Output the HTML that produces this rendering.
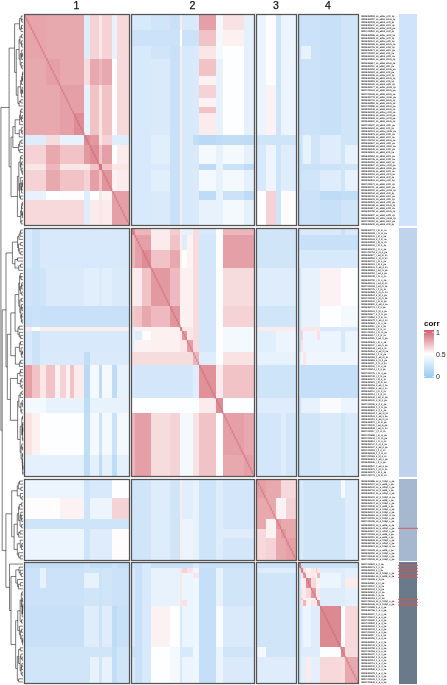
<!DOCTYPE html><html><head><meta charset="utf-8"><style>html,body{margin:0;padding:0;background:#fff}body{width:447px;height:685px;overflow:hidden}svg{display:block}text{font-family:"Liberation Sans",Arial,sans-serif}</style></head><body>
<svg width="447" height="685" viewBox="0 0 447 685" shape-rendering="crispEdges">
<rect x="24" y="14" width="8" height="16" fill="#e7a4aa"/>
<rect x="32" y="14" width="8" height="16" fill="#e7a4aa"/>
<rect x="40" y="14" width="6" height="16" fill="#e7a4aa"/>
<rect x="46" y="14" width="9" height="16" fill="#e8a9ae"/>
<rect x="55" y="14" width="5" height="16" fill="#e8a9ae"/>
<rect x="60" y="14" width="6" height="16" fill="#e8a9ae"/>
<rect x="66" y="14" width="4" height="16" fill="#e8a9ae"/>
<rect x="70" y="14" width="4" height="16" fill="#e8a9ae"/>
<rect x="74" y="14" width="10" height="16" fill="#e8a9ae"/>
<rect x="84" y="14" width="6" height="16" fill="#deecfb"/>
<rect x="90" y="14" width="9" height="16" fill="#f5d2d5"/>
<rect x="99" y="14" width="3" height="16" fill="#fae5e7"/>
<rect x="102" y="14" width="10" height="16" fill="#f5d2d5"/>
<rect x="112" y="14" width="5" height="16" fill="#e7f2fc"/>
<rect x="117" y="14" width="13" height="16" fill="#f7d9db"/>
<rect x="24" y="30" width="8" height="16" fill="#e7a4aa"/>
<rect x="32" y="30" width="8" height="16" fill="#e7a4aa"/>
<rect x="40" y="30" width="6" height="16" fill="#e7a4aa"/>
<rect x="46" y="30" width="9" height="16" fill="#e8a9ae"/>
<rect x="55" y="30" width="5" height="16" fill="#e8a9ae"/>
<rect x="60" y="30" width="6" height="16" fill="#e8a9ae"/>
<rect x="66" y="30" width="4" height="16" fill="#e8a9ae"/>
<rect x="70" y="30" width="4" height="16" fill="#e8a9ae"/>
<rect x="74" y="30" width="10" height="16" fill="#e8a9ae"/>
<rect x="84" y="30" width="6" height="16" fill="#deecfb"/>
<rect x="90" y="30" width="9" height="16" fill="#f5d2d5"/>
<rect x="99" y="30" width="3" height="16" fill="#fae5e7"/>
<rect x="102" y="30" width="10" height="16" fill="#f5d2d5"/>
<rect x="112" y="30" width="5" height="16" fill="#e7f2fc"/>
<rect x="117" y="30" width="13" height="16" fill="#f7d9db"/>
<rect x="24" y="46" width="8" height="13" fill="#e7a4aa"/>
<rect x="32" y="46" width="8" height="13" fill="#e7a4aa"/>
<rect x="40" y="46" width="6" height="13" fill="#e7a4aa"/>
<rect x="46" y="46" width="9" height="13" fill="#e8a9ae"/>
<rect x="55" y="46" width="5" height="13" fill="#e8a9ae"/>
<rect x="60" y="46" width="6" height="13" fill="#e8a9ae"/>
<rect x="66" y="46" width="4" height="13" fill="#e8a9ae"/>
<rect x="70" y="46" width="4" height="13" fill="#e8a9ae"/>
<rect x="74" y="46" width="10" height="13" fill="#e8a9ae"/>
<rect x="84" y="46" width="6" height="13" fill="#deecfb"/>
<rect x="90" y="46" width="9" height="13" fill="#f5d2d5"/>
<rect x="99" y="46" width="3" height="13" fill="#fae5e7"/>
<rect x="102" y="46" width="10" height="13" fill="#f5d2d5"/>
<rect x="112" y="46" width="5" height="13" fill="#e7f2fc"/>
<rect x="117" y="46" width="13" height="13" fill="#f7d9db"/>
<rect x="24" y="59" width="8" height="17" fill="#e8a9ae"/>
<rect x="32" y="59" width="8" height="17" fill="#e8a9ae"/>
<rect x="40" y="59" width="6" height="17" fill="#e8a9ae"/>
<rect x="46" y="59" width="9" height="17" fill="#e5a0a7"/>
<rect x="55" y="59" width="5" height="17" fill="#e5a0a7"/>
<rect x="60" y="59" width="6" height="17" fill="#e8a9ae"/>
<rect x="66" y="59" width="4" height="17" fill="#e8a9ae"/>
<rect x="70" y="59" width="4" height="17" fill="#e8a9ae"/>
<rect x="74" y="59" width="10" height="17" fill="#e8a9ae"/>
<rect x="84" y="59" width="6" height="17" fill="#f7dcde"/>
<rect x="90" y="59" width="9" height="17" fill="#e8a9ae"/>
<rect x="99" y="59" width="3" height="17" fill="#edb6ba"/>
<rect x="102" y="59" width="10" height="17" fill="#e8a9ae"/>
<rect x="112" y="59" width="5" height="17" fill="#fdfeff"/>
<rect x="117" y="59" width="13" height="17" fill="#f7d9db"/>
<rect x="24" y="76" width="8" height="9" fill="#e8a9ae"/>
<rect x="32" y="76" width="8" height="9" fill="#e8a9ae"/>
<rect x="40" y="76" width="6" height="9" fill="#e8a9ae"/>
<rect x="46" y="76" width="9" height="9" fill="#e5a0a7"/>
<rect x="55" y="76" width="5" height="9" fill="#e5a0a7"/>
<rect x="60" y="76" width="6" height="9" fill="#e8a9ae"/>
<rect x="66" y="76" width="4" height="9" fill="#e8a9ae"/>
<rect x="70" y="76" width="4" height="9" fill="#e8a9ae"/>
<rect x="74" y="76" width="10" height="9" fill="#e8a9ae"/>
<rect x="84" y="76" width="6" height="9" fill="#f7dcde"/>
<rect x="90" y="76" width="9" height="9" fill="#e8a9ae"/>
<rect x="99" y="76" width="3" height="9" fill="#edb6ba"/>
<rect x="102" y="76" width="10" height="9" fill="#e8a9ae"/>
<rect x="112" y="76" width="5" height="9" fill="#fdfeff"/>
<rect x="117" y="76" width="13" height="9" fill="#f7d9db"/>
<rect x="24" y="85" width="8" height="13" fill="#e8a9ae"/>
<rect x="32" y="85" width="8" height="13" fill="#e8a9ae"/>
<rect x="40" y="85" width="6" height="13" fill="#e8a9ae"/>
<rect x="46" y="85" width="9" height="13" fill="#e8a9ae"/>
<rect x="55" y="85" width="5" height="13" fill="#e8a9ae"/>
<rect x="60" y="85" width="6" height="13" fill="#e5a0a7"/>
<rect x="66" y="85" width="4" height="13" fill="#e5a0a7"/>
<rect x="70" y="85" width="4" height="13" fill="#e5a0a7"/>
<rect x="74" y="85" width="10" height="13" fill="#e5a0a7"/>
<rect x="84" y="85" width="6" height="13" fill="#e7f2fc"/>
<rect x="90" y="85" width="9" height="13" fill="#f1c3c7"/>
<rect x="99" y="85" width="3" height="13" fill="#fae5e7"/>
<rect x="102" y="85" width="10" height="13" fill="#f1c3c7"/>
<rect x="112" y="85" width="5" height="13" fill="#fefcfc"/>
<rect x="117" y="85" width="13" height="13" fill="#f7d9db"/>
<rect x="24" y="98" width="8" height="9" fill="#e8a9ae"/>
<rect x="32" y="98" width="8" height="9" fill="#e8a9ae"/>
<rect x="40" y="98" width="6" height="9" fill="#e8a9ae"/>
<rect x="46" y="98" width="9" height="9" fill="#e8a9ae"/>
<rect x="55" y="98" width="5" height="9" fill="#e8a9ae"/>
<rect x="60" y="98" width="6" height="9" fill="#e5a0a7"/>
<rect x="66" y="98" width="4" height="9" fill="#e5a0a7"/>
<rect x="70" y="98" width="4" height="9" fill="#e5a0a7"/>
<rect x="74" y="98" width="10" height="9" fill="#e5a0a7"/>
<rect x="84" y="98" width="6" height="9" fill="#e7f2fc"/>
<rect x="90" y="98" width="9" height="9" fill="#f1c3c7"/>
<rect x="99" y="98" width="3" height="9" fill="#fae5e7"/>
<rect x="102" y="98" width="10" height="9" fill="#f1c3c7"/>
<rect x="112" y="98" width="5" height="9" fill="#fefcfc"/>
<rect x="117" y="98" width="13" height="9" fill="#f7d9db"/>
<rect x="24" y="107" width="8" height="6" fill="#e8a9ae"/>
<rect x="32" y="107" width="8" height="6" fill="#e8a9ae"/>
<rect x="40" y="107" width="6" height="6" fill="#e8a9ae"/>
<rect x="46" y="107" width="9" height="6" fill="#e8a9ae"/>
<rect x="55" y="107" width="5" height="6" fill="#e8a9ae"/>
<rect x="60" y="107" width="6" height="6" fill="#e5a0a7"/>
<rect x="66" y="107" width="4" height="6" fill="#e5a0a7"/>
<rect x="70" y="107" width="4" height="6" fill="#e5a0a7"/>
<rect x="74" y="107" width="10" height="6" fill="#e5a0a7"/>
<rect x="84" y="107" width="6" height="6" fill="#e7f2fc"/>
<rect x="90" y="107" width="9" height="6" fill="#f1c3c7"/>
<rect x="99" y="107" width="3" height="6" fill="#fae5e7"/>
<rect x="102" y="107" width="10" height="6" fill="#f1c3c7"/>
<rect x="112" y="107" width="5" height="6" fill="#fefcfc"/>
<rect x="117" y="107" width="13" height="6" fill="#f7d9db"/>
<rect x="24" y="113" width="8" height="22" fill="#e8a9ae"/>
<rect x="32" y="113" width="8" height="22" fill="#e8a9ae"/>
<rect x="40" y="113" width="6" height="22" fill="#e8a9ae"/>
<rect x="46" y="113" width="9" height="22" fill="#e8a9ae"/>
<rect x="55" y="113" width="5" height="22" fill="#e8a9ae"/>
<rect x="60" y="113" width="6" height="22" fill="#e5a0a7"/>
<rect x="66" y="113" width="4" height="22" fill="#e5a0a7"/>
<rect x="70" y="113" width="4" height="22" fill="#e5a0a7"/>
<rect x="74" y="113" width="10" height="22" fill="#de8d96"/>
<rect x="84" y="113" width="6" height="22" fill="#e7f2fc"/>
<rect x="90" y="113" width="9" height="22" fill="#f1c3c7"/>
<rect x="99" y="113" width="3" height="22" fill="#fae5e7"/>
<rect x="102" y="113" width="10" height="22" fill="#f1c3c7"/>
<rect x="112" y="113" width="5" height="22" fill="#fefcfc"/>
<rect x="117" y="113" width="13" height="22" fill="#f7d9db"/>
<rect x="24" y="135" width="8" height="10" fill="#deecfb"/>
<rect x="32" y="135" width="8" height="10" fill="#deecfb"/>
<rect x="40" y="135" width="6" height="10" fill="#deecfb"/>
<rect x="46" y="135" width="9" height="10" fill="#f7dcde"/>
<rect x="55" y="135" width="5" height="10" fill="#f7dcde"/>
<rect x="60" y="135" width="6" height="10" fill="#e7f2fc"/>
<rect x="66" y="135" width="4" height="10" fill="#e7f2fc"/>
<rect x="70" y="135" width="4" height="10" fill="#e7f2fc"/>
<rect x="74" y="135" width="10" height="10" fill="#e7f2fc"/>
<rect x="84" y="135" width="6" height="10" fill="#de8d96"/>
<rect x="90" y="135" width="9" height="10" fill="#e399a0"/>
<rect x="99" y="135" width="3" height="10" fill="#fae5e7"/>
<rect x="102" y="135" width="10" height="10" fill="#f5d2d5"/>
<rect x="112" y="135" width="5" height="10" fill="#deecfb"/>
<rect x="117" y="135" width="13" height="10" fill="#deecfb"/>
<rect x="24" y="145" width="8" height="19" fill="#f5d2d5"/>
<rect x="32" y="145" width="8" height="19" fill="#f5d2d5"/>
<rect x="40" y="145" width="6" height="19" fill="#f5d2d5"/>
<rect x="46" y="145" width="9" height="19" fill="#e8a9ae"/>
<rect x="55" y="145" width="5" height="19" fill="#e8a9ae"/>
<rect x="60" y="145" width="6" height="19" fill="#f1c3c7"/>
<rect x="66" y="145" width="4" height="19" fill="#f1c3c7"/>
<rect x="70" y="145" width="4" height="19" fill="#f1c3c7"/>
<rect x="74" y="145" width="10" height="19" fill="#f1c3c7"/>
<rect x="84" y="145" width="6" height="19" fill="#e399a0"/>
<rect x="90" y="145" width="9" height="19" fill="#de8d96"/>
<rect x="99" y="145" width="3" height="19" fill="#f1c3c7"/>
<rect x="102" y="145" width="10" height="19" fill="#e5a0a7"/>
<rect x="112" y="145" width="5" height="19" fill="#fdfeff"/>
<rect x="117" y="145" width="13" height="19" fill="#fbebec"/>
<rect x="24" y="164" width="8" height="6" fill="#fae5e7"/>
<rect x="32" y="164" width="8" height="6" fill="#fae5e7"/>
<rect x="40" y="164" width="6" height="6" fill="#fae5e7"/>
<rect x="46" y="164" width="9" height="6" fill="#edb6ba"/>
<rect x="55" y="164" width="5" height="6" fill="#edb6ba"/>
<rect x="60" y="164" width="6" height="6" fill="#fae5e7"/>
<rect x="66" y="164" width="4" height="6" fill="#fae5e7"/>
<rect x="70" y="164" width="4" height="6" fill="#fae5e7"/>
<rect x="74" y="164" width="10" height="6" fill="#fae5e7"/>
<rect x="84" y="164" width="6" height="6" fill="#fae5e7"/>
<rect x="90" y="164" width="9" height="6" fill="#f1c3c7"/>
<rect x="99" y="164" width="3" height="6" fill="#d77a85"/>
<rect x="102" y="164" width="10" height="6" fill="#f1c3c7"/>
<rect x="112" y="164" width="5" height="6" fill="#fae5e7"/>
<rect x="117" y="164" width="13" height="6" fill="#fae5e7"/>
<rect x="24" y="170" width="8" height="21" fill="#f5d2d5"/>
<rect x="32" y="170" width="8" height="21" fill="#f5d2d5"/>
<rect x="40" y="170" width="6" height="21" fill="#f5d2d5"/>
<rect x="46" y="170" width="9" height="21" fill="#e8a9ae"/>
<rect x="55" y="170" width="5" height="21" fill="#e8a9ae"/>
<rect x="60" y="170" width="6" height="21" fill="#f1c3c7"/>
<rect x="66" y="170" width="4" height="21" fill="#f1c3c7"/>
<rect x="70" y="170" width="4" height="21" fill="#f1c3c7"/>
<rect x="74" y="170" width="10" height="21" fill="#f1c3c7"/>
<rect x="84" y="170" width="6" height="21" fill="#f5d2d5"/>
<rect x="90" y="170" width="9" height="21" fill="#e5a0a7"/>
<rect x="99" y="170" width="3" height="21" fill="#f1c3c7"/>
<rect x="102" y="170" width="10" height="21" fill="#e1959c"/>
<rect x="112" y="170" width="5" height="21" fill="#fcf2f3"/>
<rect x="117" y="170" width="13" height="21" fill="#fbebec"/>
<rect x="24" y="191" width="8" height="9" fill="#e7f2fc"/>
<rect x="32" y="191" width="8" height="9" fill="#e7f2fc"/>
<rect x="40" y="191" width="6" height="9" fill="#e7f2fc"/>
<rect x="46" y="191" width="9" height="9" fill="#fdfeff"/>
<rect x="55" y="191" width="5" height="9" fill="#fdfeff"/>
<rect x="60" y="191" width="6" height="9" fill="#fefcfc"/>
<rect x="66" y="191" width="4" height="9" fill="#fefcfc"/>
<rect x="70" y="191" width="4" height="9" fill="#fefcfc"/>
<rect x="74" y="191" width="10" height="9" fill="#fefcfc"/>
<rect x="84" y="191" width="6" height="9" fill="#deecfb"/>
<rect x="90" y="191" width="9" height="9" fill="#fdfeff"/>
<rect x="99" y="191" width="3" height="9" fill="#fae5e7"/>
<rect x="102" y="191" width="10" height="9" fill="#fcf2f3"/>
<rect x="112" y="191" width="5" height="9" fill="#e5a0a7"/>
<rect x="117" y="191" width="13" height="9" fill="#e5a0a7"/>
<rect x="24" y="200" width="8" height="26" fill="#f7d9db"/>
<rect x="32" y="200" width="8" height="26" fill="#f7d9db"/>
<rect x="40" y="200" width="6" height="26" fill="#f7d9db"/>
<rect x="46" y="200" width="9" height="26" fill="#f7d9db"/>
<rect x="55" y="200" width="5" height="26" fill="#f7d9db"/>
<rect x="60" y="200" width="6" height="26" fill="#f7d9db"/>
<rect x="66" y="200" width="4" height="26" fill="#f7d9db"/>
<rect x="70" y="200" width="4" height="26" fill="#f7d9db"/>
<rect x="74" y="200" width="10" height="26" fill="#f7d9db"/>
<rect x="84" y="200" width="6" height="26" fill="#deecfb"/>
<rect x="90" y="200" width="9" height="26" fill="#fbebec"/>
<rect x="99" y="200" width="3" height="26" fill="#fae5e7"/>
<rect x="102" y="200" width="10" height="26" fill="#fbebec"/>
<rect x="112" y="200" width="5" height="26" fill="#e5a0a7"/>
<rect x="117" y="200" width="13" height="26" fill="#e5a0a7"/>
<rect x="131" y="14" width="4" height="16" fill="#d7e9fa"/>
<rect x="135" y="14" width="7" height="16" fill="#d7e9fa"/>
<rect x="142" y="14" width="9" height="16" fill="#d7e9fa"/>
<rect x="151" y="14" width="19" height="16" fill="#d1e5f9"/>
<rect x="170" y="14" width="10" height="16" fill="#c8e1f8"/>
<rect x="180" y="14" width="2" height="16" fill="#fbedee"/>
<rect x="182" y="14" width="5" height="16" fill="#d7e9fa"/>
<rect x="187" y="14" width="6" height="16" fill="#d7e9fa"/>
<rect x="193" y="14" width="6" height="16" fill="#daeafa"/>
<rect x="199" y="14" width="17" height="16" fill="#e5a0a7"/>
<rect x="216" y="14" width="7" height="16" fill="#f4f9fe"/>
<rect x="223" y="14" width="21" height="16" fill="#f9e2e3"/>
<rect x="244" y="14" width="11" height="16" fill="#e4f0fc"/>
<rect x="131" y="30" width="4" height="16" fill="#cbe2f8"/>
<rect x="135" y="30" width="7" height="16" fill="#cbe2f8"/>
<rect x="142" y="30" width="9" height="16" fill="#cbe2f8"/>
<rect x="151" y="30" width="19" height="16" fill="#cbe2f8"/>
<rect x="170" y="30" width="10" height="16" fill="#cbe2f8"/>
<rect x="180" y="30" width="2" height="16" fill="#fdfeff"/>
<rect x="182" y="30" width="5" height="16" fill="#cbe2f8"/>
<rect x="187" y="30" width="6" height="16" fill="#cbe2f8"/>
<rect x="193" y="30" width="6" height="16" fill="#cbe2f8"/>
<rect x="199" y="30" width="17" height="16" fill="#f1c3c7"/>
<rect x="216" y="30" width="7" height="16" fill="#f4f9fe"/>
<rect x="223" y="30" width="21" height="16" fill="#fcf0f0"/>
<rect x="244" y="30" width="11" height="16" fill="#e4f0fc"/>
<rect x="131" y="46" width="4" height="13" fill="#d7e9fa"/>
<rect x="135" y="46" width="7" height="13" fill="#d7e9fa"/>
<rect x="142" y="46" width="9" height="13" fill="#d7e9fa"/>
<rect x="151" y="46" width="19" height="13" fill="#d1e5f9"/>
<rect x="170" y="46" width="10" height="13" fill="#c8e1f8"/>
<rect x="180" y="46" width="2" height="13" fill="#fbedee"/>
<rect x="182" y="46" width="5" height="13" fill="#d7e9fa"/>
<rect x="187" y="46" width="6" height="13" fill="#d7e9fa"/>
<rect x="193" y="46" width="6" height="13" fill="#daeafa"/>
<rect x="199" y="46" width="17" height="13" fill="#fae5e7"/>
<rect x="216" y="46" width="7" height="13" fill="#f4f9fe"/>
<rect x="223" y="46" width="21" height="13" fill="#fdfeff"/>
<rect x="244" y="46" width="11" height="13" fill="#e4f0fc"/>
<rect x="131" y="59" width="4" height="17" fill="#d7e9fa"/>
<rect x="135" y="59" width="7" height="17" fill="#d7e9fa"/>
<rect x="142" y="59" width="9" height="17" fill="#d7e9fa"/>
<rect x="151" y="59" width="19" height="17" fill="#daeafa"/>
<rect x="170" y="59" width="10" height="17" fill="#c8e1f8"/>
<rect x="180" y="59" width="2" height="17" fill="#fbedee"/>
<rect x="182" y="59" width="5" height="17" fill="#d7e9fa"/>
<rect x="187" y="59" width="6" height="17" fill="#d7e9fa"/>
<rect x="193" y="59" width="6" height="17" fill="#daeafa"/>
<rect x="199" y="59" width="17" height="17" fill="#f1c3c7"/>
<rect x="216" y="59" width="7" height="17" fill="#e7f2fc"/>
<rect x="223" y="59" width="21" height="17" fill="#fdfeff"/>
<rect x="244" y="59" width="11" height="17" fill="#e4f0fc"/>
<rect x="131" y="76" width="4" height="9" fill="#d7e9fa"/>
<rect x="135" y="76" width="7" height="9" fill="#d7e9fa"/>
<rect x="142" y="76" width="9" height="9" fill="#d7e9fa"/>
<rect x="151" y="76" width="19" height="9" fill="#daeafa"/>
<rect x="170" y="76" width="10" height="9" fill="#c8e1f8"/>
<rect x="180" y="76" width="2" height="9" fill="#fbedee"/>
<rect x="182" y="76" width="5" height="9" fill="#d7e9fa"/>
<rect x="187" y="76" width="6" height="9" fill="#d7e9fa"/>
<rect x="193" y="76" width="6" height="9" fill="#daeafa"/>
<rect x="199" y="76" width="17" height="9" fill="#fcf2f3"/>
<rect x="216" y="76" width="7" height="9" fill="#e7f2fc"/>
<rect x="223" y="76" width="21" height="9" fill="#fdfeff"/>
<rect x="244" y="76" width="11" height="9" fill="#e4f0fc"/>
<rect x="131" y="85" width="4" height="13" fill="#d7e9fa"/>
<rect x="135" y="85" width="7" height="13" fill="#d7e9fa"/>
<rect x="142" y="85" width="9" height="13" fill="#d7e9fa"/>
<rect x="151" y="85" width="19" height="13" fill="#daeafa"/>
<rect x="170" y="85" width="10" height="13" fill="#c8e1f8"/>
<rect x="180" y="85" width="2" height="13" fill="#fbedee"/>
<rect x="182" y="85" width="5" height="13" fill="#d7e9fa"/>
<rect x="187" y="85" width="6" height="13" fill="#d7e9fa"/>
<rect x="193" y="85" width="6" height="13" fill="#daeafa"/>
<rect x="199" y="85" width="17" height="13" fill="#f5d2d5"/>
<rect x="216" y="85" width="7" height="13" fill="#e7f2fc"/>
<rect x="223" y="85" width="21" height="13" fill="#fdfeff"/>
<rect x="244" y="85" width="11" height="13" fill="#e4f0fc"/>
<rect x="131" y="98" width="4" height="9" fill="#d7e9fa"/>
<rect x="135" y="98" width="7" height="9" fill="#d7e9fa"/>
<rect x="142" y="98" width="9" height="9" fill="#d7e9fa"/>
<rect x="151" y="98" width="19" height="9" fill="#daeafa"/>
<rect x="170" y="98" width="10" height="9" fill="#c8e1f8"/>
<rect x="180" y="98" width="2" height="9" fill="#fbedee"/>
<rect x="182" y="98" width="5" height="9" fill="#d7e9fa"/>
<rect x="187" y="98" width="6" height="9" fill="#d7e9fa"/>
<rect x="193" y="98" width="6" height="9" fill="#daeafa"/>
<rect x="199" y="98" width="17" height="9" fill="#fcf2f3"/>
<rect x="216" y="98" width="7" height="9" fill="#e7f2fc"/>
<rect x="223" y="98" width="21" height="9" fill="#fdfeff"/>
<rect x="244" y="98" width="11" height="9" fill="#e4f0fc"/>
<rect x="131" y="107" width="4" height="6" fill="#d7e9fa"/>
<rect x="135" y="107" width="7" height="6" fill="#d7e9fa"/>
<rect x="142" y="107" width="9" height="6" fill="#d7e9fa"/>
<rect x="151" y="107" width="19" height="6" fill="#daeafa"/>
<rect x="170" y="107" width="10" height="6" fill="#c8e1f8"/>
<rect x="180" y="107" width="2" height="6" fill="#fbedee"/>
<rect x="182" y="107" width="5" height="6" fill="#d7e9fa"/>
<rect x="187" y="107" width="6" height="6" fill="#d7e9fa"/>
<rect x="193" y="107" width="6" height="6" fill="#daeafa"/>
<rect x="199" y="107" width="17" height="6" fill="#f1c3c7"/>
<rect x="216" y="107" width="7" height="6" fill="#e7f2fc"/>
<rect x="223" y="107" width="21" height="6" fill="#fdfeff"/>
<rect x="244" y="107" width="11" height="6" fill="#e4f0fc"/>
<rect x="131" y="113" width="4" height="22" fill="#d7e9fa"/>
<rect x="135" y="113" width="7" height="22" fill="#d7e9fa"/>
<rect x="142" y="113" width="9" height="22" fill="#d7e9fa"/>
<rect x="151" y="113" width="19" height="22" fill="#daeafa"/>
<rect x="170" y="113" width="10" height="22" fill="#c8e1f8"/>
<rect x="180" y="113" width="2" height="22" fill="#fbedee"/>
<rect x="182" y="113" width="5" height="22" fill="#d7e9fa"/>
<rect x="187" y="113" width="6" height="22" fill="#d7e9fa"/>
<rect x="193" y="113" width="6" height="22" fill="#daeafa"/>
<rect x="199" y="113" width="17" height="22" fill="#fbebec"/>
<rect x="216" y="113" width="7" height="22" fill="#e7f2fc"/>
<rect x="223" y="113" width="21" height="22" fill="#fdfeff"/>
<rect x="244" y="113" width="11" height="22" fill="#e4f0fc"/>
<rect x="131" y="135" width="4" height="10" fill="#d7e9fa"/>
<rect x="135" y="135" width="7" height="10" fill="#d7e9fa"/>
<rect x="142" y="135" width="9" height="10" fill="#d7e9fa"/>
<rect x="151" y="135" width="19" height="10" fill="#e1eefb"/>
<rect x="170" y="135" width="10" height="10" fill="#c8e1f8"/>
<rect x="180" y="135" width="2" height="10" fill="#fbedee"/>
<rect x="182" y="135" width="5" height="10" fill="#d7e9fa"/>
<rect x="187" y="135" width="6" height="10" fill="#d7e9fa"/>
<rect x="193" y="135" width="6" height="10" fill="#c2def7"/>
<rect x="199" y="135" width="17" height="10" fill="#bad9f6"/>
<rect x="216" y="135" width="7" height="10" fill="#bfdcf7"/>
<rect x="223" y="135" width="21" height="10" fill="#c2def7"/>
<rect x="244" y="135" width="11" height="10" fill="#bfdcf7"/>
<rect x="131" y="145" width="4" height="19" fill="#d7e9fa"/>
<rect x="135" y="145" width="7" height="19" fill="#d7e9fa"/>
<rect x="142" y="145" width="9" height="19" fill="#d7e9fa"/>
<rect x="151" y="145" width="19" height="19" fill="#e1eefb"/>
<rect x="170" y="145" width="10" height="19" fill="#c8e1f8"/>
<rect x="180" y="145" width="2" height="19" fill="#fbedee"/>
<rect x="182" y="145" width="5" height="19" fill="#d7e9fa"/>
<rect x="187" y="145" width="6" height="19" fill="#d7e9fa"/>
<rect x="193" y="145" width="6" height="19" fill="#daeafa"/>
<rect x="199" y="145" width="17" height="19" fill="#f4f9fe"/>
<rect x="216" y="145" width="7" height="19" fill="#e7f2fc"/>
<rect x="223" y="145" width="21" height="19" fill="#f4f9fe"/>
<rect x="244" y="145" width="11" height="19" fill="#e4f0fc"/>
<rect x="131" y="164" width="4" height="6" fill="#d7e9fa"/>
<rect x="135" y="164" width="7" height="6" fill="#d7e9fa"/>
<rect x="142" y="164" width="9" height="6" fill="#d7e9fa"/>
<rect x="151" y="164" width="19" height="6" fill="#daeafa"/>
<rect x="170" y="164" width="10" height="6" fill="#c8e1f8"/>
<rect x="180" y="164" width="2" height="6" fill="#fbedee"/>
<rect x="182" y="164" width="5" height="6" fill="#d7e9fa"/>
<rect x="187" y="164" width="6" height="6" fill="#d7e9fa"/>
<rect x="193" y="164" width="6" height="6" fill="#daeafa"/>
<rect x="199" y="164" width="17" height="6" fill="#bfdcf7"/>
<rect x="216" y="164" width="7" height="6" fill="#e7f2fc"/>
<rect x="223" y="164" width="21" height="6" fill="#cbe2f8"/>
<rect x="244" y="164" width="11" height="6" fill="#bfdcf7"/>
<rect x="131" y="170" width="4" height="21" fill="#d7e9fa"/>
<rect x="135" y="170" width="7" height="21" fill="#d7e9fa"/>
<rect x="142" y="170" width="9" height="21" fill="#d7e9fa"/>
<rect x="151" y="170" width="19" height="21" fill="#e1eefb"/>
<rect x="170" y="170" width="10" height="21" fill="#c8e1f8"/>
<rect x="180" y="170" width="2" height="21" fill="#fbedee"/>
<rect x="182" y="170" width="5" height="21" fill="#d7e9fa"/>
<rect x="187" y="170" width="6" height="21" fill="#d7e9fa"/>
<rect x="193" y="170" width="6" height="21" fill="#daeafa"/>
<rect x="199" y="170" width="17" height="21" fill="#f4f9fe"/>
<rect x="216" y="170" width="7" height="21" fill="#e7f2fc"/>
<rect x="223" y="170" width="21" height="21" fill="#f4f9fe"/>
<rect x="244" y="170" width="11" height="21" fill="#e4f0fc"/>
<rect x="131" y="191" width="4" height="9" fill="#d7e9fa"/>
<rect x="135" y="191" width="7" height="9" fill="#d7e9fa"/>
<rect x="142" y="191" width="9" height="9" fill="#d7e9fa"/>
<rect x="151" y="191" width="19" height="9" fill="#daeafa"/>
<rect x="170" y="191" width="10" height="9" fill="#c8e1f8"/>
<rect x="180" y="191" width="2" height="9" fill="#fbedee"/>
<rect x="182" y="191" width="5" height="9" fill="#d7e9fa"/>
<rect x="187" y="191" width="6" height="9" fill="#d7e9fa"/>
<rect x="193" y="191" width="6" height="9" fill="#daeafa"/>
<rect x="199" y="191" width="17" height="9" fill="#bfdcf7"/>
<rect x="216" y="191" width="7" height="9" fill="#e7f2fc"/>
<rect x="223" y="191" width="21" height="9" fill="#cbe2f8"/>
<rect x="244" y="191" width="11" height="9" fill="#bfdcf7"/>
<rect x="131" y="200" width="4" height="26" fill="#d7e9fa"/>
<rect x="135" y="200" width="7" height="26" fill="#d7e9fa"/>
<rect x="142" y="200" width="9" height="26" fill="#d7e9fa"/>
<rect x="151" y="200" width="19" height="26" fill="#daeafa"/>
<rect x="170" y="200" width="10" height="26" fill="#c8e1f8"/>
<rect x="180" y="200" width="2" height="26" fill="#fbedee"/>
<rect x="182" y="200" width="5" height="26" fill="#d7e9fa"/>
<rect x="187" y="200" width="6" height="26" fill="#d7e9fa"/>
<rect x="193" y="200" width="6" height="26" fill="#daeafa"/>
<rect x="199" y="200" width="17" height="26" fill="#e7f2fc"/>
<rect x="216" y="200" width="7" height="26" fill="#e7f2fc"/>
<rect x="223" y="200" width="21" height="26" fill="#f4f9fe"/>
<rect x="244" y="200" width="11" height="26" fill="#e4f0fc"/>
<rect x="256" y="14" width="10" height="16" fill="#ecf4fd"/>
<rect x="266" y="14" width="10" height="16" fill="#fefcfc"/>
<rect x="276" y="14" width="5" height="16" fill="#cee4f9"/>
<rect x="281" y="14" width="5" height="16" fill="#ecf4fd"/>
<rect x="286" y="14" width="11" height="16" fill="#ecf4fd"/>
<rect x="256" y="30" width="10" height="16" fill="#ecf4fd"/>
<rect x="266" y="30" width="10" height="16" fill="#fefcfc"/>
<rect x="276" y="30" width="5" height="16" fill="#cee4f9"/>
<rect x="281" y="30" width="5" height="16" fill="#ecf4fd"/>
<rect x="286" y="30" width="11" height="16" fill="#ecf4fd"/>
<rect x="256" y="46" width="10" height="13" fill="#ecf4fd"/>
<rect x="266" y="46" width="10" height="13" fill="#fefcfc"/>
<rect x="276" y="46" width="5" height="13" fill="#cee4f9"/>
<rect x="281" y="46" width="5" height="13" fill="#ecf4fd"/>
<rect x="286" y="46" width="11" height="13" fill="#ecf4fd"/>
<rect x="256" y="59" width="10" height="17" fill="#ecf4fd"/>
<rect x="266" y="59" width="10" height="17" fill="#fefcfc"/>
<rect x="276" y="59" width="5" height="17" fill="#cee4f9"/>
<rect x="281" y="59" width="5" height="17" fill="#ecf4fd"/>
<rect x="286" y="59" width="11" height="17" fill="#ecf4fd"/>
<rect x="256" y="76" width="10" height="9" fill="#ecf4fd"/>
<rect x="266" y="76" width="10" height="9" fill="#fefcfc"/>
<rect x="276" y="76" width="5" height="9" fill="#cee4f9"/>
<rect x="281" y="76" width="5" height="9" fill="#ecf4fd"/>
<rect x="286" y="76" width="11" height="9" fill="#ecf4fd"/>
<rect x="256" y="85" width="10" height="13" fill="#ecf4fd"/>
<rect x="266" y="85" width="10" height="13" fill="#fcf2f3"/>
<rect x="276" y="85" width="5" height="13" fill="#cee4f9"/>
<rect x="281" y="85" width="5" height="13" fill="#ecf4fd"/>
<rect x="286" y="85" width="11" height="13" fill="#ecf4fd"/>
<rect x="256" y="98" width="10" height="9" fill="#ecf4fd"/>
<rect x="266" y="98" width="10" height="9" fill="#fcf2f3"/>
<rect x="276" y="98" width="5" height="9" fill="#cee4f9"/>
<rect x="281" y="98" width="5" height="9" fill="#ecf4fd"/>
<rect x="286" y="98" width="11" height="9" fill="#ecf4fd"/>
<rect x="256" y="107" width="10" height="6" fill="#ecf4fd"/>
<rect x="266" y="107" width="10" height="6" fill="#fcf2f3"/>
<rect x="276" y="107" width="5" height="6" fill="#cee4f9"/>
<rect x="281" y="107" width="5" height="6" fill="#ecf4fd"/>
<rect x="286" y="107" width="11" height="6" fill="#ecf4fd"/>
<rect x="256" y="113" width="10" height="22" fill="#ecf4fd"/>
<rect x="266" y="113" width="10" height="22" fill="#fcf2f3"/>
<rect x="276" y="113" width="5" height="22" fill="#cee4f9"/>
<rect x="281" y="113" width="5" height="22" fill="#ecf4fd"/>
<rect x="286" y="113" width="11" height="22" fill="#ecf4fd"/>
<rect x="256" y="135" width="10" height="10" fill="#cee4f9"/>
<rect x="266" y="135" width="10" height="10" fill="#cee4f9"/>
<rect x="276" y="135" width="5" height="10" fill="#cee4f9"/>
<rect x="281" y="135" width="5" height="10" fill="#cee4f9"/>
<rect x="286" y="135" width="11" height="10" fill="#cee4f9"/>
<rect x="256" y="145" width="10" height="19" fill="#d7e9fa"/>
<rect x="266" y="145" width="10" height="19" fill="#ecf4fd"/>
<rect x="276" y="145" width="5" height="19" fill="#cee4f9"/>
<rect x="281" y="145" width="5" height="19" fill="#deecfb"/>
<rect x="286" y="145" width="11" height="19" fill="#deecfb"/>
<rect x="256" y="164" width="10" height="6" fill="#d7e9fa"/>
<rect x="266" y="164" width="10" height="6" fill="#ecf4fd"/>
<rect x="276" y="164" width="5" height="6" fill="#cee4f9"/>
<rect x="281" y="164" width="5" height="6" fill="#deecfb"/>
<rect x="286" y="164" width="11" height="6" fill="#deecfb"/>
<rect x="256" y="170" width="10" height="21" fill="#d7e9fa"/>
<rect x="266" y="170" width="10" height="21" fill="#ecf4fd"/>
<rect x="276" y="170" width="5" height="21" fill="#cee4f9"/>
<rect x="281" y="170" width="5" height="21" fill="#deecfb"/>
<rect x="286" y="170" width="11" height="21" fill="#deecfb"/>
<rect x="256" y="191" width="10" height="9" fill="#fdfeff"/>
<rect x="266" y="191" width="10" height="9" fill="#f5d2d5"/>
<rect x="276" y="191" width="5" height="9" fill="#cee4f9"/>
<rect x="281" y="191" width="5" height="9" fill="#fefcfc"/>
<rect x="286" y="191" width="11" height="9" fill="#fefcfc"/>
<rect x="256" y="200" width="10" height="26" fill="#fdfeff"/>
<rect x="266" y="200" width="10" height="26" fill="#f5d2d5"/>
<rect x="276" y="200" width="5" height="26" fill="#cee4f9"/>
<rect x="281" y="200" width="5" height="26" fill="#fefcfc"/>
<rect x="286" y="200" width="11" height="26" fill="#fefcfc"/>
<rect x="298" y="14" width="3" height="16" fill="#c2def7"/>
<rect x="301" y="14" width="2" height="16" fill="#cbe2f8"/>
<rect x="303" y="14" width="3" height="16" fill="#cbe2f8"/>
<rect x="306" y="14" width="5" height="16" fill="#cbe2f8"/>
<rect x="311" y="14" width="5" height="16" fill="#cbe2f8"/>
<rect x="316" y="14" width="1" height="16" fill="#cbe2f8"/>
<rect x="317" y="14" width="3" height="16" fill="#cbe2f8"/>
<rect x="320" y="14" width="21" height="16" fill="#c8e1f8"/>
<rect x="341" y="14" width="4" height="16" fill="#d1e5f9"/>
<rect x="345" y="14" width="14" height="16" fill="#d1e5f9"/>
<rect x="298" y="30" width="3" height="16" fill="#c2def7"/>
<rect x="301" y="30" width="2" height="16" fill="#cbe2f8"/>
<rect x="303" y="30" width="3" height="16" fill="#cbe2f8"/>
<rect x="306" y="30" width="5" height="16" fill="#cbe2f8"/>
<rect x="311" y="30" width="5" height="16" fill="#cbe2f8"/>
<rect x="316" y="30" width="1" height="16" fill="#cbe2f8"/>
<rect x="317" y="30" width="3" height="16" fill="#cbe2f8"/>
<rect x="320" y="30" width="21" height="16" fill="#c8e1f8"/>
<rect x="341" y="30" width="4" height="16" fill="#d1e5f9"/>
<rect x="345" y="30" width="14" height="16" fill="#d1e5f9"/>
<rect x="298" y="46" width="3" height="13" fill="#c2def7"/>
<rect x="301" y="46" width="2" height="13" fill="#e7f2fc"/>
<rect x="303" y="46" width="3" height="13" fill="#e7f2fc"/>
<rect x="306" y="46" width="5" height="13" fill="#e7f2fc"/>
<rect x="311" y="46" width="5" height="13" fill="#cbe2f8"/>
<rect x="316" y="46" width="1" height="13" fill="#cbe2f8"/>
<rect x="317" y="46" width="3" height="13" fill="#cbe2f8"/>
<rect x="320" y="46" width="21" height="13" fill="#c8e1f8"/>
<rect x="341" y="46" width="4" height="13" fill="#d1e5f9"/>
<rect x="345" y="46" width="14" height="13" fill="#d1e5f9"/>
<rect x="298" y="59" width="3" height="17" fill="#c2def7"/>
<rect x="301" y="59" width="2" height="17" fill="#cbe2f8"/>
<rect x="303" y="59" width="3" height="17" fill="#cbe2f8"/>
<rect x="306" y="59" width="5" height="17" fill="#cbe2f8"/>
<rect x="311" y="59" width="5" height="17" fill="#cbe2f8"/>
<rect x="316" y="59" width="1" height="17" fill="#cbe2f8"/>
<rect x="317" y="59" width="3" height="17" fill="#cbe2f8"/>
<rect x="320" y="59" width="21" height="17" fill="#c8e1f8"/>
<rect x="341" y="59" width="4" height="17" fill="#d1e5f9"/>
<rect x="345" y="59" width="14" height="17" fill="#d1e5f9"/>
<rect x="298" y="76" width="3" height="9" fill="#c2def7"/>
<rect x="301" y="76" width="2" height="9" fill="#cbe2f8"/>
<rect x="303" y="76" width="3" height="9" fill="#cbe2f8"/>
<rect x="306" y="76" width="5" height="9" fill="#cbe2f8"/>
<rect x="311" y="76" width="5" height="9" fill="#cbe2f8"/>
<rect x="316" y="76" width="1" height="9" fill="#cbe2f8"/>
<rect x="317" y="76" width="3" height="9" fill="#cbe2f8"/>
<rect x="320" y="76" width="21" height="9" fill="#c8e1f8"/>
<rect x="341" y="76" width="4" height="9" fill="#d1e5f9"/>
<rect x="345" y="76" width="14" height="9" fill="#d1e5f9"/>
<rect x="298" y="85" width="3" height="13" fill="#c2def7"/>
<rect x="301" y="85" width="2" height="13" fill="#cbe2f8"/>
<rect x="303" y="85" width="3" height="13" fill="#cbe2f8"/>
<rect x="306" y="85" width="5" height="13" fill="#cbe2f8"/>
<rect x="311" y="85" width="5" height="13" fill="#cbe2f8"/>
<rect x="316" y="85" width="1" height="13" fill="#cbe2f8"/>
<rect x="317" y="85" width="3" height="13" fill="#cbe2f8"/>
<rect x="320" y="85" width="21" height="13" fill="#c8e1f8"/>
<rect x="341" y="85" width="4" height="13" fill="#d1e5f9"/>
<rect x="345" y="85" width="14" height="13" fill="#d1e5f9"/>
<rect x="298" y="98" width="3" height="9" fill="#c2def7"/>
<rect x="301" y="98" width="2" height="9" fill="#cbe2f8"/>
<rect x="303" y="98" width="3" height="9" fill="#cbe2f8"/>
<rect x="306" y="98" width="5" height="9" fill="#cbe2f8"/>
<rect x="311" y="98" width="5" height="9" fill="#cbe2f8"/>
<rect x="316" y="98" width="1" height="9" fill="#cbe2f8"/>
<rect x="317" y="98" width="3" height="9" fill="#cbe2f8"/>
<rect x="320" y="98" width="21" height="9" fill="#c8e1f8"/>
<rect x="341" y="98" width="4" height="9" fill="#d1e5f9"/>
<rect x="345" y="98" width="14" height="9" fill="#d1e5f9"/>
<rect x="298" y="107" width="3" height="6" fill="#c2def7"/>
<rect x="301" y="107" width="2" height="6" fill="#cbe2f8"/>
<rect x="303" y="107" width="3" height="6" fill="#cbe2f8"/>
<rect x="306" y="107" width="5" height="6" fill="#cbe2f8"/>
<rect x="311" y="107" width="5" height="6" fill="#cbe2f8"/>
<rect x="316" y="107" width="1" height="6" fill="#cbe2f8"/>
<rect x="317" y="107" width="3" height="6" fill="#cbe2f8"/>
<rect x="320" y="107" width="21" height="6" fill="#c8e1f8"/>
<rect x="341" y="107" width="4" height="6" fill="#d1e5f9"/>
<rect x="345" y="107" width="14" height="6" fill="#d1e5f9"/>
<rect x="298" y="113" width="3" height="22" fill="#c2def7"/>
<rect x="301" y="113" width="2" height="22" fill="#cbe2f8"/>
<rect x="303" y="113" width="3" height="22" fill="#cbe2f8"/>
<rect x="306" y="113" width="5" height="22" fill="#cbe2f8"/>
<rect x="311" y="113" width="5" height="22" fill="#cbe2f8"/>
<rect x="316" y="113" width="1" height="22" fill="#cbe2f8"/>
<rect x="317" y="113" width="3" height="22" fill="#cbe2f8"/>
<rect x="320" y="113" width="21" height="22" fill="#c8e1f8"/>
<rect x="341" y="113" width="4" height="22" fill="#d1e5f9"/>
<rect x="345" y="113" width="14" height="22" fill="#d1e5f9"/>
<rect x="298" y="135" width="3" height="10" fill="#cbe2f8"/>
<rect x="301" y="135" width="2" height="10" fill="#d1e5f9"/>
<rect x="303" y="135" width="3" height="10" fill="#e7f2fc"/>
<rect x="306" y="135" width="5" height="10" fill="#e7f2fc"/>
<rect x="311" y="135" width="5" height="10" fill="#d1e5f9"/>
<rect x="316" y="135" width="1" height="10" fill="#d1e5f9"/>
<rect x="317" y="135" width="3" height="10" fill="#d1e5f9"/>
<rect x="320" y="135" width="21" height="10" fill="#deecfb"/>
<rect x="341" y="135" width="4" height="10" fill="#d1e5f9"/>
<rect x="345" y="135" width="14" height="10" fill="#d1e5f9"/>
<rect x="298" y="145" width="3" height="19" fill="#c2def7"/>
<rect x="301" y="145" width="2" height="19" fill="#d1e5f9"/>
<rect x="303" y="145" width="3" height="19" fill="#e7f2fc"/>
<rect x="306" y="145" width="5" height="19" fill="#e7f2fc"/>
<rect x="311" y="145" width="5" height="19" fill="#d1e5f9"/>
<rect x="316" y="145" width="1" height="19" fill="#d1e5f9"/>
<rect x="317" y="145" width="3" height="19" fill="#d1e5f9"/>
<rect x="320" y="145" width="21" height="19" fill="#deecfb"/>
<rect x="341" y="145" width="4" height="19" fill="#d1e5f9"/>
<rect x="345" y="145" width="14" height="19" fill="#e7f2fc"/>
<rect x="298" y="164" width="3" height="6" fill="#c2def7"/>
<rect x="301" y="164" width="2" height="6" fill="#cbe2f8"/>
<rect x="303" y="164" width="3" height="6" fill="#cbe2f8"/>
<rect x="306" y="164" width="5" height="6" fill="#cbe2f8"/>
<rect x="311" y="164" width="5" height="6" fill="#cbe2f8"/>
<rect x="316" y="164" width="1" height="6" fill="#cbe2f8"/>
<rect x="317" y="164" width="3" height="6" fill="#cbe2f8"/>
<rect x="320" y="164" width="21" height="6" fill="#cbe2f8"/>
<rect x="341" y="164" width="4" height="6" fill="#d1e5f9"/>
<rect x="345" y="164" width="14" height="6" fill="#d1e5f9"/>
<rect x="298" y="170" width="3" height="21" fill="#c2def7"/>
<rect x="301" y="170" width="2" height="21" fill="#d1e5f9"/>
<rect x="303" y="170" width="3" height="21" fill="#d1e5f9"/>
<rect x="306" y="170" width="5" height="21" fill="#d1e5f9"/>
<rect x="311" y="170" width="5" height="21" fill="#d1e5f9"/>
<rect x="316" y="170" width="1" height="21" fill="#d1e5f9"/>
<rect x="317" y="170" width="3" height="21" fill="#d1e5f9"/>
<rect x="320" y="170" width="21" height="21" fill="#deecfb"/>
<rect x="341" y="170" width="4" height="21" fill="#d1e5f9"/>
<rect x="345" y="170" width="14" height="21" fill="#e7f2fc"/>
<rect x="298" y="191" width="3" height="9" fill="#cbe2f8"/>
<rect x="301" y="191" width="2" height="9" fill="#cbe2f8"/>
<rect x="303" y="191" width="3" height="9" fill="#cbe2f8"/>
<rect x="306" y="191" width="5" height="9" fill="#cbe2f8"/>
<rect x="311" y="191" width="5" height="9" fill="#cbe2f8"/>
<rect x="316" y="191" width="1" height="9" fill="#cbe2f8"/>
<rect x="317" y="191" width="3" height="9" fill="#cbe2f8"/>
<rect x="320" y="191" width="21" height="9" fill="#bfdcf7"/>
<rect x="341" y="191" width="4" height="9" fill="#c2def7"/>
<rect x="345" y="191" width="14" height="9" fill="#c2def7"/>
<rect x="298" y="200" width="3" height="26" fill="#c2def7"/>
<rect x="301" y="200" width="2" height="26" fill="#cbe2f8"/>
<rect x="303" y="200" width="3" height="26" fill="#cbe2f8"/>
<rect x="306" y="200" width="5" height="26" fill="#cbe2f8"/>
<rect x="311" y="200" width="5" height="26" fill="#cbe2f8"/>
<rect x="316" y="200" width="1" height="26" fill="#cbe2f8"/>
<rect x="317" y="200" width="3" height="26" fill="#cbe2f8"/>
<rect x="320" y="200" width="21" height="26" fill="#c8e1f8"/>
<rect x="341" y="200" width="4" height="26" fill="#d1e5f9"/>
<rect x="345" y="200" width="14" height="26" fill="#d1e5f9"/>
<rect x="24" y="228" width="8" height="7" fill="#d7e9fa"/>
<rect x="32" y="228" width="8" height="7" fill="#cbe2f8"/>
<rect x="40" y="228" width="6" height="7" fill="#d7e9fa"/>
<rect x="46" y="228" width="9" height="7" fill="#d7e9fa"/>
<rect x="55" y="228" width="5" height="7" fill="#d7e9fa"/>
<rect x="60" y="228" width="6" height="7" fill="#d7e9fa"/>
<rect x="66" y="228" width="4" height="7" fill="#d7e9fa"/>
<rect x="70" y="228" width="4" height="7" fill="#d7e9fa"/>
<rect x="74" y="228" width="10" height="7" fill="#d7e9fa"/>
<rect x="84" y="228" width="6" height="7" fill="#d7e9fa"/>
<rect x="90" y="228" width="9" height="7" fill="#d7e9fa"/>
<rect x="99" y="228" width="3" height="7" fill="#d7e9fa"/>
<rect x="102" y="228" width="10" height="7" fill="#d7e9fa"/>
<rect x="112" y="228" width="5" height="7" fill="#d7e9fa"/>
<rect x="117" y="228" width="13" height="7" fill="#d7e9fa"/>
<rect x="24" y="235" width="8" height="15" fill="#d7e9fa"/>
<rect x="32" y="235" width="8" height="15" fill="#cbe2f8"/>
<rect x="40" y="235" width="6" height="15" fill="#d7e9fa"/>
<rect x="46" y="235" width="9" height="15" fill="#d7e9fa"/>
<rect x="55" y="235" width="5" height="15" fill="#d7e9fa"/>
<rect x="60" y="235" width="6" height="15" fill="#d7e9fa"/>
<rect x="66" y="235" width="4" height="15" fill="#d7e9fa"/>
<rect x="70" y="235" width="4" height="15" fill="#d7e9fa"/>
<rect x="74" y="235" width="10" height="15" fill="#d7e9fa"/>
<rect x="84" y="235" width="6" height="15" fill="#d7e9fa"/>
<rect x="90" y="235" width="9" height="15" fill="#d7e9fa"/>
<rect x="99" y="235" width="3" height="15" fill="#d7e9fa"/>
<rect x="102" y="235" width="10" height="15" fill="#d7e9fa"/>
<rect x="112" y="235" width="5" height="15" fill="#d7e9fa"/>
<rect x="117" y="235" width="13" height="15" fill="#d7e9fa"/>
<rect x="24" y="250" width="8" height="18" fill="#d7e9fa"/>
<rect x="32" y="250" width="8" height="18" fill="#cbe2f8"/>
<rect x="40" y="250" width="6" height="18" fill="#d7e9fa"/>
<rect x="46" y="250" width="9" height="18" fill="#d7e9fa"/>
<rect x="55" y="250" width="5" height="18" fill="#d7e9fa"/>
<rect x="60" y="250" width="6" height="18" fill="#d7e9fa"/>
<rect x="66" y="250" width="4" height="18" fill="#d7e9fa"/>
<rect x="70" y="250" width="4" height="18" fill="#d7e9fa"/>
<rect x="74" y="250" width="10" height="18" fill="#d7e9fa"/>
<rect x="84" y="250" width="6" height="18" fill="#d7e9fa"/>
<rect x="90" y="250" width="9" height="18" fill="#d7e9fa"/>
<rect x="99" y="250" width="3" height="18" fill="#d7e9fa"/>
<rect x="102" y="250" width="10" height="18" fill="#d7e9fa"/>
<rect x="112" y="250" width="5" height="18" fill="#d7e9fa"/>
<rect x="117" y="250" width="13" height="18" fill="#d7e9fa"/>
<rect x="24" y="268" width="8" height="38" fill="#d1e5f9"/>
<rect x="32" y="268" width="8" height="38" fill="#cbe2f8"/>
<rect x="40" y="268" width="6" height="38" fill="#d1e5f9"/>
<rect x="46" y="268" width="9" height="38" fill="#daeafa"/>
<rect x="55" y="268" width="5" height="38" fill="#daeafa"/>
<rect x="60" y="268" width="6" height="38" fill="#daeafa"/>
<rect x="66" y="268" width="4" height="38" fill="#daeafa"/>
<rect x="70" y="268" width="4" height="38" fill="#daeafa"/>
<rect x="74" y="268" width="10" height="38" fill="#daeafa"/>
<rect x="84" y="268" width="6" height="38" fill="#e1eefb"/>
<rect x="90" y="268" width="9" height="38" fill="#e1eefb"/>
<rect x="99" y="268" width="3" height="38" fill="#daeafa"/>
<rect x="102" y="268" width="10" height="38" fill="#e1eefb"/>
<rect x="112" y="268" width="5" height="38" fill="#daeafa"/>
<rect x="117" y="268" width="13" height="38" fill="#daeafa"/>
<rect x="24" y="306" width="8" height="21" fill="#c8e1f8"/>
<rect x="32" y="306" width="8" height="21" fill="#cbe2f8"/>
<rect x="40" y="306" width="6" height="21" fill="#c8e1f8"/>
<rect x="46" y="306" width="9" height="21" fill="#c8e1f8"/>
<rect x="55" y="306" width="5" height="21" fill="#c8e1f8"/>
<rect x="60" y="306" width="6" height="21" fill="#c8e1f8"/>
<rect x="66" y="306" width="4" height="21" fill="#c8e1f8"/>
<rect x="70" y="306" width="4" height="21" fill="#c8e1f8"/>
<rect x="74" y="306" width="10" height="21" fill="#c8e1f8"/>
<rect x="84" y="306" width="6" height="21" fill="#c8e1f8"/>
<rect x="90" y="306" width="9" height="21" fill="#c8e1f8"/>
<rect x="99" y="306" width="3" height="21" fill="#c8e1f8"/>
<rect x="102" y="306" width="10" height="21" fill="#c8e1f8"/>
<rect x="112" y="306" width="5" height="21" fill="#c8e1f8"/>
<rect x="117" y="306" width="13" height="21" fill="#c8e1f8"/>
<rect x="24" y="327" width="8" height="4" fill="#fbedee"/>
<rect x="32" y="327" width="8" height="4" fill="#fdfeff"/>
<rect x="40" y="327" width="6" height="4" fill="#fbedee"/>
<rect x="46" y="327" width="9" height="4" fill="#fbedee"/>
<rect x="55" y="327" width="5" height="4" fill="#fbedee"/>
<rect x="60" y="327" width="6" height="4" fill="#fbedee"/>
<rect x="66" y="327" width="4" height="4" fill="#fbedee"/>
<rect x="70" y="327" width="4" height="4" fill="#fbedee"/>
<rect x="74" y="327" width="10" height="4" fill="#fbedee"/>
<rect x="84" y="327" width="6" height="4" fill="#fbedee"/>
<rect x="90" y="327" width="9" height="4" fill="#fbedee"/>
<rect x="99" y="327" width="3" height="4" fill="#fbedee"/>
<rect x="102" y="327" width="10" height="4" fill="#fbedee"/>
<rect x="112" y="327" width="5" height="4" fill="#fbedee"/>
<rect x="117" y="327" width="13" height="4" fill="#fbedee"/>
<rect x="24" y="331" width="8" height="9" fill="#d7e9fa"/>
<rect x="32" y="331" width="8" height="9" fill="#cbe2f8"/>
<rect x="40" y="331" width="6" height="9" fill="#d7e9fa"/>
<rect x="46" y="331" width="9" height="9" fill="#d7e9fa"/>
<rect x="55" y="331" width="5" height="9" fill="#d7e9fa"/>
<rect x="60" y="331" width="6" height="9" fill="#d7e9fa"/>
<rect x="66" y="331" width="4" height="9" fill="#d7e9fa"/>
<rect x="70" y="331" width="4" height="9" fill="#d7e9fa"/>
<rect x="74" y="331" width="10" height="9" fill="#d7e9fa"/>
<rect x="84" y="331" width="6" height="9" fill="#d7e9fa"/>
<rect x="90" y="331" width="9" height="9" fill="#d7e9fa"/>
<rect x="99" y="331" width="3" height="9" fill="#d7e9fa"/>
<rect x="102" y="331" width="10" height="9" fill="#d7e9fa"/>
<rect x="112" y="331" width="5" height="9" fill="#d7e9fa"/>
<rect x="117" y="331" width="13" height="9" fill="#d7e9fa"/>
<rect x="24" y="340" width="8" height="12" fill="#d7e9fa"/>
<rect x="32" y="340" width="8" height="12" fill="#cbe2f8"/>
<rect x="40" y="340" width="6" height="12" fill="#d7e9fa"/>
<rect x="46" y="340" width="9" height="12" fill="#d7e9fa"/>
<rect x="55" y="340" width="5" height="12" fill="#d7e9fa"/>
<rect x="60" y="340" width="6" height="12" fill="#d7e9fa"/>
<rect x="66" y="340" width="4" height="12" fill="#d7e9fa"/>
<rect x="70" y="340" width="4" height="12" fill="#d7e9fa"/>
<rect x="74" y="340" width="10" height="12" fill="#d7e9fa"/>
<rect x="84" y="340" width="6" height="12" fill="#d7e9fa"/>
<rect x="90" y="340" width="9" height="12" fill="#d7e9fa"/>
<rect x="99" y="340" width="3" height="12" fill="#d7e9fa"/>
<rect x="102" y="340" width="10" height="12" fill="#d7e9fa"/>
<rect x="112" y="340" width="5" height="12" fill="#d7e9fa"/>
<rect x="117" y="340" width="13" height="12" fill="#d7e9fa"/>
<rect x="24" y="352" width="8" height="13" fill="#daeafa"/>
<rect x="32" y="352" width="8" height="13" fill="#cbe2f8"/>
<rect x="40" y="352" width="6" height="13" fill="#daeafa"/>
<rect x="46" y="352" width="9" height="13" fill="#daeafa"/>
<rect x="55" y="352" width="5" height="13" fill="#daeafa"/>
<rect x="60" y="352" width="6" height="13" fill="#daeafa"/>
<rect x="66" y="352" width="4" height="13" fill="#daeafa"/>
<rect x="70" y="352" width="4" height="13" fill="#daeafa"/>
<rect x="74" y="352" width="10" height="13" fill="#daeafa"/>
<rect x="84" y="352" width="6" height="13" fill="#c2def7"/>
<rect x="90" y="352" width="9" height="13" fill="#daeafa"/>
<rect x="99" y="352" width="3" height="13" fill="#daeafa"/>
<rect x="102" y="352" width="10" height="13" fill="#daeafa"/>
<rect x="112" y="352" width="5" height="13" fill="#daeafa"/>
<rect x="117" y="352" width="13" height="13" fill="#daeafa"/>
<rect x="24" y="365" width="8" height="33" fill="#e5a0a7"/>
<rect x="32" y="365" width="8" height="33" fill="#f1c3c7"/>
<rect x="40" y="365" width="6" height="33" fill="#fae5e7"/>
<rect x="46" y="365" width="9" height="33" fill="#f1c3c7"/>
<rect x="55" y="365" width="5" height="33" fill="#fcf2f3"/>
<rect x="60" y="365" width="6" height="33" fill="#f5d2d5"/>
<rect x="66" y="365" width="4" height="33" fill="#fcf2f3"/>
<rect x="70" y="365" width="4" height="33" fill="#f1c3c7"/>
<rect x="74" y="365" width="10" height="33" fill="#fbebec"/>
<rect x="84" y="365" width="6" height="33" fill="#bad9f6"/>
<rect x="90" y="365" width="9" height="33" fill="#f4f9fe"/>
<rect x="99" y="365" width="3" height="33" fill="#bfdcf7"/>
<rect x="102" y="365" width="10" height="33" fill="#f4f9fe"/>
<rect x="112" y="365" width="5" height="33" fill="#bfdcf7"/>
<rect x="117" y="365" width="13" height="33" fill="#e7f2fc"/>
<rect x="24" y="398" width="8" height="15" fill="#f4f9fe"/>
<rect x="32" y="398" width="8" height="15" fill="#f4f9fe"/>
<rect x="40" y="398" width="6" height="15" fill="#f4f9fe"/>
<rect x="46" y="398" width="9" height="15" fill="#e7f2fc"/>
<rect x="55" y="398" width="5" height="15" fill="#e7f2fc"/>
<rect x="60" y="398" width="6" height="15" fill="#e7f2fc"/>
<rect x="66" y="398" width="4" height="15" fill="#e7f2fc"/>
<rect x="70" y="398" width="4" height="15" fill="#e7f2fc"/>
<rect x="74" y="398" width="10" height="15" fill="#e7f2fc"/>
<rect x="84" y="398" width="6" height="15" fill="#bfdcf7"/>
<rect x="90" y="398" width="9" height="15" fill="#e7f2fc"/>
<rect x="99" y="398" width="3" height="15" fill="#e7f2fc"/>
<rect x="102" y="398" width="10" height="15" fill="#e7f2fc"/>
<rect x="112" y="398" width="5" height="15" fill="#e7f2fc"/>
<rect x="117" y="398" width="13" height="15" fill="#e7f2fc"/>
<rect x="24" y="413" width="8" height="42" fill="#f9e2e3"/>
<rect x="32" y="413" width="8" height="42" fill="#fcf0f0"/>
<rect x="40" y="413" width="6" height="42" fill="#fdfeff"/>
<rect x="46" y="413" width="9" height="42" fill="#fdfeff"/>
<rect x="55" y="413" width="5" height="42" fill="#fdfeff"/>
<rect x="60" y="413" width="6" height="42" fill="#fdfeff"/>
<rect x="66" y="413" width="4" height="42" fill="#fdfeff"/>
<rect x="70" y="413" width="4" height="42" fill="#fdfeff"/>
<rect x="74" y="413" width="10" height="42" fill="#fdfeff"/>
<rect x="84" y="413" width="6" height="42" fill="#c2def7"/>
<rect x="90" y="413" width="9" height="42" fill="#f4f9fe"/>
<rect x="99" y="413" width="3" height="42" fill="#cbe2f8"/>
<rect x="102" y="413" width="10" height="42" fill="#f4f9fe"/>
<rect x="112" y="413" width="5" height="42" fill="#cbe2f8"/>
<rect x="117" y="413" width="13" height="42" fill="#f4f9fe"/>
<rect x="24" y="455" width="8" height="22" fill="#e4f0fc"/>
<rect x="32" y="455" width="8" height="22" fill="#e4f0fc"/>
<rect x="40" y="455" width="6" height="22" fill="#e4f0fc"/>
<rect x="46" y="455" width="9" height="22" fill="#e4f0fc"/>
<rect x="55" y="455" width="5" height="22" fill="#e4f0fc"/>
<rect x="60" y="455" width="6" height="22" fill="#e4f0fc"/>
<rect x="66" y="455" width="4" height="22" fill="#e4f0fc"/>
<rect x="70" y="455" width="4" height="22" fill="#e4f0fc"/>
<rect x="74" y="455" width="10" height="22" fill="#e4f0fc"/>
<rect x="84" y="455" width="6" height="22" fill="#bfdcf7"/>
<rect x="90" y="455" width="9" height="22" fill="#e4f0fc"/>
<rect x="99" y="455" width="3" height="22" fill="#bfdcf7"/>
<rect x="102" y="455" width="10" height="22" fill="#e4f0fc"/>
<rect x="112" y="455" width="5" height="22" fill="#bfdcf7"/>
<rect x="117" y="455" width="13" height="22" fill="#e4f0fc"/>
<rect x="131" y="228" width="4" height="7" fill="#de8d96"/>
<rect x="135" y="228" width="7" height="7" fill="#edb6ba"/>
<rect x="142" y="228" width="9" height="7" fill="#edb6ba"/>
<rect x="151" y="228" width="19" height="7" fill="#fbebec"/>
<rect x="170" y="228" width="10" height="7" fill="#f3cccf"/>
<rect x="180" y="228" width="2" height="7" fill="#e7f2fc"/>
<rect x="182" y="228" width="5" height="7" fill="#e7f2fc"/>
<rect x="187" y="228" width="6" height="7" fill="#e7f2fc"/>
<rect x="193" y="228" width="6" height="7" fill="#f7dcde"/>
<rect x="199" y="228" width="17" height="7" fill="#d7e9fa"/>
<rect x="216" y="228" width="7" height="7" fill="#fdfeff"/>
<rect x="223" y="228" width="21" height="7" fill="#edb6ba"/>
<rect x="244" y="228" width="11" height="7" fill="#edb6ba"/>
<rect x="131" y="235" width="4" height="15" fill="#edb6ba"/>
<rect x="135" y="235" width="7" height="15" fill="#e5a0a7"/>
<rect x="142" y="235" width="9" height="15" fill="#e5a0a7"/>
<rect x="151" y="235" width="19" height="15" fill="#fbebec"/>
<rect x="170" y="235" width="10" height="15" fill="#f1c3c7"/>
<rect x="180" y="235" width="2" height="15" fill="#fcf0f0"/>
<rect x="182" y="235" width="5" height="15" fill="#deecfb"/>
<rect x="187" y="235" width="6" height="15" fill="#fcf2f3"/>
<rect x="193" y="235" width="6" height="15" fill="#f7dcde"/>
<rect x="199" y="235" width="17" height="15" fill="#d4e7fa"/>
<rect x="216" y="235" width="7" height="15" fill="#fdfeff"/>
<rect x="223" y="235" width="21" height="15" fill="#e5a0a7"/>
<rect x="244" y="235" width="11" height="15" fill="#e5a0a7"/>
<rect x="131" y="250" width="4" height="18" fill="#edb6ba"/>
<rect x="135" y="250" width="7" height="18" fill="#e5a0a7"/>
<rect x="142" y="250" width="9" height="18" fill="#de8d96"/>
<rect x="151" y="250" width="19" height="18" fill="#f1c3c7"/>
<rect x="170" y="250" width="10" height="18" fill="#e8a9ae"/>
<rect x="180" y="250" width="2" height="18" fill="#fcf0f0"/>
<rect x="182" y="250" width="5" height="18" fill="#fefcfc"/>
<rect x="187" y="250" width="6" height="18" fill="#fcf2f3"/>
<rect x="193" y="250" width="6" height="18" fill="#f7dcde"/>
<rect x="199" y="250" width="17" height="18" fill="#d4e7fa"/>
<rect x="216" y="250" width="7" height="18" fill="#fdfeff"/>
<rect x="223" y="250" width="21" height="18" fill="#e5a0a7"/>
<rect x="244" y="250" width="11" height="18" fill="#e5a0a7"/>
<rect x="131" y="268" width="4" height="38" fill="#fbebec"/>
<rect x="135" y="268" width="7" height="38" fill="#fbebec"/>
<rect x="142" y="268" width="9" height="38" fill="#f1c3c7"/>
<rect x="151" y="268" width="19" height="38" fill="#e399a0"/>
<rect x="170" y="268" width="10" height="38" fill="#eebabf"/>
<rect x="180" y="268" width="2" height="38" fill="#fcf0f0"/>
<rect x="182" y="268" width="5" height="38" fill="#fcf0f0"/>
<rect x="187" y="268" width="6" height="38" fill="#fcf0f0"/>
<rect x="193" y="268" width="6" height="38" fill="#f7dcde"/>
<rect x="199" y="268" width="17" height="38" fill="#d4e7fa"/>
<rect x="216" y="268" width="7" height="38" fill="#fdfeff"/>
<rect x="223" y="268" width="21" height="38" fill="#f7dcde"/>
<rect x="244" y="268" width="11" height="38" fill="#f7dcde"/>
<rect x="131" y="306" width="4" height="21" fill="#f3cccf"/>
<rect x="135" y="306" width="7" height="21" fill="#f1c3c7"/>
<rect x="142" y="306" width="9" height="21" fill="#e8a9ae"/>
<rect x="151" y="306" width="19" height="21" fill="#eebabf"/>
<rect x="170" y="306" width="10" height="21" fill="#e1959c"/>
<rect x="180" y="306" width="2" height="21" fill="#fcf0f0"/>
<rect x="182" y="306" width="5" height="21" fill="#fcf0f0"/>
<rect x="187" y="306" width="6" height="21" fill="#fcf0f0"/>
<rect x="193" y="306" width="6" height="21" fill="#f7dcde"/>
<rect x="199" y="306" width="17" height="21" fill="#d4e7fa"/>
<rect x="216" y="306" width="7" height="21" fill="#fdfeff"/>
<rect x="223" y="306" width="21" height="21" fill="#f5d2d5"/>
<rect x="244" y="306" width="11" height="21" fill="#f5d2d5"/>
<rect x="131" y="327" width="4" height="4" fill="#e7f2fc"/>
<rect x="135" y="327" width="7" height="4" fill="#fcf0f0"/>
<rect x="142" y="327" width="9" height="4" fill="#fcf0f0"/>
<rect x="151" y="327" width="19" height="4" fill="#fcf0f0"/>
<rect x="170" y="327" width="10" height="4" fill="#fcf0f0"/>
<rect x="180" y="327" width="2" height="4" fill="#de8d96"/>
<rect x="182" y="327" width="5" height="4" fill="#fae5e7"/>
<rect x="187" y="327" width="6" height="4" fill="#fae5e7"/>
<rect x="193" y="327" width="6" height="4" fill="#f7dcde"/>
<rect x="199" y="327" width="17" height="4" fill="#d4e7fa"/>
<rect x="216" y="327" width="7" height="4" fill="#fdfeff"/>
<rect x="223" y="327" width="21" height="4" fill="#f4f9fe"/>
<rect x="244" y="327" width="11" height="4" fill="#f4f9fe"/>
<rect x="131" y="331" width="4" height="9" fill="#e7f2fc"/>
<rect x="135" y="331" width="7" height="9" fill="#deecfb"/>
<rect x="142" y="331" width="9" height="9" fill="#fefcfc"/>
<rect x="151" y="331" width="19" height="9" fill="#fcf0f0"/>
<rect x="170" y="331" width="10" height="9" fill="#fcf0f0"/>
<rect x="180" y="331" width="2" height="9" fill="#fae5e7"/>
<rect x="182" y="331" width="5" height="9" fill="#e399a0"/>
<rect x="187" y="331" width="6" height="9" fill="#fae5e7"/>
<rect x="193" y="331" width="6" height="9" fill="#f7dcde"/>
<rect x="199" y="331" width="17" height="9" fill="#d4e7fa"/>
<rect x="216" y="331" width="7" height="9" fill="#fdfeff"/>
<rect x="223" y="331" width="21" height="9" fill="#f4f9fe"/>
<rect x="244" y="331" width="11" height="9" fill="#f4f9fe"/>
<rect x="131" y="340" width="4" height="12" fill="#e7f2fc"/>
<rect x="135" y="340" width="7" height="12" fill="#fcf2f3"/>
<rect x="142" y="340" width="9" height="12" fill="#fcf2f3"/>
<rect x="151" y="340" width="19" height="12" fill="#fcf0f0"/>
<rect x="170" y="340" width="10" height="12" fill="#fcf0f0"/>
<rect x="180" y="340" width="2" height="12" fill="#fae5e7"/>
<rect x="182" y="340" width="5" height="12" fill="#fae5e7"/>
<rect x="187" y="340" width="6" height="12" fill="#e5a0a7"/>
<rect x="193" y="340" width="6" height="12" fill="#f7dcde"/>
<rect x="199" y="340" width="17" height="12" fill="#d4e7fa"/>
<rect x="216" y="340" width="7" height="12" fill="#fdfeff"/>
<rect x="223" y="340" width="21" height="12" fill="#f4f9fe"/>
<rect x="244" y="340" width="11" height="12" fill="#f4f9fe"/>
<rect x="131" y="352" width="4" height="13" fill="#f7dcde"/>
<rect x="135" y="352" width="7" height="13" fill="#f7dcde"/>
<rect x="142" y="352" width="9" height="13" fill="#f7dcde"/>
<rect x="151" y="352" width="19" height="13" fill="#f7dcde"/>
<rect x="170" y="352" width="10" height="13" fill="#f7dcde"/>
<rect x="180" y="352" width="2" height="13" fill="#f7dcde"/>
<rect x="182" y="352" width="5" height="13" fill="#f7dcde"/>
<rect x="187" y="352" width="6" height="13" fill="#f7dcde"/>
<rect x="193" y="352" width="6" height="13" fill="#edb6ba"/>
<rect x="199" y="352" width="17" height="13" fill="#deecfb"/>
<rect x="216" y="352" width="7" height="13" fill="#fdfeff"/>
<rect x="223" y="352" width="21" height="13" fill="#f9e2e3"/>
<rect x="244" y="352" width="11" height="13" fill="#f9e2e3"/>
<rect x="131" y="365" width="4" height="33" fill="#d7e9fa"/>
<rect x="135" y="365" width="7" height="33" fill="#d4e7fa"/>
<rect x="142" y="365" width="9" height="33" fill="#d4e7fa"/>
<rect x="151" y="365" width="19" height="33" fill="#d4e7fa"/>
<rect x="170" y="365" width="10" height="33" fill="#d4e7fa"/>
<rect x="180" y="365" width="2" height="33" fill="#d4e7fa"/>
<rect x="182" y="365" width="5" height="33" fill="#d4e7fa"/>
<rect x="187" y="365" width="6" height="33" fill="#d4e7fa"/>
<rect x="193" y="365" width="6" height="33" fill="#deecfb"/>
<rect x="199" y="365" width="17" height="33" fill="#e09199"/>
<rect x="216" y="365" width="7" height="33" fill="#fbebec"/>
<rect x="223" y="365" width="21" height="33" fill="#f1c3c7"/>
<rect x="244" y="365" width="11" height="33" fill="#f1c3c7"/>
<rect x="131" y="398" width="4" height="15" fill="#fdfeff"/>
<rect x="135" y="398" width="7" height="15" fill="#fdfeff"/>
<rect x="142" y="398" width="9" height="15" fill="#fdfeff"/>
<rect x="151" y="398" width="19" height="15" fill="#fdfeff"/>
<rect x="170" y="398" width="10" height="15" fill="#fdfeff"/>
<rect x="180" y="398" width="2" height="15" fill="#fdfeff"/>
<rect x="182" y="398" width="5" height="15" fill="#fdfeff"/>
<rect x="187" y="398" width="6" height="15" fill="#fdfeff"/>
<rect x="193" y="398" width="6" height="15" fill="#fdfeff"/>
<rect x="199" y="398" width="17" height="15" fill="#fbebec"/>
<rect x="216" y="398" width="7" height="15" fill="#de8d96"/>
<rect x="223" y="398" width="21" height="15" fill="#fdfeff"/>
<rect x="244" y="398" width="11" height="15" fill="#fdfeff"/>
<rect x="131" y="413" width="4" height="42" fill="#edb6ba"/>
<rect x="135" y="413" width="7" height="42" fill="#e5a0a7"/>
<rect x="142" y="413" width="9" height="42" fill="#e5a0a7"/>
<rect x="151" y="413" width="19" height="42" fill="#f7dcde"/>
<rect x="170" y="413" width="10" height="42" fill="#f5d2d5"/>
<rect x="180" y="413" width="2" height="42" fill="#f4f9fe"/>
<rect x="182" y="413" width="5" height="42" fill="#f4f9fe"/>
<rect x="187" y="413" width="6" height="42" fill="#f4f9fe"/>
<rect x="193" y="413" width="6" height="42" fill="#f9e2e3"/>
<rect x="199" y="413" width="17" height="42" fill="#f1c3c7"/>
<rect x="216" y="413" width="7" height="42" fill="#fdfeff"/>
<rect x="223" y="413" width="21" height="42" fill="#e5a0a7"/>
<rect x="244" y="413" width="11" height="42" fill="#e8a9ae"/>
<rect x="131" y="455" width="4" height="22" fill="#edb6ba"/>
<rect x="135" y="455" width="7" height="22" fill="#e5a0a7"/>
<rect x="142" y="455" width="9" height="22" fill="#e5a0a7"/>
<rect x="151" y="455" width="19" height="22" fill="#f7dcde"/>
<rect x="170" y="455" width="10" height="22" fill="#f5d2d5"/>
<rect x="180" y="455" width="2" height="22" fill="#f4f9fe"/>
<rect x="182" y="455" width="5" height="22" fill="#f4f9fe"/>
<rect x="187" y="455" width="6" height="22" fill="#f4f9fe"/>
<rect x="193" y="455" width="6" height="22" fill="#f9e2e3"/>
<rect x="199" y="455" width="17" height="22" fill="#f1c3c7"/>
<rect x="216" y="455" width="7" height="22" fill="#fdfeff"/>
<rect x="223" y="455" width="21" height="22" fill="#e8a9ae"/>
<rect x="244" y="455" width="11" height="22" fill="#e5a0a7"/>
<rect x="256" y="228" width="10" height="7" fill="#d1e5f9"/>
<rect x="266" y="228" width="10" height="7" fill="#d1e5f9"/>
<rect x="276" y="228" width="5" height="7" fill="#d1e5f9"/>
<rect x="281" y="228" width="5" height="7" fill="#d1e5f9"/>
<rect x="286" y="228" width="11" height="7" fill="#d1e5f9"/>
<rect x="256" y="235" width="10" height="15" fill="#d1e5f9"/>
<rect x="266" y="235" width="10" height="15" fill="#d1e5f9"/>
<rect x="276" y="235" width="5" height="15" fill="#d1e5f9"/>
<rect x="281" y="235" width="5" height="15" fill="#d1e5f9"/>
<rect x="286" y="235" width="11" height="15" fill="#d1e5f9"/>
<rect x="256" y="250" width="10" height="18" fill="#d1e5f9"/>
<rect x="266" y="250" width="10" height="18" fill="#d1e5f9"/>
<rect x="276" y="250" width="5" height="18" fill="#d1e5f9"/>
<rect x="281" y="250" width="5" height="18" fill="#d1e5f9"/>
<rect x="286" y="250" width="11" height="18" fill="#d1e5f9"/>
<rect x="256" y="268" width="10" height="38" fill="#deecfb"/>
<rect x="266" y="268" width="10" height="38" fill="#deecfb"/>
<rect x="276" y="268" width="5" height="38" fill="#deecfb"/>
<rect x="281" y="268" width="5" height="38" fill="#deecfb"/>
<rect x="286" y="268" width="11" height="38" fill="#deecfb"/>
<rect x="256" y="306" width="10" height="21" fill="#d1e5f9"/>
<rect x="266" y="306" width="10" height="21" fill="#d1e5f9"/>
<rect x="276" y="306" width="5" height="21" fill="#d1e5f9"/>
<rect x="281" y="306" width="5" height="21" fill="#d1e5f9"/>
<rect x="286" y="306" width="11" height="21" fill="#d1e5f9"/>
<rect x="256" y="327" width="10" height="4" fill="#fbebec"/>
<rect x="266" y="327" width="10" height="4" fill="#fbebec"/>
<rect x="276" y="327" width="5" height="4" fill="#fbebec"/>
<rect x="281" y="327" width="5" height="4" fill="#fbebec"/>
<rect x="286" y="327" width="11" height="4" fill="#fbebec"/>
<rect x="256" y="331" width="10" height="9" fill="#e1eefb"/>
<rect x="266" y="331" width="10" height="9" fill="#e1eefb"/>
<rect x="276" y="331" width="5" height="9" fill="#ecf4fd"/>
<rect x="281" y="331" width="5" height="9" fill="#ecf4fd"/>
<rect x="286" y="331" width="11" height="9" fill="#ecf4fd"/>
<rect x="256" y="340" width="10" height="12" fill="#e1eefb"/>
<rect x="266" y="340" width="10" height="12" fill="#e1eefb"/>
<rect x="276" y="340" width="5" height="12" fill="#ecf4fd"/>
<rect x="281" y="340" width="5" height="12" fill="#ecf4fd"/>
<rect x="286" y="340" width="11" height="12" fill="#ecf4fd"/>
<rect x="256" y="352" width="10" height="13" fill="#e7f2fc"/>
<rect x="266" y="352" width="10" height="13" fill="#e7f2fc"/>
<rect x="276" y="352" width="5" height="13" fill="#e7f2fc"/>
<rect x="281" y="352" width="5" height="13" fill="#e7f2fc"/>
<rect x="286" y="352" width="11" height="13" fill="#e7f2fc"/>
<rect x="256" y="365" width="10" height="33" fill="#cee4f9"/>
<rect x="266" y="365" width="10" height="33" fill="#cee4f9"/>
<rect x="276" y="365" width="5" height="33" fill="#cee4f9"/>
<rect x="281" y="365" width="5" height="33" fill="#cee4f9"/>
<rect x="286" y="365" width="11" height="33" fill="#cee4f9"/>
<rect x="256" y="398" width="10" height="15" fill="#deecfb"/>
<rect x="266" y="398" width="10" height="15" fill="#deecfb"/>
<rect x="276" y="398" width="5" height="15" fill="#deecfb"/>
<rect x="281" y="398" width="5" height="15" fill="#deecfb"/>
<rect x="286" y="398" width="11" height="15" fill="#deecfb"/>
<rect x="256" y="413" width="10" height="42" fill="#d4e7fa"/>
<rect x="266" y="413" width="10" height="42" fill="#d4e7fa"/>
<rect x="276" y="413" width="5" height="42" fill="#d4e7fa"/>
<rect x="281" y="413" width="5" height="42" fill="#deecfb"/>
<rect x="286" y="413" width="11" height="42" fill="#d4e7fa"/>
<rect x="256" y="455" width="10" height="22" fill="#d4e7fa"/>
<rect x="266" y="455" width="10" height="22" fill="#d4e7fa"/>
<rect x="276" y="455" width="5" height="22" fill="#d4e7fa"/>
<rect x="281" y="455" width="5" height="22" fill="#deecfb"/>
<rect x="286" y="455" width="11" height="22" fill="#d4e7fa"/>
<rect x="298" y="228" width="3" height="7" fill="#c8e1f8"/>
<rect x="301" y="228" width="2" height="7" fill="#daeafa"/>
<rect x="303" y="228" width="3" height="7" fill="#daeafa"/>
<rect x="306" y="228" width="5" height="7" fill="#daeafa"/>
<rect x="311" y="228" width="5" height="7" fill="#daeafa"/>
<rect x="316" y="228" width="1" height="7" fill="#daeafa"/>
<rect x="317" y="228" width="3" height="7" fill="#daeafa"/>
<rect x="320" y="228" width="21" height="7" fill="#daeafa"/>
<rect x="341" y="228" width="4" height="7" fill="#c8e1f8"/>
<rect x="345" y="228" width="14" height="7" fill="#daeafa"/>
<rect x="298" y="235" width="3" height="15" fill="#c8e1f8"/>
<rect x="301" y="235" width="2" height="15" fill="#c8e1f8"/>
<rect x="303" y="235" width="3" height="15" fill="#c8e1f8"/>
<rect x="306" y="235" width="5" height="15" fill="#c8e1f8"/>
<rect x="311" y="235" width="5" height="15" fill="#c8e1f8"/>
<rect x="316" y="235" width="1" height="15" fill="#c8e1f8"/>
<rect x="317" y="235" width="3" height="15" fill="#c8e1f8"/>
<rect x="320" y="235" width="21" height="15" fill="#c8e1f8"/>
<rect x="341" y="235" width="4" height="15" fill="#c8e1f8"/>
<rect x="345" y="235" width="14" height="15" fill="#c8e1f8"/>
<rect x="298" y="250" width="3" height="18" fill="#d7e9fa"/>
<rect x="301" y="250" width="2" height="18" fill="#d7e9fa"/>
<rect x="303" y="250" width="3" height="18" fill="#d7e9fa"/>
<rect x="306" y="250" width="5" height="18" fill="#d7e9fa"/>
<rect x="311" y="250" width="5" height="18" fill="#d7e9fa"/>
<rect x="316" y="250" width="1" height="18" fill="#d7e9fa"/>
<rect x="317" y="250" width="3" height="18" fill="#d7e9fa"/>
<rect x="320" y="250" width="21" height="18" fill="#d7e9fa"/>
<rect x="341" y="250" width="4" height="18" fill="#d7e9fa"/>
<rect x="345" y="250" width="14" height="18" fill="#d7e9fa"/>
<rect x="298" y="268" width="3" height="38" fill="#c8e1f8"/>
<rect x="301" y="268" width="2" height="38" fill="#e7f2fc"/>
<rect x="303" y="268" width="3" height="38" fill="#e7f2fc"/>
<rect x="306" y="268" width="5" height="38" fill="#e7f2fc"/>
<rect x="311" y="268" width="5" height="38" fill="#e7f2fc"/>
<rect x="316" y="268" width="1" height="38" fill="#e7f2fc"/>
<rect x="317" y="268" width="3" height="38" fill="#e7f2fc"/>
<rect x="320" y="268" width="21" height="38" fill="#fcf2f3"/>
<rect x="341" y="268" width="4" height="38" fill="#fdfeff"/>
<rect x="345" y="268" width="14" height="38" fill="#fdfeff"/>
<rect x="298" y="306" width="3" height="21" fill="#c8e1f8"/>
<rect x="301" y="306" width="2" height="21" fill="#e7f2fc"/>
<rect x="303" y="306" width="3" height="21" fill="#e7f2fc"/>
<rect x="306" y="306" width="5" height="21" fill="#e7f2fc"/>
<rect x="311" y="306" width="5" height="21" fill="#e7f2fc"/>
<rect x="316" y="306" width="1" height="21" fill="#e7f2fc"/>
<rect x="317" y="306" width="3" height="21" fill="#e7f2fc"/>
<rect x="320" y="306" width="21" height="21" fill="#fdfeff"/>
<rect x="341" y="306" width="4" height="21" fill="#f4f9fe"/>
<rect x="345" y="306" width="14" height="21" fill="#f4f9fe"/>
<rect x="298" y="327" width="3" height="4" fill="#c8e1f8"/>
<rect x="301" y="327" width="2" height="4" fill="#fae5e7"/>
<rect x="303" y="327" width="3" height="4" fill="#fae5e7"/>
<rect x="306" y="327" width="5" height="4" fill="#fae5e7"/>
<rect x="311" y="327" width="5" height="4" fill="#fae5e7"/>
<rect x="316" y="327" width="1" height="4" fill="#fae5e7"/>
<rect x="317" y="327" width="3" height="4" fill="#fae5e7"/>
<rect x="320" y="327" width="21" height="4" fill="#d7e9fa"/>
<rect x="341" y="327" width="4" height="4" fill="#d7e9fa"/>
<rect x="345" y="327" width="14" height="4" fill="#d7e9fa"/>
<rect x="298" y="331" width="3" height="9" fill="#c8e1f8"/>
<rect x="301" y="331" width="2" height="9" fill="#f5d2d5"/>
<rect x="303" y="331" width="3" height="9" fill="#ecf4fd"/>
<rect x="306" y="331" width="5" height="9" fill="#ecf4fd"/>
<rect x="311" y="331" width="5" height="9" fill="#ecf4fd"/>
<rect x="316" y="331" width="1" height="9" fill="#ecf4fd"/>
<rect x="317" y="331" width="3" height="9" fill="#f9e2e3"/>
<rect x="320" y="331" width="21" height="9" fill="#ecf4fd"/>
<rect x="341" y="331" width="4" height="9" fill="#d7e9fa"/>
<rect x="345" y="331" width="14" height="9" fill="#ecf4fd"/>
<rect x="298" y="340" width="3" height="12" fill="#c8e1f8"/>
<rect x="301" y="340" width="2" height="12" fill="#f9e2e3"/>
<rect x="303" y="340" width="3" height="12" fill="#ecf4fd"/>
<rect x="306" y="340" width="5" height="12" fill="#ecf4fd"/>
<rect x="311" y="340" width="5" height="12" fill="#ecf4fd"/>
<rect x="316" y="340" width="1" height="12" fill="#ecf4fd"/>
<rect x="317" y="340" width="3" height="12" fill="#ecf4fd"/>
<rect x="320" y="340" width="21" height="12" fill="#ecf4fd"/>
<rect x="341" y="340" width="4" height="12" fill="#d7e9fa"/>
<rect x="345" y="340" width="14" height="12" fill="#ecf4fd"/>
<rect x="298" y="352" width="3" height="13" fill="#d7e9fa"/>
<rect x="301" y="352" width="2" height="13" fill="#f0f6fd"/>
<rect x="303" y="352" width="3" height="13" fill="#fae5e7"/>
<rect x="306" y="352" width="5" height="13" fill="#f0f6fd"/>
<rect x="311" y="352" width="5" height="13" fill="#f0f6fd"/>
<rect x="316" y="352" width="1" height="13" fill="#f0f6fd"/>
<rect x="317" y="352" width="3" height="13" fill="#f0f6fd"/>
<rect x="320" y="352" width="21" height="13" fill="#f0f6fd"/>
<rect x="341" y="352" width="4" height="13" fill="#f0f6fd"/>
<rect x="345" y="352" width="14" height="13" fill="#f0f6fd"/>
<rect x="298" y="365" width="3" height="33" fill="#c8e1f8"/>
<rect x="301" y="365" width="2" height="33" fill="#c5dff8"/>
<rect x="303" y="365" width="3" height="33" fill="#c5dff8"/>
<rect x="306" y="365" width="5" height="33" fill="#c5dff8"/>
<rect x="311" y="365" width="5" height="33" fill="#c5dff8"/>
<rect x="316" y="365" width="1" height="33" fill="#c5dff8"/>
<rect x="317" y="365" width="3" height="33" fill="#c5dff8"/>
<rect x="320" y="365" width="21" height="33" fill="#c5dff8"/>
<rect x="341" y="365" width="4" height="33" fill="#c5dff8"/>
<rect x="345" y="365" width="14" height="33" fill="#c5dff8"/>
<rect x="298" y="398" width="3" height="15" fill="#c8e1f8"/>
<rect x="301" y="398" width="2" height="15" fill="#e7f2fc"/>
<rect x="303" y="398" width="3" height="15" fill="#e7f2fc"/>
<rect x="306" y="398" width="5" height="15" fill="#e7f2fc"/>
<rect x="311" y="398" width="5" height="15" fill="#e7f2fc"/>
<rect x="316" y="398" width="1" height="15" fill="#e7f2fc"/>
<rect x="317" y="398" width="3" height="15" fill="#e7f2fc"/>
<rect x="320" y="398" width="21" height="15" fill="#f9fbfe"/>
<rect x="341" y="398" width="4" height="15" fill="#ecf4fd"/>
<rect x="345" y="398" width="14" height="15" fill="#ecf4fd"/>
<rect x="298" y="413" width="3" height="42" fill="#c8e1f8"/>
<rect x="301" y="413" width="2" height="42" fill="#d1e5f9"/>
<rect x="303" y="413" width="3" height="42" fill="#d1e5f9"/>
<rect x="306" y="413" width="5" height="42" fill="#d1e5f9"/>
<rect x="311" y="413" width="5" height="42" fill="#d1e5f9"/>
<rect x="316" y="413" width="1" height="42" fill="#d1e5f9"/>
<rect x="317" y="413" width="3" height="42" fill="#d1e5f9"/>
<rect x="320" y="413" width="21" height="42" fill="#daeafa"/>
<rect x="341" y="413" width="4" height="42" fill="#d1e5f9"/>
<rect x="345" y="413" width="14" height="42" fill="#daeafa"/>
<rect x="298" y="455" width="3" height="22" fill="#c8e1f8"/>
<rect x="301" y="455" width="2" height="22" fill="#d1e5f9"/>
<rect x="303" y="455" width="3" height="22" fill="#d1e5f9"/>
<rect x="306" y="455" width="5" height="22" fill="#d1e5f9"/>
<rect x="311" y="455" width="5" height="22" fill="#d1e5f9"/>
<rect x="316" y="455" width="1" height="22" fill="#d1e5f9"/>
<rect x="317" y="455" width="3" height="22" fill="#d1e5f9"/>
<rect x="320" y="455" width="21" height="22" fill="#daeafa"/>
<rect x="341" y="455" width="4" height="22" fill="#d1e5f9"/>
<rect x="345" y="455" width="14" height="22" fill="#daeafa"/>
<rect x="24" y="479" width="8" height="19" fill="#ecf4fd"/>
<rect x="32" y="479" width="8" height="19" fill="#ecf4fd"/>
<rect x="40" y="479" width="6" height="19" fill="#ecf4fd"/>
<rect x="46" y="479" width="9" height="19" fill="#ecf4fd"/>
<rect x="55" y="479" width="5" height="19" fill="#ecf4fd"/>
<rect x="60" y="479" width="6" height="19" fill="#ecf4fd"/>
<rect x="66" y="479" width="4" height="19" fill="#ecf4fd"/>
<rect x="70" y="479" width="4" height="19" fill="#ecf4fd"/>
<rect x="74" y="479" width="10" height="19" fill="#ecf4fd"/>
<rect x="84" y="479" width="6" height="19" fill="#cee4f9"/>
<rect x="90" y="479" width="9" height="19" fill="#d7e9fa"/>
<rect x="99" y="479" width="3" height="19" fill="#d7e9fa"/>
<rect x="102" y="479" width="10" height="19" fill="#d7e9fa"/>
<rect x="112" y="479" width="5" height="19" fill="#fdfeff"/>
<rect x="117" y="479" width="13" height="19" fill="#fdfeff"/>
<rect x="24" y="498" width="8" height="21" fill="#fefcfc"/>
<rect x="32" y="498" width="8" height="21" fill="#fefcfc"/>
<rect x="40" y="498" width="6" height="21" fill="#fefcfc"/>
<rect x="46" y="498" width="9" height="21" fill="#fefcfc"/>
<rect x="55" y="498" width="5" height="21" fill="#fefcfc"/>
<rect x="60" y="498" width="6" height="21" fill="#fcf2f3"/>
<rect x="66" y="498" width="4" height="21" fill="#fcf2f3"/>
<rect x="70" y="498" width="4" height="21" fill="#fcf2f3"/>
<rect x="74" y="498" width="10" height="21" fill="#fcf2f3"/>
<rect x="84" y="498" width="6" height="21" fill="#cee4f9"/>
<rect x="90" y="498" width="9" height="21" fill="#ecf4fd"/>
<rect x="99" y="498" width="3" height="21" fill="#ecf4fd"/>
<rect x="102" y="498" width="10" height="21" fill="#ecf4fd"/>
<rect x="112" y="498" width="5" height="21" fill="#f5d2d5"/>
<rect x="117" y="498" width="13" height="21" fill="#f5d2d5"/>
<rect x="24" y="519" width="8" height="10" fill="#cee4f9"/>
<rect x="32" y="519" width="8" height="10" fill="#cee4f9"/>
<rect x="40" y="519" width="6" height="10" fill="#cee4f9"/>
<rect x="46" y="519" width="9" height="10" fill="#cee4f9"/>
<rect x="55" y="519" width="5" height="10" fill="#cee4f9"/>
<rect x="60" y="519" width="6" height="10" fill="#cee4f9"/>
<rect x="66" y="519" width="4" height="10" fill="#cee4f9"/>
<rect x="70" y="519" width="4" height="10" fill="#cee4f9"/>
<rect x="74" y="519" width="10" height="10" fill="#cee4f9"/>
<rect x="84" y="519" width="6" height="10" fill="#cee4f9"/>
<rect x="90" y="519" width="9" height="10" fill="#cee4f9"/>
<rect x="99" y="519" width="3" height="10" fill="#cee4f9"/>
<rect x="102" y="519" width="10" height="10" fill="#cee4f9"/>
<rect x="112" y="519" width="5" height="10" fill="#cee4f9"/>
<rect x="117" y="519" width="13" height="10" fill="#cee4f9"/>
<rect x="24" y="529" width="8" height="9" fill="#ecf4fd"/>
<rect x="32" y="529" width="8" height="9" fill="#ecf4fd"/>
<rect x="40" y="529" width="6" height="9" fill="#ecf4fd"/>
<rect x="46" y="529" width="9" height="9" fill="#ecf4fd"/>
<rect x="55" y="529" width="5" height="9" fill="#ecf4fd"/>
<rect x="60" y="529" width="6" height="9" fill="#ecf4fd"/>
<rect x="66" y="529" width="4" height="9" fill="#ecf4fd"/>
<rect x="70" y="529" width="4" height="9" fill="#ecf4fd"/>
<rect x="74" y="529" width="10" height="9" fill="#ecf4fd"/>
<rect x="84" y="529" width="6" height="9" fill="#cee4f9"/>
<rect x="90" y="529" width="9" height="9" fill="#deecfb"/>
<rect x="99" y="529" width="3" height="9" fill="#deecfb"/>
<rect x="102" y="529" width="10" height="9" fill="#deecfb"/>
<rect x="112" y="529" width="5" height="9" fill="#fefcfc"/>
<rect x="117" y="529" width="13" height="9" fill="#fefcfc"/>
<rect x="24" y="538" width="8" height="23" fill="#ecf4fd"/>
<rect x="32" y="538" width="8" height="23" fill="#ecf4fd"/>
<rect x="40" y="538" width="6" height="23" fill="#ecf4fd"/>
<rect x="46" y="538" width="9" height="23" fill="#ecf4fd"/>
<rect x="55" y="538" width="5" height="23" fill="#ecf4fd"/>
<rect x="60" y="538" width="6" height="23" fill="#ecf4fd"/>
<rect x="66" y="538" width="4" height="23" fill="#ecf4fd"/>
<rect x="70" y="538" width="4" height="23" fill="#ecf4fd"/>
<rect x="74" y="538" width="10" height="23" fill="#ecf4fd"/>
<rect x="84" y="538" width="6" height="23" fill="#cee4f9"/>
<rect x="90" y="538" width="9" height="23" fill="#deecfb"/>
<rect x="99" y="538" width="3" height="23" fill="#deecfb"/>
<rect x="102" y="538" width="10" height="23" fill="#deecfb"/>
<rect x="112" y="538" width="5" height="23" fill="#fefcfc"/>
<rect x="117" y="538" width="13" height="23" fill="#fefcfc"/>
<rect x="131" y="479" width="4" height="19" fill="#d1e5f9"/>
<rect x="135" y="479" width="7" height="19" fill="#d1e5f9"/>
<rect x="142" y="479" width="9" height="19" fill="#d1e5f9"/>
<rect x="151" y="479" width="19" height="19" fill="#deecfb"/>
<rect x="170" y="479" width="10" height="19" fill="#d1e5f9"/>
<rect x="180" y="479" width="2" height="19" fill="#fbebec"/>
<rect x="182" y="479" width="5" height="19" fill="#e1eefb"/>
<rect x="187" y="479" width="6" height="19" fill="#e1eefb"/>
<rect x="193" y="479" width="6" height="19" fill="#e7f2fc"/>
<rect x="199" y="479" width="17" height="19" fill="#cee4f9"/>
<rect x="216" y="479" width="7" height="19" fill="#deecfb"/>
<rect x="223" y="479" width="21" height="19" fill="#d4e7fa"/>
<rect x="244" y="479" width="11" height="19" fill="#d4e7fa"/>
<rect x="131" y="498" width="4" height="21" fill="#d1e5f9"/>
<rect x="135" y="498" width="7" height="21" fill="#d1e5f9"/>
<rect x="142" y="498" width="9" height="21" fill="#d1e5f9"/>
<rect x="151" y="498" width="19" height="21" fill="#deecfb"/>
<rect x="170" y="498" width="10" height="21" fill="#d1e5f9"/>
<rect x="180" y="498" width="2" height="21" fill="#fbebec"/>
<rect x="182" y="498" width="5" height="21" fill="#e1eefb"/>
<rect x="187" y="498" width="6" height="21" fill="#e1eefb"/>
<rect x="193" y="498" width="6" height="21" fill="#e7f2fc"/>
<rect x="199" y="498" width="17" height="21" fill="#cee4f9"/>
<rect x="216" y="498" width="7" height="21" fill="#deecfb"/>
<rect x="223" y="498" width="21" height="21" fill="#d4e7fa"/>
<rect x="244" y="498" width="11" height="21" fill="#d4e7fa"/>
<rect x="131" y="519" width="4" height="10" fill="#d1e5f9"/>
<rect x="135" y="519" width="7" height="10" fill="#d1e5f9"/>
<rect x="142" y="519" width="9" height="10" fill="#d1e5f9"/>
<rect x="151" y="519" width="19" height="10" fill="#deecfb"/>
<rect x="170" y="519" width="10" height="10" fill="#d1e5f9"/>
<rect x="180" y="519" width="2" height="10" fill="#fbebec"/>
<rect x="182" y="519" width="5" height="10" fill="#ecf4fd"/>
<rect x="187" y="519" width="6" height="10" fill="#ecf4fd"/>
<rect x="193" y="519" width="6" height="10" fill="#e7f2fc"/>
<rect x="199" y="519" width="17" height="10" fill="#cee4f9"/>
<rect x="216" y="519" width="7" height="10" fill="#deecfb"/>
<rect x="223" y="519" width="21" height="10" fill="#d4e7fa"/>
<rect x="244" y="519" width="11" height="10" fill="#d4e7fa"/>
<rect x="131" y="529" width="4" height="9" fill="#d1e5f9"/>
<rect x="135" y="529" width="7" height="9" fill="#d1e5f9"/>
<rect x="142" y="529" width="9" height="9" fill="#d1e5f9"/>
<rect x="151" y="529" width="19" height="9" fill="#deecfb"/>
<rect x="170" y="529" width="10" height="9" fill="#d1e5f9"/>
<rect x="180" y="529" width="2" height="9" fill="#fbebec"/>
<rect x="182" y="529" width="5" height="9" fill="#ecf4fd"/>
<rect x="187" y="529" width="6" height="9" fill="#ecf4fd"/>
<rect x="193" y="529" width="6" height="9" fill="#e7f2fc"/>
<rect x="199" y="529" width="17" height="9" fill="#cee4f9"/>
<rect x="216" y="529" width="7" height="9" fill="#deecfb"/>
<rect x="223" y="529" width="21" height="9" fill="#deecfb"/>
<rect x="244" y="529" width="11" height="9" fill="#deecfb"/>
<rect x="131" y="538" width="4" height="23" fill="#d1e5f9"/>
<rect x="135" y="538" width="7" height="23" fill="#d1e5f9"/>
<rect x="142" y="538" width="9" height="23" fill="#d1e5f9"/>
<rect x="151" y="538" width="19" height="23" fill="#deecfb"/>
<rect x="170" y="538" width="10" height="23" fill="#d1e5f9"/>
<rect x="180" y="538" width="2" height="23" fill="#fbebec"/>
<rect x="182" y="538" width="5" height="23" fill="#ecf4fd"/>
<rect x="187" y="538" width="6" height="23" fill="#ecf4fd"/>
<rect x="193" y="538" width="6" height="23" fill="#e7f2fc"/>
<rect x="199" y="538" width="17" height="23" fill="#cee4f9"/>
<rect x="216" y="538" width="7" height="23" fill="#deecfb"/>
<rect x="223" y="538" width="21" height="23" fill="#d4e7fa"/>
<rect x="244" y="538" width="11" height="23" fill="#d4e7fa"/>
<rect x="256" y="479" width="10" height="19" fill="#e5a0a7"/>
<rect x="266" y="479" width="10" height="19" fill="#e8a9ae"/>
<rect x="276" y="479" width="5" height="19" fill="#e8a9ae"/>
<rect x="281" y="479" width="5" height="19" fill="#f7d9db"/>
<rect x="286" y="479" width="11" height="19" fill="#f7d9db"/>
<rect x="256" y="498" width="10" height="21" fill="#e8a9ae"/>
<rect x="266" y="498" width="10" height="21" fill="#e8a9ae"/>
<rect x="276" y="498" width="5" height="21" fill="#fcf2f3"/>
<rect x="281" y="498" width="5" height="21" fill="#fcf2f3"/>
<rect x="286" y="498" width="11" height="21" fill="#f5d2d5"/>
<rect x="256" y="519" width="10" height="10" fill="#e8a9ae"/>
<rect x="266" y="519" width="10" height="10" fill="#fcf2f3"/>
<rect x="276" y="519" width="5" height="10" fill="#e399a0"/>
<rect x="281" y="519" width="5" height="10" fill="#e8a9ae"/>
<rect x="286" y="519" width="11" height="10" fill="#e8a9ae"/>
<rect x="256" y="529" width="10" height="9" fill="#f7d9db"/>
<rect x="266" y="529" width="10" height="9" fill="#fcf2f3"/>
<rect x="276" y="529" width="5" height="9" fill="#e8a9ae"/>
<rect x="281" y="529" width="5" height="9" fill="#e399a0"/>
<rect x="286" y="529" width="11" height="9" fill="#e8a9ae"/>
<rect x="256" y="538" width="10" height="23" fill="#f7d9db"/>
<rect x="266" y="538" width="10" height="23" fill="#f5d2d5"/>
<rect x="276" y="538" width="5" height="23" fill="#e8a9ae"/>
<rect x="281" y="538" width="5" height="23" fill="#e8a9ae"/>
<rect x="286" y="538" width="11" height="23" fill="#e5a0a7"/>
<rect x="298" y="479" width="3" height="19" fill="#cbe2f8"/>
<rect x="301" y="479" width="2" height="19" fill="#deecfb"/>
<rect x="303" y="479" width="3" height="19" fill="#d1e5f9"/>
<rect x="306" y="479" width="5" height="19" fill="#d1e5f9"/>
<rect x="311" y="479" width="5" height="19" fill="#d1e5f9"/>
<rect x="316" y="479" width="1" height="19" fill="#d1e5f9"/>
<rect x="317" y="479" width="3" height="19" fill="#d1e5f9"/>
<rect x="320" y="479" width="21" height="19" fill="#d1e5f9"/>
<rect x="341" y="479" width="4" height="19" fill="#f4f9fe"/>
<rect x="345" y="479" width="14" height="19" fill="#deecfb"/>
<rect x="298" y="498" width="3" height="21" fill="#cbe2f8"/>
<rect x="301" y="498" width="2" height="21" fill="#deecfb"/>
<rect x="303" y="498" width="3" height="21" fill="#d1e5f9"/>
<rect x="306" y="498" width="5" height="21" fill="#d1e5f9"/>
<rect x="311" y="498" width="5" height="21" fill="#d1e5f9"/>
<rect x="316" y="498" width="1" height="21" fill="#d1e5f9"/>
<rect x="317" y="498" width="3" height="21" fill="#d1e5f9"/>
<rect x="320" y="498" width="21" height="21" fill="#d1e5f9"/>
<rect x="341" y="498" width="4" height="21" fill="#d1e5f9"/>
<rect x="345" y="498" width="14" height="21" fill="#deecfb"/>
<rect x="298" y="519" width="3" height="10" fill="#cbe2f8"/>
<rect x="301" y="519" width="2" height="10" fill="#deecfb"/>
<rect x="303" y="519" width="3" height="10" fill="#d1e5f9"/>
<rect x="306" y="519" width="5" height="10" fill="#d1e5f9"/>
<rect x="311" y="519" width="5" height="10" fill="#d1e5f9"/>
<rect x="316" y="519" width="1" height="10" fill="#d1e5f9"/>
<rect x="317" y="519" width="3" height="10" fill="#d1e5f9"/>
<rect x="320" y="519" width="21" height="10" fill="#d1e5f9"/>
<rect x="341" y="519" width="4" height="10" fill="#d1e5f9"/>
<rect x="345" y="519" width="14" height="10" fill="#deecfb"/>
<rect x="298" y="529" width="3" height="9" fill="#cbe2f8"/>
<rect x="301" y="529" width="2" height="9" fill="#deecfb"/>
<rect x="303" y="529" width="3" height="9" fill="#d1e5f9"/>
<rect x="306" y="529" width="5" height="9" fill="#d1e5f9"/>
<rect x="311" y="529" width="5" height="9" fill="#d1e5f9"/>
<rect x="316" y="529" width="1" height="9" fill="#d1e5f9"/>
<rect x="317" y="529" width="3" height="9" fill="#d1e5f9"/>
<rect x="320" y="529" width="21" height="9" fill="#d1e5f9"/>
<rect x="341" y="529" width="4" height="9" fill="#d1e5f9"/>
<rect x="345" y="529" width="14" height="9" fill="#deecfb"/>
<rect x="298" y="538" width="3" height="23" fill="#cbe2f8"/>
<rect x="301" y="538" width="2" height="23" fill="#deecfb"/>
<rect x="303" y="538" width="3" height="23" fill="#d1e5f9"/>
<rect x="306" y="538" width="5" height="23" fill="#d1e5f9"/>
<rect x="311" y="538" width="5" height="23" fill="#d1e5f9"/>
<rect x="316" y="538" width="1" height="23" fill="#d1e5f9"/>
<rect x="317" y="538" width="3" height="23" fill="#d1e5f9"/>
<rect x="320" y="538" width="21" height="23" fill="#d1e5f9"/>
<rect x="341" y="538" width="4" height="23" fill="#d1e5f9"/>
<rect x="345" y="538" width="14" height="23" fill="#deecfb"/>
<rect x="24" y="562" width="8" height="6" fill="#c2def7"/>
<rect x="32" y="562" width="8" height="6" fill="#c2def7"/>
<rect x="40" y="562" width="6" height="6" fill="#c2def7"/>
<rect x="46" y="562" width="9" height="6" fill="#c2def7"/>
<rect x="55" y="562" width="5" height="6" fill="#c2def7"/>
<rect x="60" y="562" width="6" height="6" fill="#c2def7"/>
<rect x="66" y="562" width="4" height="6" fill="#c2def7"/>
<rect x="70" y="562" width="4" height="6" fill="#c2def7"/>
<rect x="74" y="562" width="10" height="6" fill="#c2def7"/>
<rect x="84" y="562" width="6" height="6" fill="#cbe2f8"/>
<rect x="90" y="562" width="9" height="6" fill="#c2def7"/>
<rect x="99" y="562" width="3" height="6" fill="#c2def7"/>
<rect x="102" y="562" width="10" height="6" fill="#c2def7"/>
<rect x="112" y="562" width="5" height="6" fill="#cbe2f8"/>
<rect x="117" y="562" width="13" height="6" fill="#c2def7"/>
<rect x="24" y="568" width="8" height="5" fill="#cbe2f8"/>
<rect x="32" y="568" width="8" height="5" fill="#cbe2f8"/>
<rect x="40" y="568" width="6" height="5" fill="#e7f2fc"/>
<rect x="46" y="568" width="9" height="5" fill="#cbe2f8"/>
<rect x="55" y="568" width="5" height="5" fill="#cbe2f8"/>
<rect x="60" y="568" width="6" height="5" fill="#cbe2f8"/>
<rect x="66" y="568" width="4" height="5" fill="#cbe2f8"/>
<rect x="70" y="568" width="4" height="5" fill="#cbe2f8"/>
<rect x="74" y="568" width="10" height="5" fill="#cbe2f8"/>
<rect x="84" y="568" width="6" height="5" fill="#d1e5f9"/>
<rect x="90" y="568" width="9" height="5" fill="#d1e5f9"/>
<rect x="99" y="568" width="3" height="5" fill="#cbe2f8"/>
<rect x="102" y="568" width="10" height="5" fill="#d1e5f9"/>
<rect x="112" y="568" width="5" height="5" fill="#cbe2f8"/>
<rect x="117" y="568" width="13" height="5" fill="#cbe2f8"/>
<rect x="24" y="573" width="8" height="5" fill="#cbe2f8"/>
<rect x="32" y="573" width="8" height="5" fill="#cbe2f8"/>
<rect x="40" y="573" width="6" height="5" fill="#e7f2fc"/>
<rect x="46" y="573" width="9" height="5" fill="#cbe2f8"/>
<rect x="55" y="573" width="5" height="5" fill="#cbe2f8"/>
<rect x="60" y="573" width="6" height="5" fill="#cbe2f8"/>
<rect x="66" y="573" width="4" height="5" fill="#cbe2f8"/>
<rect x="70" y="573" width="4" height="5" fill="#cbe2f8"/>
<rect x="74" y="573" width="10" height="5" fill="#cbe2f8"/>
<rect x="84" y="573" width="6" height="5" fill="#e7f2fc"/>
<rect x="90" y="573" width="9" height="5" fill="#e7f2fc"/>
<rect x="99" y="573" width="3" height="5" fill="#cbe2f8"/>
<rect x="102" y="573" width="10" height="5" fill="#d1e5f9"/>
<rect x="112" y="573" width="5" height="5" fill="#cbe2f8"/>
<rect x="117" y="573" width="13" height="5" fill="#cbe2f8"/>
<rect x="24" y="578" width="8" height="10" fill="#cbe2f8"/>
<rect x="32" y="578" width="8" height="10" fill="#cbe2f8"/>
<rect x="40" y="578" width="6" height="10" fill="#e7f2fc"/>
<rect x="46" y="578" width="9" height="10" fill="#cbe2f8"/>
<rect x="55" y="578" width="5" height="10" fill="#cbe2f8"/>
<rect x="60" y="578" width="6" height="10" fill="#cbe2f8"/>
<rect x="66" y="578" width="4" height="10" fill="#cbe2f8"/>
<rect x="70" y="578" width="4" height="10" fill="#cbe2f8"/>
<rect x="74" y="578" width="10" height="10" fill="#cbe2f8"/>
<rect x="84" y="578" width="6" height="10" fill="#e7f2fc"/>
<rect x="90" y="578" width="9" height="10" fill="#e7f2fc"/>
<rect x="99" y="578" width="3" height="10" fill="#cbe2f8"/>
<rect x="102" y="578" width="10" height="10" fill="#d1e5f9"/>
<rect x="112" y="578" width="5" height="10" fill="#cbe2f8"/>
<rect x="117" y="578" width="13" height="10" fill="#cbe2f8"/>
<rect x="24" y="588" width="8" height="10" fill="#cbe2f8"/>
<rect x="32" y="588" width="8" height="10" fill="#cbe2f8"/>
<rect x="40" y="588" width="6" height="10" fill="#cbe2f8"/>
<rect x="46" y="588" width="9" height="10" fill="#cbe2f8"/>
<rect x="55" y="588" width="5" height="10" fill="#cbe2f8"/>
<rect x="60" y="588" width="6" height="10" fill="#cbe2f8"/>
<rect x="66" y="588" width="4" height="10" fill="#cbe2f8"/>
<rect x="70" y="588" width="4" height="10" fill="#cbe2f8"/>
<rect x="74" y="588" width="10" height="10" fill="#cbe2f8"/>
<rect x="84" y="588" width="6" height="10" fill="#d1e5f9"/>
<rect x="90" y="588" width="9" height="10" fill="#d1e5f9"/>
<rect x="99" y="588" width="3" height="10" fill="#cbe2f8"/>
<rect x="102" y="588" width="10" height="10" fill="#d1e5f9"/>
<rect x="112" y="588" width="5" height="10" fill="#cbe2f8"/>
<rect x="117" y="588" width="13" height="10" fill="#cbe2f8"/>
<rect x="24" y="598" width="8" height="2" fill="#cbe2f8"/>
<rect x="32" y="598" width="8" height="2" fill="#cbe2f8"/>
<rect x="40" y="598" width="6" height="2" fill="#cbe2f8"/>
<rect x="46" y="598" width="9" height="2" fill="#cbe2f8"/>
<rect x="55" y="598" width="5" height="2" fill="#cbe2f8"/>
<rect x="60" y="598" width="6" height="2" fill="#cbe2f8"/>
<rect x="66" y="598" width="4" height="2" fill="#cbe2f8"/>
<rect x="70" y="598" width="4" height="2" fill="#cbe2f8"/>
<rect x="74" y="598" width="10" height="2" fill="#cbe2f8"/>
<rect x="84" y="598" width="6" height="2" fill="#d1e5f9"/>
<rect x="90" y="598" width="9" height="2" fill="#d1e5f9"/>
<rect x="99" y="598" width="3" height="2" fill="#cbe2f8"/>
<rect x="102" y="598" width="10" height="2" fill="#d1e5f9"/>
<rect x="112" y="598" width="5" height="2" fill="#cbe2f8"/>
<rect x="117" y="598" width="13" height="2" fill="#cbe2f8"/>
<rect x="24" y="600" width="8" height="6" fill="#cbe2f8"/>
<rect x="32" y="600" width="8" height="6" fill="#cbe2f8"/>
<rect x="40" y="600" width="6" height="6" fill="#cbe2f8"/>
<rect x="46" y="600" width="9" height="6" fill="#cbe2f8"/>
<rect x="55" y="600" width="5" height="6" fill="#cbe2f8"/>
<rect x="60" y="600" width="6" height="6" fill="#cbe2f8"/>
<rect x="66" y="600" width="4" height="6" fill="#cbe2f8"/>
<rect x="70" y="600" width="4" height="6" fill="#cbe2f8"/>
<rect x="74" y="600" width="10" height="6" fill="#cbe2f8"/>
<rect x="84" y="600" width="6" height="6" fill="#d1e5f9"/>
<rect x="90" y="600" width="9" height="6" fill="#d1e5f9"/>
<rect x="99" y="600" width="3" height="6" fill="#cbe2f8"/>
<rect x="102" y="600" width="10" height="6" fill="#d1e5f9"/>
<rect x="112" y="600" width="5" height="6" fill="#cbe2f8"/>
<rect x="117" y="600" width="13" height="6" fill="#cbe2f8"/>
<rect x="24" y="606" width="8" height="41" fill="#c8e1f8"/>
<rect x="32" y="606" width="8" height="41" fill="#c8e1f8"/>
<rect x="40" y="606" width="6" height="41" fill="#c8e1f8"/>
<rect x="46" y="606" width="9" height="41" fill="#c8e1f8"/>
<rect x="55" y="606" width="5" height="41" fill="#c8e1f8"/>
<rect x="60" y="606" width="6" height="41" fill="#c8e1f8"/>
<rect x="66" y="606" width="4" height="41" fill="#c8e1f8"/>
<rect x="70" y="606" width="4" height="41" fill="#c8e1f8"/>
<rect x="74" y="606" width="10" height="41" fill="#c8e1f8"/>
<rect x="84" y="606" width="6" height="41" fill="#deecfb"/>
<rect x="90" y="606" width="9" height="41" fill="#deecfb"/>
<rect x="99" y="606" width="3" height="41" fill="#cbe2f8"/>
<rect x="102" y="606" width="10" height="41" fill="#deecfb"/>
<rect x="112" y="606" width="5" height="41" fill="#bfdcf7"/>
<rect x="117" y="606" width="13" height="41" fill="#c8e1f8"/>
<rect x="24" y="647" width="8" height="10" fill="#d1e5f9"/>
<rect x="32" y="647" width="8" height="10" fill="#d1e5f9"/>
<rect x="40" y="647" width="6" height="10" fill="#d1e5f9"/>
<rect x="46" y="647" width="9" height="10" fill="#d1e5f9"/>
<rect x="55" y="647" width="5" height="10" fill="#d1e5f9"/>
<rect x="60" y="647" width="6" height="10" fill="#d1e5f9"/>
<rect x="66" y="647" width="4" height="10" fill="#d1e5f9"/>
<rect x="70" y="647" width="4" height="10" fill="#d1e5f9"/>
<rect x="74" y="647" width="10" height="10" fill="#d1e5f9"/>
<rect x="84" y="647" width="6" height="10" fill="#d1e5f9"/>
<rect x="90" y="647" width="9" height="10" fill="#d1e5f9"/>
<rect x="99" y="647" width="3" height="10" fill="#d1e5f9"/>
<rect x="102" y="647" width="10" height="10" fill="#d1e5f9"/>
<rect x="112" y="647" width="5" height="10" fill="#c2def7"/>
<rect x="117" y="647" width="13" height="10" fill="#d1e5f9"/>
<rect x="24" y="657" width="8" height="27" fill="#d1e5f9"/>
<rect x="32" y="657" width="8" height="27" fill="#d1e5f9"/>
<rect x="40" y="657" width="6" height="27" fill="#d1e5f9"/>
<rect x="46" y="657" width="9" height="27" fill="#d1e5f9"/>
<rect x="55" y="657" width="5" height="27" fill="#d1e5f9"/>
<rect x="60" y="657" width="6" height="27" fill="#d1e5f9"/>
<rect x="66" y="657" width="4" height="27" fill="#d1e5f9"/>
<rect x="70" y="657" width="4" height="27" fill="#d1e5f9"/>
<rect x="74" y="657" width="10" height="27" fill="#d1e5f9"/>
<rect x="84" y="657" width="6" height="27" fill="#d1e5f9"/>
<rect x="90" y="657" width="9" height="27" fill="#e7f2fc"/>
<rect x="99" y="657" width="3" height="27" fill="#d1e5f9"/>
<rect x="102" y="657" width="10" height="27" fill="#e7f2fc"/>
<rect x="112" y="657" width="5" height="27" fill="#c2def7"/>
<rect x="117" y="657" width="13" height="27" fill="#d1e5f9"/>
<rect x="131" y="562" width="4" height="6" fill="#c8e1f8"/>
<rect x="135" y="562" width="7" height="6" fill="#c8e1f8"/>
<rect x="142" y="562" width="9" height="6" fill="#d7e9fa"/>
<rect x="151" y="562" width="19" height="6" fill="#c8e1f8"/>
<rect x="170" y="562" width="10" height="6" fill="#c8e1f8"/>
<rect x="180" y="562" width="2" height="6" fill="#c8e1f8"/>
<rect x="182" y="562" width="5" height="6" fill="#c8e1f8"/>
<rect x="187" y="562" width="6" height="6" fill="#c8e1f8"/>
<rect x="193" y="562" width="6" height="6" fill="#d7e9fa"/>
<rect x="199" y="562" width="17" height="6" fill="#c8e1f8"/>
<rect x="216" y="562" width="7" height="6" fill="#c8e1f8"/>
<rect x="223" y="562" width="21" height="6" fill="#c8e1f8"/>
<rect x="244" y="562" width="11" height="6" fill="#c8e1f8"/>
<rect x="131" y="568" width="4" height="5" fill="#daeafa"/>
<rect x="135" y="568" width="7" height="5" fill="#c8e1f8"/>
<rect x="142" y="568" width="9" height="5" fill="#d7e9fa"/>
<rect x="151" y="568" width="19" height="5" fill="#e7f2fc"/>
<rect x="170" y="568" width="10" height="5" fill="#e7f2fc"/>
<rect x="180" y="568" width="2" height="5" fill="#fae5e7"/>
<rect x="182" y="568" width="5" height="5" fill="#f5d2d5"/>
<rect x="187" y="568" width="6" height="5" fill="#f9e2e3"/>
<rect x="193" y="568" width="6" height="5" fill="#f0f6fd"/>
<rect x="199" y="568" width="17" height="5" fill="#c5dff8"/>
<rect x="216" y="568" width="7" height="5" fill="#e7f2fc"/>
<rect x="223" y="568" width="21" height="5" fill="#d1e5f9"/>
<rect x="244" y="568" width="11" height="5" fill="#d1e5f9"/>
<rect x="131" y="573" width="4" height="5" fill="#daeafa"/>
<rect x="135" y="573" width="7" height="5" fill="#c8e1f8"/>
<rect x="142" y="573" width="9" height="5" fill="#d7e9fa"/>
<rect x="151" y="573" width="19" height="5" fill="#e7f2fc"/>
<rect x="170" y="573" width="10" height="5" fill="#e7f2fc"/>
<rect x="180" y="573" width="2" height="5" fill="#fae5e7"/>
<rect x="182" y="573" width="5" height="5" fill="#ecf4fd"/>
<rect x="187" y="573" width="6" height="5" fill="#ecf4fd"/>
<rect x="193" y="573" width="6" height="5" fill="#fae5e7"/>
<rect x="199" y="573" width="17" height="5" fill="#c5dff8"/>
<rect x="216" y="573" width="7" height="5" fill="#e7f2fc"/>
<rect x="223" y="573" width="21" height="5" fill="#d1e5f9"/>
<rect x="244" y="573" width="11" height="5" fill="#d1e5f9"/>
<rect x="131" y="578" width="4" height="10" fill="#daeafa"/>
<rect x="135" y="578" width="7" height="10" fill="#c8e1f8"/>
<rect x="142" y="578" width="9" height="10" fill="#d7e9fa"/>
<rect x="151" y="578" width="19" height="10" fill="#e7f2fc"/>
<rect x="170" y="578" width="10" height="10" fill="#e7f2fc"/>
<rect x="180" y="578" width="2" height="10" fill="#fae5e7"/>
<rect x="182" y="578" width="5" height="10" fill="#ecf4fd"/>
<rect x="187" y="578" width="6" height="10" fill="#ecf4fd"/>
<rect x="193" y="578" width="6" height="10" fill="#f0f6fd"/>
<rect x="199" y="578" width="17" height="10" fill="#c5dff8"/>
<rect x="216" y="578" width="7" height="10" fill="#e7f2fc"/>
<rect x="223" y="578" width="21" height="10" fill="#d1e5f9"/>
<rect x="244" y="578" width="11" height="10" fill="#d1e5f9"/>
<rect x="131" y="588" width="4" height="10" fill="#daeafa"/>
<rect x="135" y="588" width="7" height="10" fill="#c8e1f8"/>
<rect x="142" y="588" width="9" height="10" fill="#d7e9fa"/>
<rect x="151" y="588" width="19" height="10" fill="#e7f2fc"/>
<rect x="170" y="588" width="10" height="10" fill="#e7f2fc"/>
<rect x="180" y="588" width="2" height="10" fill="#fae5e7"/>
<rect x="182" y="588" width="5" height="10" fill="#ecf4fd"/>
<rect x="187" y="588" width="6" height="10" fill="#ecf4fd"/>
<rect x="193" y="588" width="6" height="10" fill="#f0f6fd"/>
<rect x="199" y="588" width="17" height="10" fill="#c5dff8"/>
<rect x="216" y="588" width="7" height="10" fill="#e7f2fc"/>
<rect x="223" y="588" width="21" height="10" fill="#d1e5f9"/>
<rect x="244" y="588" width="11" height="10" fill="#d1e5f9"/>
<rect x="131" y="598" width="4" height="2" fill="#daeafa"/>
<rect x="135" y="598" width="7" height="2" fill="#c8e1f8"/>
<rect x="142" y="598" width="9" height="2" fill="#d7e9fa"/>
<rect x="151" y="598" width="19" height="2" fill="#e7f2fc"/>
<rect x="170" y="598" width="10" height="2" fill="#e7f2fc"/>
<rect x="180" y="598" width="2" height="2" fill="#fae5e7"/>
<rect x="182" y="598" width="5" height="2" fill="#ecf4fd"/>
<rect x="187" y="598" width="6" height="2" fill="#ecf4fd"/>
<rect x="193" y="598" width="6" height="2" fill="#f0f6fd"/>
<rect x="199" y="598" width="17" height="2" fill="#c5dff8"/>
<rect x="216" y="598" width="7" height="2" fill="#e7f2fc"/>
<rect x="223" y="598" width="21" height="2" fill="#d1e5f9"/>
<rect x="244" y="598" width="11" height="2" fill="#d1e5f9"/>
<rect x="131" y="600" width="4" height="6" fill="#daeafa"/>
<rect x="135" y="600" width="7" height="6" fill="#c8e1f8"/>
<rect x="142" y="600" width="9" height="6" fill="#d7e9fa"/>
<rect x="151" y="600" width="19" height="6" fill="#e7f2fc"/>
<rect x="170" y="600" width="10" height="6" fill="#e7f2fc"/>
<rect x="180" y="600" width="2" height="6" fill="#fae5e7"/>
<rect x="182" y="600" width="5" height="6" fill="#f9e2e3"/>
<rect x="187" y="600" width="6" height="6" fill="#ecf4fd"/>
<rect x="193" y="600" width="6" height="6" fill="#f0f6fd"/>
<rect x="199" y="600" width="17" height="6" fill="#c5dff8"/>
<rect x="216" y="600" width="7" height="6" fill="#e7f2fc"/>
<rect x="223" y="600" width="21" height="6" fill="#d1e5f9"/>
<rect x="244" y="600" width="11" height="6" fill="#d1e5f9"/>
<rect x="131" y="606" width="4" height="41" fill="#daeafa"/>
<rect x="135" y="606" width="7" height="41" fill="#c8e1f8"/>
<rect x="142" y="606" width="9" height="41" fill="#d7e9fa"/>
<rect x="151" y="606" width="19" height="41" fill="#fcf2f3"/>
<rect x="170" y="606" width="10" height="41" fill="#fdfeff"/>
<rect x="180" y="606" width="2" height="41" fill="#d7e9fa"/>
<rect x="182" y="606" width="5" height="41" fill="#ecf4fd"/>
<rect x="187" y="606" width="6" height="41" fill="#ecf4fd"/>
<rect x="193" y="606" width="6" height="41" fill="#f0f6fd"/>
<rect x="199" y="606" width="17" height="41" fill="#c5dff8"/>
<rect x="216" y="606" width="7" height="41" fill="#f9fbfe"/>
<rect x="223" y="606" width="21" height="41" fill="#daeafa"/>
<rect x="244" y="606" width="11" height="41" fill="#daeafa"/>
<rect x="131" y="647" width="4" height="10" fill="#c8e1f8"/>
<rect x="135" y="647" width="7" height="10" fill="#c8e1f8"/>
<rect x="142" y="647" width="9" height="10" fill="#d7e9fa"/>
<rect x="151" y="647" width="19" height="10" fill="#fdfeff"/>
<rect x="170" y="647" width="10" height="10" fill="#f4f9fe"/>
<rect x="180" y="647" width="2" height="10" fill="#d7e9fa"/>
<rect x="182" y="647" width="5" height="10" fill="#d7e9fa"/>
<rect x="187" y="647" width="6" height="10" fill="#d7e9fa"/>
<rect x="193" y="647" width="6" height="10" fill="#f0f6fd"/>
<rect x="199" y="647" width="17" height="10" fill="#c5dff8"/>
<rect x="216" y="647" width="7" height="10" fill="#ecf4fd"/>
<rect x="223" y="647" width="21" height="10" fill="#d1e5f9"/>
<rect x="244" y="647" width="11" height="10" fill="#d1e5f9"/>
<rect x="131" y="657" width="4" height="27" fill="#daeafa"/>
<rect x="135" y="657" width="7" height="27" fill="#c8e1f8"/>
<rect x="142" y="657" width="9" height="27" fill="#d7e9fa"/>
<rect x="151" y="657" width="19" height="27" fill="#fdfeff"/>
<rect x="170" y="657" width="10" height="27" fill="#f4f9fe"/>
<rect x="180" y="657" width="2" height="27" fill="#d7e9fa"/>
<rect x="182" y="657" width="5" height="27" fill="#ecf4fd"/>
<rect x="187" y="657" width="6" height="27" fill="#ecf4fd"/>
<rect x="193" y="657" width="6" height="27" fill="#f0f6fd"/>
<rect x="199" y="657" width="17" height="27" fill="#c5dff8"/>
<rect x="216" y="657" width="7" height="27" fill="#ecf4fd"/>
<rect x="223" y="657" width="21" height="27" fill="#daeafa"/>
<rect x="244" y="657" width="11" height="27" fill="#daeafa"/>
<rect x="256" y="562" width="10" height="6" fill="#cbe2f8"/>
<rect x="266" y="562" width="10" height="6" fill="#cbe2f8"/>
<rect x="276" y="562" width="5" height="6" fill="#cbe2f8"/>
<rect x="281" y="562" width="5" height="6" fill="#cbe2f8"/>
<rect x="286" y="562" width="11" height="6" fill="#cbe2f8"/>
<rect x="256" y="568" width="10" height="5" fill="#deecfb"/>
<rect x="266" y="568" width="10" height="5" fill="#deecfb"/>
<rect x="276" y="568" width="5" height="5" fill="#deecfb"/>
<rect x="281" y="568" width="5" height="5" fill="#deecfb"/>
<rect x="286" y="568" width="11" height="5" fill="#deecfb"/>
<rect x="256" y="573" width="10" height="5" fill="#d1e5f9"/>
<rect x="266" y="573" width="10" height="5" fill="#d1e5f9"/>
<rect x="276" y="573" width="5" height="5" fill="#d1e5f9"/>
<rect x="281" y="573" width="5" height="5" fill="#d1e5f9"/>
<rect x="286" y="573" width="11" height="5" fill="#d1e5f9"/>
<rect x="256" y="578" width="10" height="10" fill="#d1e5f9"/>
<rect x="266" y="578" width="10" height="10" fill="#d1e5f9"/>
<rect x="276" y="578" width="5" height="10" fill="#d1e5f9"/>
<rect x="281" y="578" width="5" height="10" fill="#d1e5f9"/>
<rect x="286" y="578" width="11" height="10" fill="#d1e5f9"/>
<rect x="256" y="588" width="10" height="10" fill="#d1e5f9"/>
<rect x="266" y="588" width="10" height="10" fill="#d1e5f9"/>
<rect x="276" y="588" width="5" height="10" fill="#d1e5f9"/>
<rect x="281" y="588" width="5" height="10" fill="#d1e5f9"/>
<rect x="286" y="588" width="11" height="10" fill="#d1e5f9"/>
<rect x="256" y="598" width="10" height="2" fill="#d1e5f9"/>
<rect x="266" y="598" width="10" height="2" fill="#d1e5f9"/>
<rect x="276" y="598" width="5" height="2" fill="#d1e5f9"/>
<rect x="281" y="598" width="5" height="2" fill="#d1e5f9"/>
<rect x="286" y="598" width="11" height="2" fill="#d1e5f9"/>
<rect x="256" y="600" width="10" height="6" fill="#d1e5f9"/>
<rect x="266" y="600" width="10" height="6" fill="#d1e5f9"/>
<rect x="276" y="600" width="5" height="6" fill="#d1e5f9"/>
<rect x="281" y="600" width="5" height="6" fill="#d1e5f9"/>
<rect x="286" y="600" width="11" height="6" fill="#d1e5f9"/>
<rect x="256" y="606" width="10" height="41" fill="#d1e5f9"/>
<rect x="266" y="606" width="10" height="41" fill="#d1e5f9"/>
<rect x="276" y="606" width="5" height="41" fill="#d1e5f9"/>
<rect x="281" y="606" width="5" height="41" fill="#d1e5f9"/>
<rect x="286" y="606" width="11" height="41" fill="#d1e5f9"/>
<rect x="256" y="647" width="10" height="10" fill="#f4f9fe"/>
<rect x="266" y="647" width="10" height="10" fill="#d1e5f9"/>
<rect x="276" y="647" width="5" height="10" fill="#d1e5f9"/>
<rect x="281" y="647" width="5" height="10" fill="#d1e5f9"/>
<rect x="286" y="647" width="11" height="10" fill="#d1e5f9"/>
<rect x="256" y="657" width="10" height="27" fill="#deecfb"/>
<rect x="266" y="657" width="10" height="27" fill="#deecfb"/>
<rect x="276" y="657" width="5" height="27" fill="#deecfb"/>
<rect x="281" y="657" width="5" height="27" fill="#deecfb"/>
<rect x="286" y="657" width="11" height="27" fill="#deecfb"/>
<rect x="298" y="562" width="3" height="6" fill="#d77a85"/>
<rect x="301" y="562" width="2" height="6" fill="#cbe2f8"/>
<rect x="303" y="562" width="3" height="6" fill="#cbe2f8"/>
<rect x="306" y="562" width="5" height="6" fill="#cbe2f8"/>
<rect x="311" y="562" width="5" height="6" fill="#cbe2f8"/>
<rect x="316" y="562" width="1" height="6" fill="#cbe2f8"/>
<rect x="317" y="562" width="3" height="6" fill="#cbe2f8"/>
<rect x="320" y="562" width="21" height="6" fill="#cbe2f8"/>
<rect x="341" y="562" width="4" height="6" fill="#cbe2f8"/>
<rect x="345" y="562" width="14" height="6" fill="#cbe2f8"/>
<rect x="298" y="568" width="3" height="5" fill="#cbe2f8"/>
<rect x="301" y="568" width="2" height="5" fill="#de8d96"/>
<rect x="303" y="568" width="3" height="5" fill="#fae5e7"/>
<rect x="306" y="568" width="5" height="5" fill="#fcf2f3"/>
<rect x="311" y="568" width="5" height="5" fill="#fae5e7"/>
<rect x="316" y="568" width="1" height="5" fill="#f3cccf"/>
<rect x="317" y="568" width="3" height="5" fill="#fae5e7"/>
<rect x="320" y="568" width="21" height="5" fill="#deecfb"/>
<rect x="341" y="568" width="4" height="5" fill="#deecfb"/>
<rect x="345" y="568" width="14" height="5" fill="#e4f0fc"/>
<rect x="298" y="573" width="3" height="5" fill="#cbe2f8"/>
<rect x="301" y="573" width="2" height="5" fill="#fae5e7"/>
<rect x="303" y="573" width="3" height="5" fill="#e5a0a7"/>
<rect x="306" y="573" width="5" height="5" fill="#fbebec"/>
<rect x="311" y="573" width="5" height="5" fill="#fbebec"/>
<rect x="316" y="573" width="1" height="5" fill="#fcf2f3"/>
<rect x="317" y="573" width="3" height="5" fill="#edb6ba"/>
<rect x="320" y="573" width="21" height="5" fill="#ecf4fd"/>
<rect x="341" y="573" width="4" height="5" fill="#deecfb"/>
<rect x="345" y="573" width="14" height="5" fill="#e4f0fc"/>
<rect x="298" y="578" width="3" height="10" fill="#cbe2f8"/>
<rect x="301" y="578" width="2" height="10" fill="#fcf2f3"/>
<rect x="303" y="578" width="3" height="10" fill="#fbebec"/>
<rect x="306" y="578" width="5" height="10" fill="#de8d96"/>
<rect x="311" y="578" width="5" height="10" fill="#f7d9db"/>
<rect x="316" y="578" width="1" height="10" fill="#fcf2f3"/>
<rect x="317" y="578" width="3" height="10" fill="#fcf2f3"/>
<rect x="320" y="578" width="21" height="10" fill="#ecf4fd"/>
<rect x="341" y="578" width="4" height="10" fill="#deecfb"/>
<rect x="345" y="578" width="14" height="10" fill="#fbebec"/>
<rect x="298" y="588" width="3" height="10" fill="#cbe2f8"/>
<rect x="301" y="588" width="2" height="10" fill="#fae5e7"/>
<rect x="303" y="588" width="3" height="10" fill="#fbebec"/>
<rect x="306" y="588" width="5" height="10" fill="#f7d9db"/>
<rect x="311" y="588" width="5" height="10" fill="#e399a0"/>
<rect x="316" y="588" width="1" height="10" fill="#fcf2f3"/>
<rect x="317" y="588" width="3" height="10" fill="#fae5e7"/>
<rect x="320" y="588" width="21" height="10" fill="#deecfb"/>
<rect x="341" y="588" width="4" height="10" fill="#deecfb"/>
<rect x="345" y="588" width="14" height="10" fill="#e4f0fc"/>
<rect x="298" y="598" width="3" height="2" fill="#cbe2f8"/>
<rect x="301" y="598" width="2" height="2" fill="#f3cccf"/>
<rect x="303" y="598" width="3" height="2" fill="#fcf2f3"/>
<rect x="306" y="598" width="5" height="2" fill="#fcf2f3"/>
<rect x="311" y="598" width="5" height="2" fill="#fcf2f3"/>
<rect x="316" y="598" width="1" height="2" fill="#de8d96"/>
<rect x="317" y="598" width="3" height="2" fill="#fcf2f3"/>
<rect x="320" y="598" width="21" height="2" fill="#deecfb"/>
<rect x="341" y="598" width="4" height="2" fill="#deecfb"/>
<rect x="345" y="598" width="14" height="2" fill="#e4f0fc"/>
<rect x="298" y="600" width="3" height="6" fill="#cbe2f8"/>
<rect x="301" y="600" width="2" height="6" fill="#fae5e7"/>
<rect x="303" y="600" width="3" height="6" fill="#edb6ba"/>
<rect x="306" y="600" width="5" height="6" fill="#fcf2f3"/>
<rect x="311" y="600" width="5" height="6" fill="#fae5e7"/>
<rect x="316" y="600" width="1" height="6" fill="#fcf2f3"/>
<rect x="317" y="600" width="3" height="6" fill="#e5a0a7"/>
<rect x="320" y="600" width="21" height="6" fill="#deecfb"/>
<rect x="341" y="600" width="4" height="6" fill="#deecfb"/>
<rect x="345" y="600" width="14" height="6" fill="#e4f0fc"/>
<rect x="298" y="606" width="3" height="41" fill="#cbe2f8"/>
<rect x="301" y="606" width="2" height="41" fill="#deecfb"/>
<rect x="303" y="606" width="3" height="41" fill="#ecf4fd"/>
<rect x="306" y="606" width="5" height="41" fill="#ecf4fd"/>
<rect x="311" y="606" width="5" height="41" fill="#deecfb"/>
<rect x="316" y="606" width="1" height="41" fill="#deecfb"/>
<rect x="317" y="606" width="3" height="41" fill="#deecfb"/>
<rect x="320" y="606" width="21" height="41" fill="#dd8992"/>
<rect x="341" y="606" width="4" height="41" fill="#fdfeff"/>
<rect x="345" y="606" width="14" height="41" fill="#f7d9db"/>
<rect x="298" y="647" width="3" height="10" fill="#cbe2f8"/>
<rect x="301" y="647" width="2" height="10" fill="#deecfb"/>
<rect x="303" y="647" width="3" height="10" fill="#deecfb"/>
<rect x="306" y="647" width="5" height="10" fill="#deecfb"/>
<rect x="311" y="647" width="5" height="10" fill="#deecfb"/>
<rect x="316" y="647" width="1" height="10" fill="#deecfb"/>
<rect x="317" y="647" width="3" height="10" fill="#deecfb"/>
<rect x="320" y="647" width="21" height="10" fill="#fdfeff"/>
<rect x="341" y="647" width="4" height="10" fill="#de8d96"/>
<rect x="345" y="647" width="14" height="10" fill="#f7dcde"/>
<rect x="298" y="657" width="3" height="27" fill="#cbe2f8"/>
<rect x="301" y="657" width="2" height="27" fill="#e4f0fc"/>
<rect x="303" y="657" width="3" height="27" fill="#e4f0fc"/>
<rect x="306" y="657" width="5" height="27" fill="#fbebec"/>
<rect x="311" y="657" width="5" height="27" fill="#e4f0fc"/>
<rect x="316" y="657" width="1" height="27" fill="#e4f0fc"/>
<rect x="317" y="657" width="3" height="27" fill="#e4f0fc"/>
<rect x="320" y="657" width="21" height="27" fill="#f7d9db"/>
<rect x="341" y="657" width="4" height="27" fill="#f7dcde"/>
<rect x="345" y="657" width="14" height="27" fill="#e8a9ae"/>
<rect x="24.50" y="14.50" width="1.54" height="3.10" fill="#cc6070" opacity="0.5" shape-rendering="auto"/>
<rect x="26.04" y="17.60" width="1.54" height="3.10" fill="#cc6070" opacity="0.5" shape-rendering="auto"/>
<rect x="27.59" y="20.71" width="1.54" height="3.10" fill="#cc6070" opacity="0.5" shape-rendering="auto"/>
<rect x="29.13" y="23.81" width="1.54" height="3.10" fill="#cc6070" opacity="0.5" shape-rendering="auto"/>
<rect x="30.68" y="26.91" width="1.54" height="3.10" fill="#cc6070" opacity="0.5" shape-rendering="auto"/>
<rect x="32.22" y="30.01" width="1.54" height="3.10" fill="#cc6070" opacity="0.5" shape-rendering="auto"/>
<rect x="33.76" y="33.12" width="1.54" height="3.10" fill="#cc6070" opacity="0.5" shape-rendering="auto"/>
<rect x="35.31" y="36.22" width="1.54" height="3.10" fill="#cc6070" opacity="0.5" shape-rendering="auto"/>
<rect x="36.85" y="39.32" width="1.54" height="3.10" fill="#cc6070" opacity="0.5" shape-rendering="auto"/>
<rect x="38.40" y="42.43" width="1.54" height="3.10" fill="#cc6070" opacity="0.5" shape-rendering="auto"/>
<rect x="39.94" y="45.53" width="1.54" height="3.10" fill="#cc6070" opacity="0.5" shape-rendering="auto"/>
<rect x="41.49" y="48.63" width="1.54" height="3.10" fill="#cc6070" opacity="0.5" shape-rendering="auto"/>
<rect x="43.03" y="51.74" width="1.54" height="3.10" fill="#cc6070" opacity="0.5" shape-rendering="auto"/>
<rect x="44.57" y="54.84" width="1.54" height="3.10" fill="#cc6070" opacity="0.5" shape-rendering="auto"/>
<rect x="46.12" y="57.94" width="1.54" height="3.10" fill="#cc6070" opacity="0.5" shape-rendering="auto"/>
<rect x="47.66" y="61.04" width="1.54" height="3.10" fill="#cc6070" opacity="0.5" shape-rendering="auto"/>
<rect x="49.21" y="64.15" width="1.54" height="3.10" fill="#cc6070" opacity="0.5" shape-rendering="auto"/>
<rect x="50.75" y="67.25" width="1.54" height="3.10" fill="#cc6070" opacity="0.5" shape-rendering="auto"/>
<rect x="52.29" y="70.35" width="1.54" height="3.10" fill="#cc6070" opacity="0.5" shape-rendering="auto"/>
<rect x="53.84" y="73.46" width="1.54" height="3.10" fill="#cc6070" opacity="0.5" shape-rendering="auto"/>
<rect x="55.38" y="76.56" width="1.54" height="3.10" fill="#cc6070" opacity="0.5" shape-rendering="auto"/>
<rect x="56.93" y="79.66" width="1.54" height="3.10" fill="#cc6070" opacity="0.5" shape-rendering="auto"/>
<rect x="58.47" y="82.76" width="1.54" height="3.10" fill="#cc6070" opacity="0.5" shape-rendering="auto"/>
<rect x="60.01" y="85.87" width="1.54" height="3.10" fill="#cc6070" opacity="0.5" shape-rendering="auto"/>
<rect x="61.56" y="88.97" width="1.54" height="3.10" fill="#cc6070" opacity="0.5" shape-rendering="auto"/>
<rect x="63.10" y="92.07" width="1.54" height="3.10" fill="#cc6070" opacity="0.5" shape-rendering="auto"/>
<rect x="64.65" y="95.18" width="1.54" height="3.10" fill="#cc6070" opacity="0.5" shape-rendering="auto"/>
<rect x="66.19" y="98.28" width="1.54" height="3.10" fill="#cc6070" opacity="0.5" shape-rendering="auto"/>
<rect x="67.74" y="101.38" width="1.54" height="3.10" fill="#cc6070" opacity="0.5" shape-rendering="auto"/>
<rect x="69.28" y="104.49" width="1.54" height="3.10" fill="#cc6070" opacity="0.5" shape-rendering="auto"/>
<rect x="70.82" y="107.59" width="1.54" height="3.10" fill="#cc6070" opacity="0.5" shape-rendering="auto"/>
<rect x="72.37" y="110.69" width="1.54" height="3.10" fill="#cc6070" opacity="0.5" shape-rendering="auto"/>
<rect x="73.91" y="113.79" width="1.54" height="3.10" fill="#cc6070" opacity="0.5" shape-rendering="auto"/>
<rect x="75.46" y="116.90" width="1.54" height="3.10" fill="#cc6070" opacity="0.5" shape-rendering="auto"/>
<rect x="77.00" y="120.00" width="1.54" height="3.10" fill="#cc6070" opacity="0.5" shape-rendering="auto"/>
<rect x="78.54" y="123.10" width="1.54" height="3.10" fill="#cc6070" opacity="0.5" shape-rendering="auto"/>
<rect x="80.09" y="126.21" width="1.54" height="3.10" fill="#cc6070" opacity="0.5" shape-rendering="auto"/>
<rect x="81.63" y="129.31" width="1.54" height="3.10" fill="#cc6070" opacity="0.5" shape-rendering="auto"/>
<rect x="83.18" y="132.41" width="1.54" height="3.10" fill="#cc6070" opacity="0.5" shape-rendering="auto"/>
<rect x="84.72" y="135.51" width="1.54" height="3.10" fill="#cc6070" opacity="0.5" shape-rendering="auto"/>
<rect x="86.26" y="138.62" width="1.54" height="3.10" fill="#cc6070" opacity="0.5" shape-rendering="auto"/>
<rect x="87.81" y="141.72" width="1.54" height="3.10" fill="#cc6070" opacity="0.5" shape-rendering="auto"/>
<rect x="89.35" y="144.82" width="1.54" height="3.10" fill="#cc6070" opacity="0.5" shape-rendering="auto"/>
<rect x="90.90" y="147.93" width="1.54" height="3.10" fill="#cc6070" opacity="0.5" shape-rendering="auto"/>
<rect x="92.44" y="151.03" width="1.54" height="3.10" fill="#cc6070" opacity="0.5" shape-rendering="auto"/>
<rect x="93.99" y="154.13" width="1.54" height="3.10" fill="#cc6070" opacity="0.5" shape-rendering="auto"/>
<rect x="95.53" y="157.24" width="1.54" height="3.10" fill="#cc6070" opacity="0.5" shape-rendering="auto"/>
<rect x="97.07" y="160.34" width="1.54" height="3.10" fill="#cc6070" opacity="0.5" shape-rendering="auto"/>
<rect x="98.62" y="163.44" width="1.54" height="3.10" fill="#cc6070" opacity="0.5" shape-rendering="auto"/>
<rect x="100.16" y="166.54" width="1.54" height="3.10" fill="#cc6070" opacity="0.5" shape-rendering="auto"/>
<rect x="101.71" y="169.65" width="1.54" height="3.10" fill="#cc6070" opacity="0.5" shape-rendering="auto"/>
<rect x="103.25" y="172.75" width="1.54" height="3.10" fill="#cc6070" opacity="0.5" shape-rendering="auto"/>
<rect x="104.79" y="175.85" width="1.54" height="3.10" fill="#cc6070" opacity="0.5" shape-rendering="auto"/>
<rect x="106.34" y="178.96" width="1.54" height="3.10" fill="#cc6070" opacity="0.5" shape-rendering="auto"/>
<rect x="107.88" y="182.06" width="1.54" height="3.10" fill="#cc6070" opacity="0.5" shape-rendering="auto"/>
<rect x="109.43" y="185.16" width="1.54" height="3.10" fill="#cc6070" opacity="0.5" shape-rendering="auto"/>
<rect x="110.97" y="188.26" width="1.54" height="3.10" fill="#cc6070" opacity="0.5" shape-rendering="auto"/>
<rect x="112.51" y="191.37" width="1.54" height="3.10" fill="#cc6070" opacity="0.5" shape-rendering="auto"/>
<rect x="114.06" y="194.47" width="1.54" height="3.10" fill="#cc6070" opacity="0.5" shape-rendering="auto"/>
<rect x="115.60" y="197.57" width="1.54" height="3.10" fill="#cc6070" opacity="0.5" shape-rendering="auto"/>
<rect x="117.15" y="200.68" width="1.54" height="3.10" fill="#cc6070" opacity="0.5" shape-rendering="auto"/>
<rect x="118.69" y="203.78" width="1.54" height="3.10" fill="#cc6070" opacity="0.5" shape-rendering="auto"/>
<rect x="120.24" y="206.88" width="1.54" height="3.10" fill="#cc6070" opacity="0.5" shape-rendering="auto"/>
<rect x="121.78" y="209.99" width="1.54" height="3.10" fill="#cc6070" opacity="0.5" shape-rendering="auto"/>
<rect x="123.32" y="213.09" width="1.54" height="3.10" fill="#cc6070" opacity="0.5" shape-rendering="auto"/>
<rect x="124.87" y="216.19" width="1.54" height="3.10" fill="#cc6070" opacity="0.5" shape-rendering="auto"/>
<rect x="126.41" y="219.29" width="1.54" height="3.10" fill="#cc6070" opacity="0.5" shape-rendering="auto"/>
<rect x="127.96" y="222.40" width="1.54" height="3.10" fill="#cc6070" opacity="0.5" shape-rendering="auto"/>
<rect x="131.50" y="228.50" width="1.54" height="3.10" fill="#cc6070" opacity="0.5" shape-rendering="auto"/>
<rect x="133.04" y="231.60" width="1.54" height="3.10" fill="#cc6070" opacity="0.5" shape-rendering="auto"/>
<rect x="134.57" y="234.70" width="1.54" height="3.10" fill="#cc6070" opacity="0.5" shape-rendering="auto"/>
<rect x="136.11" y="237.80" width="1.54" height="3.10" fill="#cc6070" opacity="0.5" shape-rendering="auto"/>
<rect x="137.65" y="240.90" width="1.54" height="3.10" fill="#cc6070" opacity="0.5" shape-rendering="auto"/>
<rect x="139.19" y="244.00" width="1.54" height="3.10" fill="#cc6070" opacity="0.5" shape-rendering="auto"/>
<rect x="140.72" y="247.10" width="1.54" height="3.10" fill="#cc6070" opacity="0.5" shape-rendering="auto"/>
<rect x="142.26" y="250.20" width="1.54" height="3.10" fill="#cc6070" opacity="0.5" shape-rendering="auto"/>
<rect x="143.80" y="253.30" width="1.54" height="3.10" fill="#cc6070" opacity="0.5" shape-rendering="auto"/>
<rect x="145.34" y="256.40" width="1.54" height="3.10" fill="#cc6070" opacity="0.5" shape-rendering="auto"/>
<rect x="146.88" y="259.50" width="1.54" height="3.10" fill="#cc6070" opacity="0.5" shape-rendering="auto"/>
<rect x="148.41" y="262.60" width="1.54" height="3.10" fill="#cc6070" opacity="0.5" shape-rendering="auto"/>
<rect x="149.95" y="265.70" width="1.54" height="3.10" fill="#cc6070" opacity="0.5" shape-rendering="auto"/>
<rect x="151.49" y="268.80" width="1.54" height="3.10" fill="#cc6070" opacity="0.5" shape-rendering="auto"/>
<rect x="153.03" y="271.90" width="1.54" height="3.10" fill="#cc6070" opacity="0.5" shape-rendering="auto"/>
<rect x="154.56" y="275.00" width="1.54" height="3.10" fill="#cc6070" opacity="0.5" shape-rendering="auto"/>
<rect x="156.10" y="278.10" width="1.54" height="3.10" fill="#cc6070" opacity="0.5" shape-rendering="auto"/>
<rect x="157.64" y="281.20" width="1.54" height="3.10" fill="#cc6070" opacity="0.5" shape-rendering="auto"/>
<rect x="159.18" y="284.30" width="1.54" height="3.10" fill="#cc6070" opacity="0.5" shape-rendering="auto"/>
<rect x="160.71" y="287.40" width="1.54" height="3.10" fill="#cc6070" opacity="0.5" shape-rendering="auto"/>
<rect x="162.25" y="290.50" width="1.54" height="3.10" fill="#cc6070" opacity="0.5" shape-rendering="auto"/>
<rect x="163.79" y="293.60" width="1.54" height="3.10" fill="#cc6070" opacity="0.5" shape-rendering="auto"/>
<rect x="165.32" y="296.70" width="1.54" height="3.10" fill="#cc6070" opacity="0.5" shape-rendering="auto"/>
<rect x="166.86" y="299.80" width="1.54" height="3.10" fill="#cc6070" opacity="0.5" shape-rendering="auto"/>
<rect x="168.40" y="302.90" width="1.54" height="3.10" fill="#cc6070" opacity="0.5" shape-rendering="auto"/>
<rect x="169.94" y="306.00" width="1.54" height="3.10" fill="#cc6070" opacity="0.5" shape-rendering="auto"/>
<rect x="171.47" y="309.10" width="1.54" height="3.10" fill="#cc6070" opacity="0.5" shape-rendering="auto"/>
<rect x="173.01" y="312.20" width="1.54" height="3.10" fill="#cc6070" opacity="0.5" shape-rendering="auto"/>
<rect x="174.55" y="315.30" width="1.54" height="3.10" fill="#cc6070" opacity="0.5" shape-rendering="auto"/>
<rect x="176.09" y="318.40" width="1.54" height="3.10" fill="#cc6070" opacity="0.5" shape-rendering="auto"/>
<rect x="177.62" y="321.50" width="1.54" height="3.10" fill="#cc6070" opacity="0.5" shape-rendering="auto"/>
<rect x="179.16" y="324.60" width="1.54" height="3.10" fill="#cc6070" opacity="0.5" shape-rendering="auto"/>
<rect x="180.70" y="327.70" width="1.54" height="3.10" fill="#cc6070" opacity="0.5" shape-rendering="auto"/>
<rect x="182.24" y="330.80" width="1.54" height="3.10" fill="#cc6070" opacity="0.5" shape-rendering="auto"/>
<rect x="183.78" y="333.90" width="1.54" height="3.10" fill="#cc6070" opacity="0.5" shape-rendering="auto"/>
<rect x="185.31" y="337.00" width="1.54" height="3.10" fill="#cc6070" opacity="0.5" shape-rendering="auto"/>
<rect x="186.85" y="340.10" width="1.54" height="3.10" fill="#cc6070" opacity="0.5" shape-rendering="auto"/>
<rect x="188.39" y="343.20" width="1.54" height="3.10" fill="#cc6070" opacity="0.5" shape-rendering="auto"/>
<rect x="189.93" y="346.30" width="1.54" height="3.10" fill="#cc6070" opacity="0.5" shape-rendering="auto"/>
<rect x="191.46" y="349.40" width="1.54" height="3.10" fill="#cc6070" opacity="0.5" shape-rendering="auto"/>
<rect x="193.00" y="352.50" width="1.54" height="3.10" fill="#cc6070" opacity="0.5" shape-rendering="auto"/>
<rect x="194.54" y="355.60" width="1.54" height="3.10" fill="#cc6070" opacity="0.5" shape-rendering="auto"/>
<rect x="196.07" y="358.70" width="1.54" height="3.10" fill="#cc6070" opacity="0.5" shape-rendering="auto"/>
<rect x="197.61" y="361.80" width="1.54" height="3.10" fill="#cc6070" opacity="0.5" shape-rendering="auto"/>
<rect x="199.15" y="364.90" width="1.54" height="3.10" fill="#cc6070" opacity="0.5" shape-rendering="auto"/>
<rect x="200.69" y="368.00" width="1.54" height="3.10" fill="#cc6070" opacity="0.5" shape-rendering="auto"/>
<rect x="202.23" y="371.10" width="1.54" height="3.10" fill="#cc6070" opacity="0.5" shape-rendering="auto"/>
<rect x="203.76" y="374.20" width="1.54" height="3.10" fill="#cc6070" opacity="0.5" shape-rendering="auto"/>
<rect x="205.30" y="377.30" width="1.54" height="3.10" fill="#cc6070" opacity="0.5" shape-rendering="auto"/>
<rect x="206.84" y="380.40" width="1.54" height="3.10" fill="#cc6070" opacity="0.5" shape-rendering="auto"/>
<rect x="208.38" y="383.50" width="1.54" height="3.10" fill="#cc6070" opacity="0.5" shape-rendering="auto"/>
<rect x="209.91" y="386.60" width="1.54" height="3.10" fill="#cc6070" opacity="0.5" shape-rendering="auto"/>
<rect x="211.45" y="389.70" width="1.54" height="3.10" fill="#cc6070" opacity="0.5" shape-rendering="auto"/>
<rect x="212.99" y="392.80" width="1.54" height="3.10" fill="#cc6070" opacity="0.5" shape-rendering="auto"/>
<rect x="214.53" y="395.90" width="1.54" height="3.10" fill="#cc6070" opacity="0.5" shape-rendering="auto"/>
<rect x="216.06" y="399.00" width="1.54" height="3.10" fill="#cc6070" opacity="0.5" shape-rendering="auto"/>
<rect x="217.60" y="402.10" width="1.54" height="3.10" fill="#cc6070" opacity="0.5" shape-rendering="auto"/>
<rect x="219.14" y="405.20" width="1.54" height="3.10" fill="#cc6070" opacity="0.5" shape-rendering="auto"/>
<rect x="220.68" y="408.30" width="1.54" height="3.10" fill="#cc6070" opacity="0.5" shape-rendering="auto"/>
<rect x="222.21" y="411.40" width="1.54" height="3.10" fill="#cc6070" opacity="0.5" shape-rendering="auto"/>
<rect x="223.75" y="414.50" width="1.54" height="3.10" fill="#cc6070" opacity="0.5" shape-rendering="auto"/>
<rect x="225.29" y="417.60" width="1.54" height="3.10" fill="#cc6070" opacity="0.5" shape-rendering="auto"/>
<rect x="226.82" y="420.70" width="1.54" height="3.10" fill="#cc6070" opacity="0.5" shape-rendering="auto"/>
<rect x="228.36" y="423.80" width="1.54" height="3.10" fill="#cc6070" opacity="0.5" shape-rendering="auto"/>
<rect x="229.90" y="426.90" width="1.54" height="3.10" fill="#cc6070" opacity="0.5" shape-rendering="auto"/>
<rect x="231.44" y="430.00" width="1.54" height="3.10" fill="#cc6070" opacity="0.5" shape-rendering="auto"/>
<rect x="232.98" y="433.10" width="1.54" height="3.10" fill="#cc6070" opacity="0.5" shape-rendering="auto"/>
<rect x="234.51" y="436.20" width="1.54" height="3.10" fill="#cc6070" opacity="0.5" shape-rendering="auto"/>
<rect x="236.05" y="439.30" width="1.54" height="3.10" fill="#cc6070" opacity="0.5" shape-rendering="auto"/>
<rect x="237.59" y="442.40" width="1.54" height="3.10" fill="#cc6070" opacity="0.5" shape-rendering="auto"/>
<rect x="239.12" y="445.50" width="1.54" height="3.10" fill="#cc6070" opacity="0.5" shape-rendering="auto"/>
<rect x="240.66" y="448.60" width="1.54" height="3.10" fill="#cc6070" opacity="0.5" shape-rendering="auto"/>
<rect x="242.20" y="451.70" width="1.54" height="3.10" fill="#cc6070" opacity="0.5" shape-rendering="auto"/>
<rect x="243.74" y="454.80" width="1.54" height="3.10" fill="#cc6070" opacity="0.5" shape-rendering="auto"/>
<rect x="245.28" y="457.90" width="1.54" height="3.10" fill="#cc6070" opacity="0.5" shape-rendering="auto"/>
<rect x="246.81" y="461.00" width="1.54" height="3.10" fill="#cc6070" opacity="0.5" shape-rendering="auto"/>
<rect x="248.35" y="464.10" width="1.54" height="3.10" fill="#cc6070" opacity="0.5" shape-rendering="auto"/>
<rect x="249.89" y="467.20" width="1.54" height="3.10" fill="#cc6070" opacity="0.5" shape-rendering="auto"/>
<rect x="251.43" y="470.30" width="1.54" height="3.10" fill="#cc6070" opacity="0.5" shape-rendering="auto"/>
<rect x="252.96" y="473.40" width="1.54" height="3.10" fill="#cc6070" opacity="0.5" shape-rendering="auto"/>
<rect x="256.50" y="479.50" width="1.54" height="3.12" fill="#cc6070" opacity="0.5" shape-rendering="auto"/>
<rect x="258.04" y="482.62" width="1.54" height="3.12" fill="#cc6070" opacity="0.5" shape-rendering="auto"/>
<rect x="259.58" y="485.73" width="1.54" height="3.12" fill="#cc6070" opacity="0.5" shape-rendering="auto"/>
<rect x="261.12" y="488.85" width="1.54" height="3.12" fill="#cc6070" opacity="0.5" shape-rendering="auto"/>
<rect x="262.65" y="491.96" width="1.54" height="3.12" fill="#cc6070" opacity="0.5" shape-rendering="auto"/>
<rect x="264.19" y="495.08" width="1.54" height="3.12" fill="#cc6070" opacity="0.5" shape-rendering="auto"/>
<rect x="265.73" y="498.19" width="1.54" height="3.12" fill="#cc6070" opacity="0.5" shape-rendering="auto"/>
<rect x="267.27" y="501.31" width="1.54" height="3.12" fill="#cc6070" opacity="0.5" shape-rendering="auto"/>
<rect x="268.81" y="504.42" width="1.54" height="3.12" fill="#cc6070" opacity="0.5" shape-rendering="auto"/>
<rect x="270.35" y="507.54" width="1.54" height="3.12" fill="#cc6070" opacity="0.5" shape-rendering="auto"/>
<rect x="271.88" y="510.65" width="1.54" height="3.12" fill="#cc6070" opacity="0.5" shape-rendering="auto"/>
<rect x="273.42" y="513.77" width="1.54" height="3.12" fill="#cc6070" opacity="0.5" shape-rendering="auto"/>
<rect x="274.96" y="516.88" width="1.54" height="3.12" fill="#cc6070" opacity="0.5" shape-rendering="auto"/>
<rect x="276.50" y="520.00" width="1.54" height="3.12" fill="#cc6070" opacity="0.5" shape-rendering="auto"/>
<rect x="278.04" y="523.12" width="1.54" height="3.12" fill="#cc6070" opacity="0.5" shape-rendering="auto"/>
<rect x="279.58" y="526.23" width="1.54" height="3.12" fill="#cc6070" opacity="0.5" shape-rendering="auto"/>
<rect x="281.12" y="529.35" width="1.54" height="3.12" fill="#cc6070" opacity="0.5" shape-rendering="auto"/>
<rect x="282.65" y="532.46" width="1.54" height="3.12" fill="#cc6070" opacity="0.5" shape-rendering="auto"/>
<rect x="284.19" y="535.58" width="1.54" height="3.12" fill="#cc6070" opacity="0.5" shape-rendering="auto"/>
<rect x="285.73" y="538.69" width="1.54" height="3.12" fill="#cc6070" opacity="0.5" shape-rendering="auto"/>
<rect x="287.27" y="541.81" width="1.54" height="3.12" fill="#cc6070" opacity="0.5" shape-rendering="auto"/>
<rect x="288.81" y="544.92" width="1.54" height="3.12" fill="#cc6070" opacity="0.5" shape-rendering="auto"/>
<rect x="290.35" y="548.04" width="1.54" height="3.12" fill="#cc6070" opacity="0.5" shape-rendering="auto"/>
<rect x="291.88" y="551.15" width="1.54" height="3.12" fill="#cc6070" opacity="0.5" shape-rendering="auto"/>
<rect x="293.42" y="554.27" width="1.54" height="3.12" fill="#cc6070" opacity="0.5" shape-rendering="auto"/>
<rect x="294.96" y="557.38" width="1.54" height="3.12" fill="#cc6070" opacity="0.5" shape-rendering="auto"/>
<rect x="298.50" y="562.50" width="1.54" height="3.10" fill="#cc6070" opacity="0.5" shape-rendering="auto"/>
<rect x="300.04" y="565.60" width="1.54" height="3.10" fill="#cc6070" opacity="0.5" shape-rendering="auto"/>
<rect x="301.58" y="568.71" width="1.54" height="3.10" fill="#cc6070" opacity="0.5" shape-rendering="auto"/>
<rect x="303.12" y="571.81" width="1.54" height="3.10" fill="#cc6070" opacity="0.5" shape-rendering="auto"/>
<rect x="304.65" y="574.91" width="1.54" height="3.10" fill="#cc6070" opacity="0.5" shape-rendering="auto"/>
<rect x="306.19" y="578.01" width="1.54" height="3.10" fill="#cc6070" opacity="0.5" shape-rendering="auto"/>
<rect x="307.73" y="581.12" width="1.54" height="3.10" fill="#cc6070" opacity="0.5" shape-rendering="auto"/>
<rect x="309.27" y="584.22" width="1.54" height="3.10" fill="#cc6070" opacity="0.5" shape-rendering="auto"/>
<rect x="310.81" y="587.32" width="1.54" height="3.10" fill="#cc6070" opacity="0.5" shape-rendering="auto"/>
<rect x="312.35" y="590.42" width="1.54" height="3.10" fill="#cc6070" opacity="0.5" shape-rendering="auto"/>
<rect x="313.88" y="593.53" width="1.54" height="3.10" fill="#cc6070" opacity="0.5" shape-rendering="auto"/>
<rect x="315.42" y="596.63" width="1.54" height="3.10" fill="#cc6070" opacity="0.5" shape-rendering="auto"/>
<rect x="316.96" y="599.73" width="1.54" height="3.10" fill="#cc6070" opacity="0.5" shape-rendering="auto"/>
<rect x="318.50" y="602.83" width="1.54" height="3.10" fill="#cc6070" opacity="0.5" shape-rendering="auto"/>
<rect x="320.04" y="605.94" width="1.54" height="3.10" fill="#cc6070" opacity="0.5" shape-rendering="auto"/>
<rect x="321.58" y="609.04" width="1.54" height="3.10" fill="#cc6070" opacity="0.5" shape-rendering="auto"/>
<rect x="323.12" y="612.14" width="1.54" height="3.10" fill="#cc6070" opacity="0.5" shape-rendering="auto"/>
<rect x="324.65" y="615.24" width="1.54" height="3.10" fill="#cc6070" opacity="0.5" shape-rendering="auto"/>
<rect x="326.19" y="618.35" width="1.54" height="3.10" fill="#cc6070" opacity="0.5" shape-rendering="auto"/>
<rect x="327.73" y="621.45" width="1.54" height="3.10" fill="#cc6070" opacity="0.5" shape-rendering="auto"/>
<rect x="329.27" y="624.55" width="1.54" height="3.10" fill="#cc6070" opacity="0.5" shape-rendering="auto"/>
<rect x="330.81" y="627.65" width="1.54" height="3.10" fill="#cc6070" opacity="0.5" shape-rendering="auto"/>
<rect x="332.35" y="630.76" width="1.54" height="3.10" fill="#cc6070" opacity="0.5" shape-rendering="auto"/>
<rect x="333.88" y="633.86" width="1.54" height="3.10" fill="#cc6070" opacity="0.5" shape-rendering="auto"/>
<rect x="335.42" y="636.96" width="1.54" height="3.10" fill="#cc6070" opacity="0.5" shape-rendering="auto"/>
<rect x="336.96" y="640.06" width="1.54" height="3.10" fill="#cc6070" opacity="0.5" shape-rendering="auto"/>
<rect x="338.50" y="643.17" width="1.54" height="3.10" fill="#cc6070" opacity="0.5" shape-rendering="auto"/>
<rect x="340.04" y="646.27" width="1.54" height="3.10" fill="#cc6070" opacity="0.5" shape-rendering="auto"/>
<rect x="341.58" y="649.37" width="1.54" height="3.10" fill="#cc6070" opacity="0.5" shape-rendering="auto"/>
<rect x="343.12" y="652.47" width="1.54" height="3.10" fill="#cc6070" opacity="0.5" shape-rendering="auto"/>
<rect x="344.65" y="655.58" width="1.54" height="3.10" fill="#cc6070" opacity="0.5" shape-rendering="auto"/>
<rect x="346.19" y="658.68" width="1.54" height="3.10" fill="#cc6070" opacity="0.5" shape-rendering="auto"/>
<rect x="347.73" y="661.78" width="1.54" height="3.10" fill="#cc6070" opacity="0.5" shape-rendering="auto"/>
<rect x="349.27" y="664.88" width="1.54" height="3.10" fill="#cc6070" opacity="0.5" shape-rendering="auto"/>
<rect x="350.81" y="667.99" width="1.54" height="3.10" fill="#cc6070" opacity="0.5" shape-rendering="auto"/>
<rect x="352.35" y="671.09" width="1.54" height="3.10" fill="#cc6070" opacity="0.5" shape-rendering="auto"/>
<rect x="353.88" y="674.19" width="1.54" height="3.10" fill="#cc6070" opacity="0.5" shape-rendering="auto"/>
<rect x="355.42" y="677.29" width="1.54" height="3.10" fill="#cc6070" opacity="0.5" shape-rendering="auto"/>
<rect x="356.96" y="680.40" width="1.54" height="3.10" fill="#cc6070" opacity="0.5" shape-rendering="auto"/>
<rect x="24.5" y="14.5" width="105" height="211" fill="none" stroke="#555" stroke-width="1.25" shape-rendering="auto"/>
<rect x="131.5" y="14.5" width="123" height="211" fill="none" stroke="#555" stroke-width="1.25" shape-rendering="auto"/>
<rect x="256.5" y="14.5" width="40" height="211" fill="none" stroke="#555" stroke-width="1.25" shape-rendering="auto"/>
<rect x="298.5" y="14.5" width="60" height="211" fill="none" stroke="#555" stroke-width="1.25" shape-rendering="auto"/>
<rect x="24.5" y="228.5" width="105" height="248" fill="none" stroke="#555" stroke-width="1.25" shape-rendering="auto"/>
<rect x="131.5" y="228.5" width="123" height="248" fill="none" stroke="#555" stroke-width="1.25" shape-rendering="auto"/>
<rect x="256.5" y="228.5" width="40" height="248" fill="none" stroke="#555" stroke-width="1.25" shape-rendering="auto"/>
<rect x="298.5" y="228.5" width="60" height="248" fill="none" stroke="#555" stroke-width="1.25" shape-rendering="auto"/>
<rect x="24.5" y="479.5" width="105" height="81" fill="none" stroke="#555" stroke-width="1.25" shape-rendering="auto"/>
<rect x="131.5" y="479.5" width="123" height="81" fill="none" stroke="#555" stroke-width="1.25" shape-rendering="auto"/>
<rect x="256.5" y="479.5" width="40" height="81" fill="none" stroke="#555" stroke-width="1.25" shape-rendering="auto"/>
<rect x="298.5" y="479.5" width="60" height="81" fill="none" stroke="#555" stroke-width="1.25" shape-rendering="auto"/>
<rect x="24.5" y="562.5" width="105" height="121" fill="none" stroke="#555" stroke-width="1.25" shape-rendering="auto"/>
<rect x="131.5" y="562.5" width="123" height="121" fill="none" stroke="#555" stroke-width="1.25" shape-rendering="auto"/>
<rect x="256.5" y="562.5" width="40" height="121" fill="none" stroke="#555" stroke-width="1.25" shape-rendering="auto"/>
<rect x="298.5" y="562.5" width="60" height="121" fill="none" stroke="#555" stroke-width="1.25" shape-rendering="auto"/>
<path d="M21.79 19.15L21.79 22.26M21.79 19.15L23.00 19.15M21.79 22.26L23.00 22.26M21.19 16.05L21.19 20.71M21.19 16.05L23.00 16.05M21.19 20.71L21.79 20.71M21.48 25.36L21.48 28.46M21.48 25.36L23.00 25.36M21.48 28.46L23.00 28.46M21.04 26.91L21.04 31.57M21.04 26.91L21.48 26.91M21.04 31.57L23.00 31.57M19.51 18.38L19.51 29.24M19.51 18.38L21.19 18.38M19.51 29.24L21.04 29.24M21.61 34.67L21.61 37.77M21.61 34.67L23.00 34.67M21.61 37.77L23.00 37.77M21.83 43.98L21.83 47.08M21.83 43.98L23.00 43.98M21.83 47.08L23.00 47.08M21.39 40.88L21.39 45.53M21.39 40.88L23.00 40.88M21.39 45.53L21.83 45.53M19.93 36.22L19.93 43.20M19.93 36.22L21.61 36.22M19.93 43.20L21.39 43.20M22.41 53.29L22.41 56.39M22.41 53.29L23.00 53.29M22.41 56.39L23.00 56.39M21.71 54.84L21.71 59.49M21.71 54.84L22.41 54.84M21.71 59.49L23.00 59.49M21.34 50.18L21.34 57.17M21.34 50.18L23.00 50.18M21.34 57.17L21.71 57.17M21.90 65.70L21.90 68.80M21.90 65.70L23.00 65.70M21.90 68.80L23.00 68.80M21.10 62.60L21.10 67.25M21.10 62.60L23.00 62.60M21.10 67.25L21.90 67.25M20.16 53.67L20.16 64.92M20.16 53.67L21.34 53.67M20.16 64.92L21.10 64.92M19.08 39.71L19.08 59.30M19.08 39.71L19.93 39.71M19.08 59.30L20.16 59.30M22.63 71.90L22.63 75.01M22.63 71.90L23.00 71.90M22.63 75.01L23.00 75.01M22.55 78.11L22.55 81.21M22.55 78.11L23.00 78.11M22.55 81.21L23.00 81.21M22.39 73.46L22.39 79.66M22.39 73.46L22.63 73.46M22.39 79.66L22.55 79.66M21.54 76.56L21.54 84.32M21.54 76.56L22.39 76.56M21.54 84.32L23.00 84.32M22.64 90.52L22.64 93.62M22.64 90.52L23.00 90.52M22.64 93.62L23.00 93.62M22.23 87.42L22.23 92.07M22.23 87.42L23.00 87.42M22.23 92.07L22.64 92.07M21.45 89.75L21.45 96.73M21.45 89.75L22.23 89.75M21.45 96.73L23.00 96.73M20.68 80.44L20.68 93.24M20.68 80.44L21.54 80.44M20.68 93.24L21.45 93.24M20.78 99.83L20.78 102.93M20.78 99.83L23.00 99.83M20.78 102.93L23.00 102.93M19.11 101.38L19.11 106.04M19.11 101.38L20.78 101.38M19.11 106.04L23.00 106.04M17.93 86.84L17.93 103.71M17.93 86.84L20.68 86.84M17.93 103.71L19.11 103.71M16.28 49.51L16.28 95.27M16.28 49.51L19.08 49.51M16.28 95.27L17.93 95.27M14.60 23.81L14.60 72.39M14.60 23.81L19.51 23.81M14.60 72.39L16.28 72.39M21.06 109.14L21.06 112.24M21.06 109.14L23.00 109.14M21.06 112.24L23.00 112.24M22.04 115.35L22.04 118.45M22.04 115.35L23.00 115.35M22.04 118.45L23.00 118.45M21.50 116.90L21.50 121.55M21.50 116.90L22.04 116.90M21.50 121.55L23.00 121.55M20.40 110.69L20.40 119.22M20.40 110.69L21.06 110.69M20.40 119.22L21.50 119.22M19.69 114.96L19.69 124.65M19.69 114.96L20.40 114.96M19.69 124.65L23.00 124.65M22.03 130.86L22.03 133.96M22.03 130.86L23.00 130.86M22.03 133.96L23.00 133.96M21.34 127.76L21.34 132.41M21.34 127.76L23.00 127.76M21.34 132.41L22.03 132.41M19.24 130.08L19.24 137.07M19.24 130.08L21.34 130.08M19.24 137.07L23.00 137.07M15.11 119.81L15.11 133.58M15.11 119.81L19.69 119.81M15.11 133.58L19.24 133.58M21.00 140.17L21.00 143.27M21.00 140.17L23.00 140.17M21.00 143.27L23.00 143.27M19.66 141.72L19.66 146.38M19.66 141.72L21.00 141.72M19.66 146.38L23.00 146.38M19.80 149.48L19.80 152.58M19.80 149.48L23.00 149.48M19.80 152.58L23.00 152.58M18.61 144.05L18.61 151.03M18.61 144.05L19.66 144.05M18.61 151.03L19.80 151.03M12.88 126.69L12.88 147.54M12.88 126.69L15.11 126.69M12.88 147.54L18.61 147.54M20.99 155.68L20.99 158.79M20.99 155.68L23.00 155.68M20.99 158.79L23.00 158.79M21.76 161.89L21.76 164.99M21.76 161.89L23.00 161.89M21.76 164.99L23.00 164.99M22.22 171.20L22.22 174.30M22.22 171.20L23.00 171.20M22.22 174.30L23.00 174.30M21.87 168.10L21.87 172.75M21.87 168.10L23.00 168.10M21.87 172.75L22.22 172.75M20.92 163.44L20.92 170.42M20.92 163.44L21.76 163.44M20.92 170.42L21.87 170.42M20.30 157.24L20.30 166.93M20.30 157.24L20.99 157.24M20.30 166.93L20.92 166.93M22.40 183.61L22.40 186.71M22.40 183.61L23.00 183.61M22.40 186.71L23.00 186.71M22.24 180.51L22.24 185.16M22.24 180.51L23.00 180.51M22.24 185.16L22.40 185.16M21.75 182.83L21.75 189.82M21.75 182.83L22.24 182.83M21.75 189.82L23.00 189.82M21.49 186.33L21.49 192.92M21.49 186.33L21.75 186.33M21.49 192.92L23.00 192.92M20.67 177.40L20.67 189.62M20.67 177.40L23.00 177.40M20.67 189.62L21.49 189.62M20.46 196.02L20.46 199.12M20.46 196.02L23.00 196.02M20.46 199.12L23.00 199.12M19.54 183.51L19.54 197.57M19.54 183.51L20.67 183.51M19.54 197.57L20.46 197.57M18.84 162.08L18.84 190.54M18.84 162.08L20.30 162.08M18.84 190.54L19.54 190.54M22.35 202.23L22.35 205.33M22.35 202.23L23.00 202.23M22.35 205.33L23.00 205.33M21.71 203.78L21.71 208.43M21.71 203.78L22.35 203.78M21.71 208.43L23.00 208.43M22.59 211.54L22.59 214.64M22.59 211.54L23.00 211.54M22.59 214.64L23.00 214.64M22.38 213.09L22.38 217.74M22.38 213.09L22.59 213.09M22.38 217.74L23.00 217.74M21.46 206.11L21.46 215.42M21.46 206.11L21.71 206.11M21.46 215.42L22.38 215.42M21.14 220.85L21.14 223.95M21.14 220.85L23.00 220.85M21.14 223.95L23.00 223.95M20.71 210.76L20.71 222.40M20.71 210.76L21.46 210.76M20.71 222.40L21.14 222.40M17.42 176.31L17.42 216.58M17.42 176.31L18.84 176.31M17.42 216.58L20.71 216.58M11.00 137.11L11.00 196.45M11.00 137.11L12.88 137.11M11.00 196.45L17.42 196.45M9.10 48.10L9.10 166.78M9.10 48.10L14.60 48.10M9.10 166.78L11.00 166.78M20.68 230.05L20.68 233.15M20.68 230.05L23.00 230.05M20.68 233.15L23.00 233.15M20.18 231.60L20.18 236.25M20.18 231.60L20.68 231.60M20.18 236.25L23.00 236.25M19.02 233.93L19.02 239.35M19.02 233.93L20.18 233.93M19.02 239.35L23.00 239.35M20.69 242.45L20.69 245.55M20.69 242.45L23.00 242.45M20.69 245.55L23.00 245.55M20.78 251.75L20.78 254.85M20.78 251.75L23.00 251.75M20.78 254.85L23.00 254.85M19.25 248.65L19.25 253.30M19.25 248.65L23.00 248.65M19.25 253.30L20.78 253.30M18.44 244.00L18.44 250.98M18.44 244.00L20.69 244.00M18.44 250.98L19.25 250.98M17.56 236.64L17.56 247.49M17.56 236.64L19.02 236.64M17.56 247.49L18.44 247.49M17.50 257.95L17.50 261.05M17.50 257.95L23.00 257.95M17.50 261.05L23.00 261.05M20.52 264.15L20.52 267.25M20.52 264.15L23.00 264.15M20.52 267.25L23.00 267.25M18.71 265.70L18.71 270.35M18.71 265.70L20.52 265.70M18.71 270.35L23.00 270.35M14.95 259.50L14.95 268.02M14.95 259.50L17.50 259.50M14.95 268.02L18.71 268.02M12.40 242.06L12.40 263.76M12.40 242.06L17.56 242.06M12.40 263.76L14.95 263.76M21.07 276.55L21.07 279.65M21.07 276.55L23.00 276.55M21.07 279.65L23.00 279.65M20.31 273.45L20.31 278.10M20.31 273.45L23.00 273.45M20.31 278.10L21.07 278.10M21.88 282.75L21.88 285.85M21.88 282.75L23.00 282.75M21.88 285.85L23.00 285.85M21.61 284.30L21.61 288.95M21.61 284.30L21.88 284.30M21.61 288.95L23.00 288.95M21.80 292.05L21.80 295.15M21.80 292.05L23.00 292.05M21.80 295.15L23.00 295.15M20.37 286.62L20.37 293.60M20.37 286.62L21.61 286.62M20.37 293.60L21.80 293.60M19.61 275.77L19.61 290.11M19.61 275.77L20.31 275.77M19.61 290.11L20.37 290.11M21.31 298.25L21.31 301.35M21.31 298.25L23.00 298.25M21.31 301.35L23.00 301.35M22.09 307.55L22.09 310.65M22.09 307.55L23.00 307.55M22.09 310.65L23.00 310.65M21.64 304.45L21.64 309.10M21.64 304.45L23.00 304.45M21.64 309.10L22.09 309.10M21.73 313.75L21.73 316.85M21.73 313.75L23.00 313.75M21.73 316.85L23.00 316.85M22.02 319.95L22.02 323.05M22.02 319.95L23.00 319.95M22.02 323.05L23.00 323.05M21.34 315.30L21.34 321.50M21.34 315.30L21.73 315.30M21.34 321.50L22.02 321.50M20.81 306.77L20.81 318.40M20.81 306.77L21.64 306.77M20.81 318.40L21.34 318.40M19.84 299.80L19.84 312.59M19.84 299.80L21.31 299.80M19.84 312.59L20.81 312.59M18.77 282.94L18.77 306.19M18.77 282.94L19.61 282.94M18.77 306.19L19.84 306.19M19.06 326.15L19.06 329.25M19.06 326.15L23.00 326.15M19.06 329.25L23.00 329.25M20.65 335.45L20.65 338.55M20.65 335.45L23.00 335.45M20.65 338.55L23.00 338.55M19.34 332.35L19.34 337.00M19.34 332.35L23.00 332.35M19.34 337.00L20.65 337.00M17.99 327.70L17.99 334.68M17.99 327.70L19.06 327.70M17.99 334.68L19.34 334.68M15.08 294.57L15.08 331.19M15.08 294.57L18.77 294.57M15.08 331.19L17.99 331.19M20.51 341.65L20.51 344.75M20.51 341.65L23.00 341.65M20.51 344.75L23.00 344.75M22.46 350.95L22.46 354.05M22.46 350.95L23.00 350.95M22.46 354.05L23.00 354.05M21.68 352.50L21.68 357.15M21.68 352.50L22.46 352.50M21.68 357.15L23.00 357.15M21.08 347.85L21.08 354.82M21.08 347.85L23.00 347.85M21.08 354.82L21.68 354.82M19.42 343.20L19.42 351.34M19.42 343.20L20.51 343.20M19.42 351.34L21.08 351.34M20.73 360.25L20.73 363.35M20.73 360.25L23.00 360.25M20.73 363.35L23.00 363.35M19.58 361.80L19.58 366.45M19.58 361.80L20.73 361.80M19.58 366.45L23.00 366.45M15.36 347.27L15.36 364.12M15.36 347.27L19.42 347.27M15.36 364.12L19.58 364.12M10.78 312.88L10.78 355.70M10.78 312.88L15.08 312.88M10.78 355.70L15.36 355.70M20.62 369.55L20.62 372.65M20.62 369.55L23.00 369.55M20.62 372.65L23.00 372.65M20.00 371.10L20.00 375.75M20.00 371.10L20.62 371.10M20.00 375.75L23.00 375.75M21.15 378.85L21.15 381.95M21.15 378.85L23.00 378.85M21.15 381.95L23.00 381.95M21.74 385.05L21.74 388.15M21.74 385.05L23.00 385.05M21.74 388.15L23.00 388.15M20.31 380.40L20.31 386.60M20.31 380.40L21.15 380.40M20.31 386.60L21.74 386.60M17.42 373.43L17.42 383.50M17.42 373.43L20.00 373.43M17.42 383.50L20.31 383.50M21.82 391.25L21.82 394.35M21.82 391.25L23.00 391.25M21.82 394.35L23.00 394.35M20.31 392.80L20.31 397.45M20.31 392.80L21.82 392.80M20.31 397.45L23.00 397.45M22.31 403.65L22.31 406.75M22.31 403.65L23.00 403.65M22.31 406.75L23.00 406.75M22.13 400.55L22.13 405.20M22.13 400.55L23.00 400.55M22.13 405.20L22.31 405.20M21.24 409.85L21.24 412.95M21.24 409.85L23.00 409.85M21.24 412.95L23.00 412.95M20.89 402.88L20.89 411.40M20.89 402.88L22.13 402.88M20.89 411.40L21.24 411.40M18.86 395.12L18.86 407.14M18.86 395.12L20.31 395.12M18.86 407.14L20.89 407.14M22.50 416.05L22.50 419.15M22.50 416.05L23.00 416.05M22.50 419.15L23.00 419.15M22.75 422.25L22.75 425.35M22.75 422.25L23.00 422.25M22.75 425.35L23.00 425.35M22.81 428.45L22.81 431.55M22.81 428.45L23.00 428.45M22.81 431.55L23.00 431.55M22.65 423.80L22.65 430.00M22.65 423.80L22.75 423.80M22.65 430.00L22.81 430.00M22.45 426.90L22.45 434.65M22.45 426.90L22.65 426.90M22.45 434.65L23.00 434.65M22.73 437.75L22.73 440.85M22.73 437.75L23.00 437.75M22.73 440.85L23.00 440.85M22.35 430.77L22.35 439.30M22.35 430.77L22.45 430.77M22.35 439.30L22.73 439.30M21.80 417.60L21.80 435.04M21.80 417.60L22.50 417.60M21.80 435.04L22.35 435.04M22.51 447.05L22.51 450.15M22.51 447.05L23.00 447.05M22.51 450.15L23.00 450.15M21.83 443.95L21.83 448.60M21.83 443.95L23.00 443.95M21.83 448.60L22.51 448.60M22.54 453.25L22.54 456.35M22.54 453.25L23.00 453.25M22.54 456.35L23.00 456.35M22.91 465.65L22.91 468.75M22.91 465.65L23.00 465.65M22.91 468.75L23.00 468.75M22.90 471.85L22.90 474.95M22.90 471.85L23.00 471.85M22.90 474.95L23.00 474.95M22.77 467.20L22.77 473.40M22.77 467.20L22.91 467.20M22.77 473.40L22.90 473.40M22.70 462.55L22.70 470.30M22.70 462.55L23.00 462.55M22.70 470.30L22.77 470.30M22.36 459.45L22.36 466.43M22.36 459.45L23.00 459.45M22.36 466.43L22.70 466.43M22.19 454.80L22.19 462.94M22.19 454.80L22.54 454.80M22.19 462.94L22.36 462.94M21.06 446.28L21.06 458.87M21.06 446.28L21.83 446.28M21.06 458.87L22.19 458.87M20.20 426.32L20.20 452.57M20.20 426.32L21.80 426.32M20.20 452.57L21.06 452.57M17.61 401.13L17.61 439.45M17.61 401.13L18.86 401.13M17.61 439.45L20.20 439.45M10.44 378.46L10.44 420.29M10.44 378.46L17.42 378.46M10.44 420.29L17.61 420.29M7.30 334.29L7.30 399.38M7.30 334.29L10.78 334.29M7.30 399.38L10.44 399.38M6.00 252.91L6.00 366.83M6.00 252.91L12.40 252.91M6.00 366.83L7.30 366.83M19.45 481.06L19.45 484.17M19.45 481.06L23.00 481.06M19.45 484.17L23.00 484.17M20.92 487.29L20.92 490.40M20.92 487.29L23.00 487.29M20.92 490.40L23.00 490.40M18.31 482.62L18.31 488.85M18.31 482.62L19.45 482.62M18.31 488.85L20.92 488.85M21.92 496.63L21.92 499.75M21.92 496.63L23.00 496.63M21.92 499.75L23.00 499.75M20.38 493.52L20.38 498.19M20.38 493.52L23.00 493.52M20.38 498.19L21.92 498.19M17.29 485.73L17.29 495.86M17.29 485.73L18.31 485.73M17.29 495.86L20.38 495.86M21.34 502.87L21.34 505.98M21.34 502.87L23.00 502.87M21.34 505.98L23.00 505.98M19.35 504.42L19.35 509.10M19.35 504.42L21.34 504.42M19.35 509.10L23.00 509.10M21.72 518.44L21.72 521.56M21.72 518.44L23.00 518.44M21.72 521.56L23.00 521.56M21.24 515.33L21.24 520.00M21.24 515.33L23.00 515.33M21.24 520.00L21.72 520.00M20.78 512.21L20.78 517.66M20.78 512.21L23.00 512.21M20.78 517.66L21.24 517.66M21.58 524.67L21.58 527.79M21.58 524.67L23.00 524.67M21.58 527.79L23.00 527.79M20.06 514.94L20.06 526.23M20.06 514.94L20.78 514.94M20.06 526.23L21.58 526.23M18.59 506.76L18.59 520.58M18.59 506.76L19.35 506.76M18.59 520.58L20.06 520.58M20.07 530.90L20.07 534.02M20.07 530.90L23.00 530.90M20.07 534.02L23.00 534.02M18.67 532.46L18.67 537.13M18.67 532.46L20.07 532.46M18.67 537.13L23.00 537.13M17.27 513.67L17.27 534.80M17.27 513.67L18.59 513.67M17.27 534.80L18.67 534.80M22.04 543.37L22.04 546.48M22.04 543.37L23.00 543.37M22.04 546.48L23.00 546.48M21.38 544.92L21.38 549.60M21.38 544.92L22.04 544.92M21.38 549.60L23.00 549.60M20.26 540.25L20.26 547.26M20.26 540.25L23.00 540.25M20.26 547.26L21.38 547.26M20.16 555.83L20.16 558.94M20.16 555.83L23.00 555.83M20.16 558.94L23.00 558.94M18.57 552.71L18.57 557.38M18.57 552.71L23.00 552.71M18.57 557.38L20.16 557.38M17.31 543.75L17.31 555.05M17.31 543.75L20.26 543.75M17.31 555.05L18.57 555.05M14.10 524.23L14.10 549.40M14.10 524.23L17.27 524.23M14.10 549.40L17.31 549.40M11.70 490.79L11.70 536.82M11.70 490.79L17.29 490.79M11.70 536.82L14.10 536.82M21.22 573.36L21.22 576.46M21.22 573.36L23.00 573.36M21.22 576.46L23.00 576.46M20.21 570.26L20.21 574.91M20.21 570.26L23.00 570.26M20.21 574.91L21.22 574.91M19.10 567.15L19.10 572.58M19.10 567.15L23.00 567.15M19.10 572.58L20.21 572.58M20.36 582.67L20.36 585.77M20.36 582.67L23.00 582.67M20.36 585.77L23.00 585.77M18.39 584.22L18.39 588.87M18.39 584.22L20.36 584.22M18.39 588.87L23.00 588.87M17.45 579.56L17.45 586.54M17.45 579.56L23.00 579.56M17.45 586.54L18.39 586.54M15.82 569.87L15.82 583.05M15.82 569.87L19.10 569.87M15.82 583.05L17.45 583.05M21.95 591.97L21.95 595.08M21.95 591.97L23.00 591.97M21.95 595.08L23.00 595.08M22.27 598.18L22.27 601.28M22.27 598.18L23.00 598.18M22.27 601.28L23.00 601.28M22.73 604.38L22.73 607.49M22.73 604.38L23.00 604.38M22.73 607.49L23.00 607.49M22.60 605.94L22.60 610.59M22.60 605.94L22.73 605.94M22.60 610.59L23.00 610.59M22.45 608.26L22.45 613.69M22.45 608.26L22.60 608.26M22.45 613.69L23.00 613.69M22.18 610.98L22.18 616.79M22.18 610.98L22.45 610.98M22.18 616.79L23.00 616.79M21.96 599.73L21.96 613.89M21.96 599.73L22.27 599.73M21.96 613.89L22.18 613.89M21.30 593.53L21.30 606.81M21.30 593.53L21.95 593.53M21.30 606.81L21.96 606.81M21.49 619.90L21.49 623.00M21.49 619.90L23.00 619.90M21.49 623.00L23.00 623.00M20.13 600.17L20.13 621.45M20.13 600.17L21.30 600.17M20.13 621.45L21.49 621.45M21.51 629.21L21.51 632.31M21.51 629.21L23.00 629.21M21.51 632.31L23.00 632.31M22.74 638.51L22.74 641.62M22.74 638.51L23.00 638.51M22.74 641.62L23.00 641.62M22.45 640.06L22.45 644.72M22.45 640.06L22.74 640.06M22.45 644.72L23.00 644.72M21.86 635.41L21.86 642.39M21.86 635.41L23.00 635.41M21.86 642.39L22.45 642.39M20.55 630.76L20.55 638.90M20.55 630.76L21.51 630.76M20.55 638.90L21.86 638.90M19.42 626.10L19.42 634.83M19.42 626.10L23.00 626.10M19.42 634.83L20.55 634.83M17.74 610.81L17.74 630.47M17.74 610.81L20.13 610.81M17.74 630.47L19.42 630.47M20.31 647.82L20.31 650.92M20.31 647.82L23.00 647.82M20.31 650.92L23.00 650.92M22.08 657.13L22.08 660.23M22.08 657.13L23.00 657.13M22.08 660.23L23.00 660.23M20.85 654.03L20.85 658.68M20.85 654.03L23.00 654.03M20.85 658.68L22.08 658.68M22.01 663.33L22.01 666.44M22.01 663.33L23.00 663.33M22.01 666.44L23.00 666.44M21.64 664.88L21.64 669.54M21.64 664.88L22.01 664.88M21.64 669.54L23.00 669.54M22.01 672.64L22.01 675.74M22.01 672.64L23.00 672.64M22.01 675.74L23.00 675.74M21.08 667.21L21.08 674.19M21.08 667.21L21.64 667.21M21.08 674.19L22.01 674.19M20.13 656.35L20.13 670.70M20.13 656.35L20.85 656.35M20.13 670.70L21.08 670.70M18.55 649.37L18.55 663.53M18.55 649.37L20.31 649.37M18.55 663.53L20.13 663.53M18.71 678.85L18.71 681.95M18.71 678.85L23.00 678.85M18.71 681.95L23.00 681.95M17.34 656.45L17.34 680.40M17.34 656.45L18.55 656.45M17.34 680.40L18.71 680.40M15.65 620.64L15.65 668.42M15.65 620.64L17.74 620.64M15.65 668.42L17.34 668.42M11.00 576.46L11.00 644.53M11.00 576.46L15.82 576.46M11.00 644.53L15.65 644.53M9.50 564.05L9.50 610.50M9.50 564.05L23.00 564.05M9.50 610.50L11.00 610.50M5.90 513.81L5.90 587.27M5.90 513.81L11.70 513.81M5.90 587.27L9.50 587.27M2.20 309.87L2.20 550.54M2.20 309.87L6.00 309.87M2.20 550.54L5.90 550.54M0.90 107.44L0.90 430.21M0.90 107.44L9.10 107.44M0.90 430.21L2.20 430.21" stroke="#222" stroke-width="0.6" fill="none" shape-rendering="auto"/>
<g font-size="25" fill="#111" stroke="#111" stroke-width="0.35" text-rendering="geometricPrecision" transform="scale(0.092,0.1)">
<text x="3924" y="169.5">SRR8350606_ck_a36w_c01l_sp</text>
<text x="3924" y="200.5">SRR8351067_ck_a50d_ct02s_sp</text>
<text x="3924" y="231.6">SRR8350196_cb_a50d_c01l_sp</text>
<text x="3924" y="262.6">SRR8350237_ck_a50d_ct01l_sp</text>
<text x="3924" y="293.6">SRR8350163_ck_a36w_ct01l_pe</text>
<text x="3924" y="324.7">SRR7410609_cb_a50d_c01l_sp</text>
<text x="3924" y="355.7">SRR8351455_ck_a36w_ct01l_se</text>
<text x="3924" y="386.7">SRR8350506_ck_a36w_c01l_sp</text>
<text x="3924" y="417.8">SRR8350431_cb_a36w_c01l_sp</text>
<text x="3924" y="448.8">SRR8350925_sk_a48d_ct02s_sp</text>
<text x="3924" y="479.8">SRR8350715_sk_a48d_cr01l_sp</text>
<text x="3924" y="510.8">SRR8351273_sk_a48d_ct01l_pe</text>
<text x="3924" y="541.9">SRR7410090_sk_a48d_c01l_se</text>
<text x="3924" y="572.9">SRR8350300_cb_a50d_ct01l_se</text>
<text x="3924" y="603.9">SRR8351629_ck_a50d_ct02s_sp</text>
<text x="3924" y="635.0">SRR8350517_ck_a48d_ct02s_se</text>
<text x="3924" y="666.0">SRR8350110_ck_a48d_c01l_pe</text>
<text x="3924" y="697.0">SRR8351269_ck_a48d_ct02s_pe</text>
<text x="3924" y="728.0">SRR8350981_ck_a50d_c01l_pe</text>
<text x="3924" y="759.1">SRR8351395_ck_a36w_c01l_sp</text>
<text x="3924" y="790.1">SRR8350958_sk_a50d_ct02s_sp</text>
<text x="3924" y="821.1">SRR8350561_sk_a48d_c01l_sp</text>
<text x="3924" y="852.2">SRR8350020_cb_a48d_ct01l_sp</text>
<text x="3924" y="883.2">SRR8350477_sk_a36w_ct02s_sp</text>
<text x="3924" y="914.2">SRR7410022_ck_a48d_ct02s_pe</text>
<text x="3924" y="945.2">SRR7410305_sk_a48d_ct02s_se</text>
<text x="3924" y="976.3">SRR8350776_sk_a36w_ct02s_pe</text>
<text x="3924" y="1007.3">SRR8350790_ck_a48d_ct02s_sp</text>
<text x="3924" y="1038.3">SRR8350669_sk_a48d_ct02s_se</text>
<text x="3924" y="1069.4">SRR7410665_ck_a48d_ct02s_pe</text>
<text x="3924" y="1100.4">SRR8350448_ck_a48d_ct02s_sp</text>
<text x="3924" y="1131.4">SRR8350906_cb_a36w_cr01l_se</text>
<text x="3924" y="1162.5">SRR8350542_ck_a36w_cr01l_pe</text>
<text x="3924" y="1193.5">SRR8350826_ck_a36w_cr01l_pe</text>
<text x="3924" y="1224.5">SRR8350530_sk_a50d_ct02s_sp</text>
<text x="3924" y="1255.5">SRR7410297_cb_a50d_ct01l_pe</text>
<text x="3924" y="1286.6">SRR8350204_ck_a50d_c01l_sp</text>
<text x="3924" y="1317.6">SRR8350033_cb_a36w_ct02s_se</text>
<text x="3924" y="1348.6">SRR8350878_sk_a48d_cr01l_se</text>
<text x="3924" y="1379.7">SRR8350925_ck_a50d_ct01l_se</text>
<text x="3924" y="1410.7">SRR7410763_ck_a48d_ct02s_se</text>
<text x="3924" y="1441.7">SRR8350537_cb_a48d_ct01l_pe</text>
<text x="3924" y="1472.8">SRR8350258_cb_a48d_ct02s_se</text>
<text x="3924" y="1503.8">SRR8350125_ck_a48d_cr01l_pe</text>
<text x="3924" y="1534.8">SRR8350843_ck_a50d_c01l_se</text>
<text x="3924" y="1565.8">SRR8350254_sk_a50d_ct01l_pe</text>
<text x="3924" y="1596.9">SRR8350795_ck_a48d_cr01l_se</text>
<text x="3924" y="1627.9">SRR8350051_ck_a50d_ct01l_sp</text>
<text x="3924" y="1658.9">SRR8350527_cb_a36w_cr01l_pe</text>
<text x="3924" y="1690.0">SRR8350359_cb_a50d_ct02s_pe</text>
<text x="3924" y="1721.0">SRR8350195_sk_a50d_ct01l_se</text>
<text x="3924" y="1752.0">SRR8351003_cb_a48d_cr01l_se</text>
<text x="3924" y="1783.0">SRR8350471_cb_a48d_c01l_se</text>
<text x="3924" y="1814.1">SRR8350642_cb_a36w_c01l_sp</text>
<text x="3924" y="1845.1">SRR7410471_ck_a48d_cr01l_sp</text>
<text x="3924" y="1876.1">SRR8350711_ck_a50d_cr01l_pe</text>
<text x="3924" y="1907.2">SRR8350900_ck_a36w_ct02s_sp</text>
<text x="3924" y="1938.2">SRR8350124_cb_a48d_c01l_sp</text>
<text x="3924" y="1969.2">SRR8350751_sk_a48d_ct01l_pe</text>
<text x="3924" y="2000.2">SRR8350241_cb_a48d_ct01l_sp</text>
<text x="3924" y="2031.3">SRR8350675_cb_a48d_ct01l_pe</text>
<text x="3924" y="2062.3">SRR8350026_ck_a50d_ct02s_sp</text>
<text x="3924" y="2093.3">SRR8350817_ck_a48d_cr01l_se</text>
<text x="3924" y="2124.4">SRR8351766_ck_a48d_ct02s_sp</text>
<text x="3924" y="2155.4">SRR8350847_ck_a48d_cr01l_sp</text>
<text x="3924" y="2186.4">SRR8350465_cb_a36w_ct02s_sp</text>
<text x="3924" y="2217.5">SRR7410961_sk_a50d_ct01l_pe</text>
<text x="3924" y="2248.5">SRR8351240_cb_a48d_c01l_sp</text>
<text x="3924" y="2309.5">SRR8351774_t_bl_st_sn</text>
<text x="3924" y="2340.5">SRR8350098_t_ht_st_se</text>
<text x="3924" y="2371.5">SRR8350139_l_bl_3_se</text>
<text x="3924" y="2402.5">SRR8351322_2_lf_st_se</text>
<text x="3924" y="2433.5">SRR8351598_l_bl_rs_sn</text>
<text x="3924" y="2464.5">SRR8350490_t_bl_3_se</text>
<text x="3924" y="2495.5">SRR8350244_l_ht_3_pe</text>
<text x="3924" y="2526.5">SRR7410718_2_ht_2_pe</text>
<text x="3924" y="2557.5">SRR8350877_t_ad_st_sn</text>
<text x="3924" y="2588.5">SRR8350663_1_bl_rs_sn</text>
<text x="3924" y="2619.5">SRR8350794_l_bl_3_se</text>
<text x="3924" y="2650.5">SRR8350921_l_bl_2_pe</text>
<text x="3924" y="2681.5">SRR8350433_1_ad_2_sn</text>
<text x="3924" y="2712.5">SRR8350853_l_ad_rs_pe</text>
<text x="3924" y="2743.5">SRR8351751_l_ad_2_pe</text>
<text x="3924" y="2774.5">SRR8350446_t_ht_2_sn</text>
<text x="3924" y="2805.5">SRR8351760_t_ht_3_se</text>
<text x="3924" y="2836.5">SRR8350122_l_ad_st_sn</text>
<text x="3924" y="2867.5">SRR7410908_l_ad_rs_se</text>
<text x="3924" y="2898.5">SRR8350775_t_lf_rs_sn</text>
<text x="3924" y="2929.5">SRR8350688_1_ht_rs_sn</text>
<text x="3924" y="2960.5">SRR8350694_2_bl_3_pe</text>
<text x="3924" y="2991.5">SRR7410126_1_bl_rs_se</text>
<text x="3924" y="3022.5">SRR8351430_l_bl_st_pe</text>
<text x="3924" y="3053.5">SRR8350800_2_ad_2_se</text>
<text x="3924" y="3084.5">SRR8350772_t_lf_2_pe</text>
<text x="3924" y="3115.5">SRR8350392_1_bl_2_pe</text>
<text x="3924" y="3146.5">SRR8351277_2_lf_rs_pe</text>
<text x="3924" y="3177.5">SRR7410554_1_lf_st_sn</text>
<text x="3924" y="3208.5">SRR8350276_1_ad_2_sn</text>
<text x="3924" y="3239.5">SRR8350580_t_ht_3_se</text>
<text x="3924" y="3270.5">SRR8351149_t_bl_3_se</text>
<text x="3924" y="3301.5">SRR8350206_l_lf_rs_sn</text>
<text x="3924" y="3332.5">SRR7410912_t_ht_rs_se</text>
<text x="3924" y="3363.5">SRR8351317_t_lf_st_sn</text>
<text x="3924" y="3394.5">SRR8351195_1_ad_3_pe</text>
<text x="3924" y="3425.5">SRR8350536_t_bl_3_se</text>
<text x="3924" y="3456.5">SRR8350037_t_ad_rs_se</text>
<text x="3924" y="3487.5">SRR8350138_t_ad_2_sn</text>
<text x="3924" y="3518.5">SRR8350633_2_ad_st_se</text>
<text x="3924" y="3549.5">SRR8350952_l_lf_rs_pe</text>
<text x="3924" y="3580.5">SRR8350082_1_ad_rs_sn</text>
<text x="3924" y="3611.5">SRR8350882_2_ht_3_pe</text>
<text x="3924" y="3642.5">SRR8350111_1_ht_2_sn</text>
<text x="3924" y="3673.5">SRR8350400_t_ht_2_se</text>
<text x="3924" y="3704.5">SRR7410213_t_lf_2_pe</text>
<text x="3924" y="3735.5">SRR7410775_t_ht_3_pe</text>
<text x="3924" y="3766.5">SRR8350736_l_lf_rs_pe</text>
<text x="3924" y="3797.5">SRR8351370_t_bl_2_sn</text>
<text x="3924" y="3828.5">SRR8350801_l_bl_st_se</text>
<text x="3924" y="3859.5">SRR8350162_2_ad_3_se</text>
<text x="3924" y="3890.5">SRR7410515_2_ad_3_sn</text>
<text x="3924" y="3921.5">SRR8351172_t_ht_3_sn</text>
<text x="3924" y="3952.5">SRR8350412_t_lf_st_sn</text>
<text x="3924" y="3983.5">SRR8350244_t_ad_st_pe</text>
<text x="3924" y="4014.5">SRR8350930_2_bl_2_pe</text>
<text x="3924" y="4045.5">SRR7410195_2_lf_2_pe</text>
<text x="3924" y="4076.5">SRR8350608_1_lf_rs_pe</text>
<text x="3924" y="4107.5">SRR8350500_2_lf_2_pe</text>
<text x="3924" y="4138.5">SRR8350324_1_ad_st_sn</text>
<text x="3924" y="4169.5">SRR8351632_1_ad_2_se</text>
<text x="3924" y="4200.5">SRR8350019_2_ad_st_sn</text>
<text x="3924" y="4231.5">SRR8350670_l_bl_st_pe</text>
<text x="3924" y="4262.5">SRR7410939_l_ad_st_pe</text>
<text x="3924" y="4293.5">SRR8351646_t_ad_rs_sn</text>
<text x="3924" y="4324.5">SRR7410117_t_lf_st_sn</text>
<text x="3924" y="4355.5">SRR7410855_l_bl_rs_pe</text>
<text x="3924" y="4386.5">SRR7410234_t_ht_rs_pe</text>
<text x="3924" y="4417.5">SRR8350519_t_ht_2_sn</text>
<text x="3924" y="4448.5">SRR8350727_1_ht_2_se</text>
<text x="3924" y="4479.5">SRR8350327_2_ad_2_pe</text>
<text x="3924" y="4510.5">SRR7410918_l_lf_2_sn</text>
<text x="3924" y="4541.5">SRR8350408_1_lf_rs_sn</text>
<text x="3924" y="4572.5">SRR7410082_2_bl_2_sn</text>
<text x="3924" y="4603.5">SRR8350599_1_ad_3_pe</text>
<text x="3924" y="4634.5">SRR8350225_t_lf_3_pe</text>
<text x="3924" y="4665.5">SRR8350637_1_ad_2_se</text>
<text x="3924" y="4696.5">SRR8350879_1_bl_rs_sn</text>
<text x="3924" y="4727.5">SRR8350476_t_bl_2_se</text>
<text x="3924" y="4758.5">SRR7410779_l_ht_st_sn</text>
<text x="3924" y="4819.6">SRR8350855_ck_b_10dpf_c_pe</text>
<text x="3924" y="4850.7">SRR8351007_ck_b_ad48_c_pe</text>
<text x="3924" y="4881.9">SRR8350349_ck_a_24hpf_c_pe</text>
<text x="3924" y="4913.0">SRR8351702_ck_b_ad48_c_pe</text>
<text x="3924" y="4944.2">SRR8351531_sk_a_24hpf_c_pe</text>
<text x="3924" y="4975.3">SRR8350241_ck_b_10dpf_ct_se</text>
<text x="3924" y="5006.5">SRR8350330_sk_a_ad48_c_pe</text>
<text x="3924" y="5037.7">SRR8351474_ck_b_10dpf_c_pe</text>
<text x="3924" y="5068.8">SRR7410495_ck_b_ad48_c_pe</text>
<text x="3924" y="5100.0">SRR8350980_sk_a_10dpf_c_pe</text>
<text x="3924" y="5131.1">SRR8350301_sk_b_10dpf_c_pe</text>
<text x="3924" y="5162.3">SRR8350282_ck_b_10dpf_ct_se</text>
<text x="3924" y="5193.4">SRR7410759_sk_b_10dpf_c_pe</text>
<text x="3924" y="5224.6">SRR7410306_ck_b_10dpf_c_pe</text>
<text x="3924" y="5255.7">SRR8350499_ck_b_ad48_ct_se</text>
<text x="3924" y="5286.9">SRR8350441_ck_b_24hpf_c_pe</text>
<text x="3924" y="5318.0">SRR8351227_ck_b_24hpf_c_pe</text>
<text x="3924" y="5349.2">SRR7410382_ck_b_ad48_c_pe</text>
<text x="3924" y="5380.3">SRR8351010_sk_a_ad48_c_pe</text>
<text x="3924" y="5411.5">SRR8350548_sk_a_10dpf_c_pe</text>
<text x="3924" y="5442.7">SRR8350788_ck_b_24hpf_c_pe</text>
<text x="3924" y="5473.8">SRR8350501_sk_a_10dpf_ct_se</text>
<text x="3924" y="5505.0">SRR7410926_ck_a_ad48_c_pe</text>
<text x="3924" y="5536.1">SRR8350460_ck_b_10dpf_c_pe</text>
<text x="3924" y="5567.3">SRR7410428_ck_b_10dpf_c_pe</text>
<text x="3924" y="5598.4">SRR7410038_sk_a_10dpf_c_pe</text>
<text x="3924" y="5649.5">SRR7410521_2_h_se</text>
<text x="3924" y="5680.5">SRR8350172_1_h_se</text>
<text x="3924" y="5711.6">SRR8350918_2_l_se</text>
<text x="3924" y="5742.6">SRR8350530_sk_b_10dpf_c_pe</text>
<text x="3924" y="5773.6">SRR8350852_sk_b_ad48_ct_se</text>
<text x="3924" y="5804.6">SRR7410285_2_ls_se</text>
<text x="3924" y="5835.7">SRR8351159_2_hr_pe</text>
<text x="3924" y="5866.7">SRR7410497_1_ls_se</text>
<text x="3924" y="5897.7">SRR8350324_1_ls_pe</text>
<text x="3924" y="5928.7">SRR8350804_2_hr_se</text>
<text x="3924" y="5959.8">SRR8350380_1_ls_se</text>
<text x="3924" y="5990.8">SRR8350318_2_hr_se</text>
<text x="3924" y="6021.8">SRR7410323_sk_b_10dpf_c_pe</text>
<text x="3924" y="6052.8">SRR8350325_ck_b_10dpf_c_pe</text>
<text x="3924" y="6083.9">SRR7410256_2_a_3_pe</text>
<text x="3924" y="6114.9">SRR8350755_1_a_2_pe</text>
<text x="3924" y="6145.9">SRR8350997_1_b_3_se</text>
<text x="3924" y="6176.9">SRR7410274_2_a_2_pe</text>
<text x="3924" y="6208.0">SRR7410980_1_a_2_pe</text>
<text x="3924" y="6239.0">SRR7410690_2_a_2_se</text>
<text x="3924" y="6270.0">SRR8350184_1_b_2_pe</text>
<text x="3924" y="6301.1">SRR8350049_1_a_3_pe</text>
<text x="3924" y="6332.1">SRR7410399_1_a_3_pe</text>
<text x="3924" y="6363.1">SRR8350117_1_b_2_se</text>
<text x="3924" y="6394.1">SRR8350960_1_a_2_se</text>
<text x="3924" y="6425.2">SRR8350489_1_a_3_se</text>
<text x="3924" y="6456.2">SRR8350720_2_b_2_se</text>
<text x="3924" y="6487.2">SRR8351766_2_b_3_se</text>
<text x="3924" y="6518.2">SRR7410152_2_b_2_se</text>
<text x="3924" y="6549.3">SRR8350307_1_b_3_pe</text>
<text x="3924" y="6580.3">SRR8350054_1_b_2_pe</text>
<text x="3924" y="6611.3">SRR8351014_1_a_3_se</text>
<text x="3924" y="6642.3">SRR8351713_2_a_3_se</text>
<text x="3924" y="6673.4">SRR8350149_1_b_3_se</text>
<text x="3924" y="6704.4">SRR8350605_2_b_3_se</text>
<text x="3924" y="6735.4">SRR8350276_1_a_2_se</text>
<text x="3924" y="6766.4">SRR8350289_2_b_3_pe</text>
<text x="3924" y="6797.5">SRR7410342_1_b_2_pe</text>
<text x="3924" y="6828.5">SRR7410435_2_a_2_se</text>
</g>
<text x="76.5" y="8.9" font-size="10.5" text-anchor="middle" fill="#111" stroke="#111" stroke-width="0.25">1</text>
<text x="192.5" y="8.9" font-size="10.5" text-anchor="middle" fill="#111" stroke="#111" stroke-width="0.25">2</text>
<text x="276" y="8.9" font-size="10.5" text-anchor="middle" fill="#111" stroke="#111" stroke-width="0.25">3</text>
<text x="328" y="8.9" font-size="10.5" text-anchor="middle" fill="#111" stroke="#111" stroke-width="0.25">4</text>
<rect x="399" y="14" width="18" height="212" fill="#cfe3fa"/>
<rect x="399" y="228" width="18" height="249" fill="#bfd3ec"/>
<rect x="399" y="479" width="18" height="82" fill="#a5b8cf"/>
<rect x="399" y="562" width="18" height="122" fill="#6b7a8b"/>
<rect x="398" y="527.8" width="20" height="1" fill="#d2574f" opacity="0.9" shape-rendering="auto"/>
<rect x="398" y="564.8" width="20" height="1" fill="#d2574f" opacity="0.9" shape-rendering="auto"/>
<rect x="398" y="567.8" width="20" height="1" fill="#d2574f" opacity="0.9" shape-rendering="auto"/>
<rect x="398" y="570.9" width="20" height="1" fill="#d2574f" opacity="0.9" shape-rendering="auto"/>
<rect x="398" y="573.9" width="20" height="1" fill="#d2574f" opacity="0.9" shape-rendering="auto"/>
<rect x="398" y="576.9" width="20" height="1" fill="#d2574f" opacity="0.9" shape-rendering="auto"/>
<rect x="398" y="598.9" width="20" height="1" fill="#d2574f" opacity="0.9" shape-rendering="auto"/>
<rect x="398" y="601.8" width="20" height="1" fill="#d2574f" opacity="0.9" shape-rendering="auto"/>
<rect x="398" y="604.5" width="20" height="1" fill="#d2574f" opacity="0.9" shape-rendering="auto"/>
<defs><linearGradient id="lg" x1="0" y1="0" x2="0" y2="1">
<stop offset="0" stop-color="#cc6070"/>
<stop offset="0.1" stop-color="#d9808b"/>
<stop offset="0.2" stop-color="#e5a0a7"/>
<stop offset="0.3" stop-color="#f0bfc3"/>
<stop offset="0.4" stop-color="#f8dfe1"/>
<stop offset="0.5" stop-color="#ffffff"/>
<stop offset="0.6" stop-color="#ebf4fd"/>
<stop offset="0.7" stop-color="#d7e9fa"/>
<stop offset="0.8" stop-color="#c2def7"/>
<stop offset="0.9" stop-color="#add3f5"/>
<stop offset="1" stop-color="#96c8f2"/>
</linearGradient></defs>
<text x="424" y="326" font-size="8" font-weight="bold" fill="#111">corr</text>
<rect x="424" y="330" width="10" height="48" fill="url(#lg)"/>
<line x1="424" x2="426" y1="332.5" y2="332.5" stroke="#fff" stroke-width="0.6" shape-rendering="auto"/>
<line x1="432" x2="434" y1="332.5" y2="332.5" stroke="#fff" stroke-width="0.6" shape-rendering="auto"/>
<line x1="424" x2="426" y1="354.5" y2="354.5" stroke="#fff" stroke-width="0.6" shape-rendering="auto"/>
<line x1="432" x2="434" y1="354.5" y2="354.5" stroke="#fff" stroke-width="0.6" shape-rendering="auto"/>
<line x1="424" x2="426" y1="376.5" y2="376.5" stroke="#fff" stroke-width="0.6" shape-rendering="auto"/>
<line x1="432" x2="434" y1="376.5" y2="376.5" stroke="#fff" stroke-width="0.6" shape-rendering="auto"/>
<text x="436" y="335" font-size="7" fill="#222">1</text>
<text x="436" y="357" font-size="7" fill="#222">0.5</text>
<text x="436" y="379" font-size="7" fill="#222">0</text>
</svg></body></html>
